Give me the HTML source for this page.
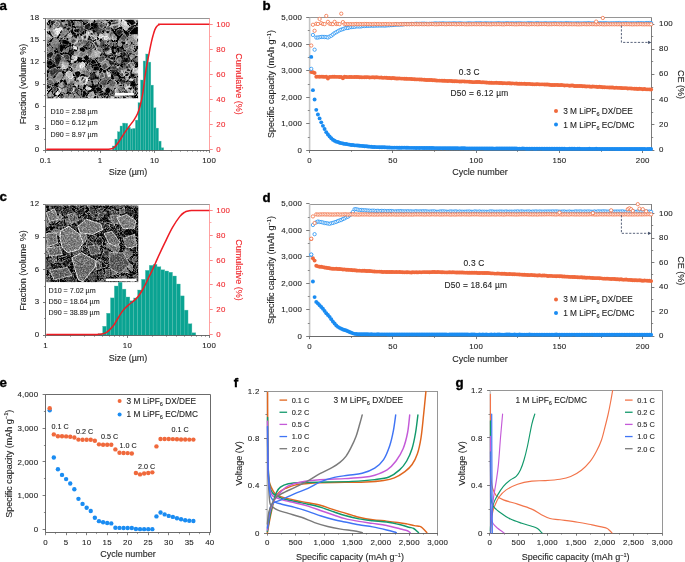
<!DOCTYPE html>
<html><head><meta charset="utf-8"><title>Figure</title>
<style>
html,body{margin:0;padding:0;background:#fff;}
svg{display:block;}
</style></head>
<body>
<svg width="685" height="562" viewBox="0 0 685 562" font-family="'Liberation Sans', Arial, sans-serif" font-size="7.9" fill="#1e1e1e">
<rect width="685" height="562" fill="#fff"/>
<defs>
<filter id="grain" x="0" y="0" width="100%" height="100%" color-interpolation-filters="sRGB"><feTurbulence type="fractalNoise" baseFrequency="0.9" numOctaves="1" seed="3" result="n"/><feColorMatrix in="n" type="matrix" values="0 0 0 0 1  0 0 0 0 1  0 0 0 0 1  -3.5 0 0 0 2.2"/></filter>
<filter id="grain2" x="0" y="0" width="100%" height="100%" color-interpolation-filters="sRGB"><feTurbulence type="fractalNoise" baseFrequency="0.7" numOctaves="1" seed="9" result="n"/><feColorMatrix in="n" type="matrix" values="0 0 0 0 0  0 0 0 0 0  0 0 0 0 0  -3.5 0 0 0 2.0"/></filter>
<filter id="debris" x="0" y="0" width="100%" height="100%" color-interpolation-filters="sRGB"><feTurbulence type="turbulence" baseFrequency="0.35" numOctaves="2" seed="4" result="n"/><feColorMatrix in="n" type="matrix" values="0 0 0 0 0.95  0 0 0 0 0.95  0 0 0 0 0.95  -6 0 0 0 1.55"/></filter>
<clipPath id="clipA"><rect x="46.6" y="19.4" width="91.6" height="79"/></clipPath>
<clipPath id="clipC"><rect x="45.9" y="205.2" width="92.6" height="77"/></clipPath>
<filter id="debris2" x="0" y="0" width="100%" height="100%" color-interpolation-filters="sRGB"><feTurbulence type="turbulence" baseFrequency="0.3" numOctaves="2" seed="8" result="n"/><feColorMatrix in="n" type="matrix" values="0 0 0 0 1  0 0 0 0 1  0 0 0 0 1  -9 0 0 0 1.5"/></filter>
<filter id="shade" x="0" y="0" width="100%" height="100%" color-interpolation-filters="sRGB"><feTurbulence type="fractalNoise" baseFrequency="0.11" numOctaves="2" seed="21" result="n"/><feColorMatrix in="n" type="matrix" values="0 0 0 0 0  0 0 0 0 0  0 0 0 0 0  -2.6 0 0 0 1.55"/></filter>
<filter id="contrastA" x="0" y="0" width="100%" height="100%" color-interpolation-filters="sRGB"><feComponentTransfer><feFuncR type="linear" slope="1.45" intercept="-0.2"/><feFuncG type="linear" slope="1.45" intercept="-0.2"/><feFuncB type="linear" slope="1.45" intercept="-0.2"/></feComponentTransfer></filter>
<filter id="contrastC" x="0" y="0" width="100%" height="100%" color-interpolation-filters="sRGB"><feComponentTransfer><feFuncR type="linear" slope="1.35" intercept="-0.15"/><feFuncG type="linear" slope="1.35" intercept="-0.15"/><feFuncB type="linear" slope="1.35" intercept="-0.15"/></feComponentTransfer></filter>
</defs>
<text x="-0.6" y="10.1" font-weight="bold" fill="#000" font-size="13.3" stroke="#000" stroke-width="0.35">a</text>
<g clip-path="url(#clipA)"><g filter="url(#contrastA)">
<rect x="46.6" y="19.4" width="91.6" height="79" fill="#050505"/><rect x="46.6" y="19.4" width="91.6" height="79" filter="url(#debris)" opacity="0.6"/><path d="M90,74.1 89.8,74.5 90.1,80.4 98.6,80.4 100.2,73.7Z" fill="#2e2e2e" stroke="#c0c0c0" stroke-width="0.5"/><path d="M48.6,53.3 54.8,52.9 50,45 46.6,47.8 46.6,51Z" fill="#767676" stroke="#b2b2b2" stroke-width="0.4"/><path d="M71.9,27.6 69,36.1 76.7,34.2 72.3,27.5Z" fill="#121212" stroke="#c7c7c7" stroke-width="0.5"/><path d="M78.4,47.2 76.2,58.2 83.3,60.1 87.1,58.6 89.1,51.5 80.6,45.8Z" fill="#979797" stroke="#e4e4e4" stroke-width="0.4"/><path d="M84.3,64.2 77.3,62.6 73.4,64.7 71.5,67.2 75.2,74.5 85.6,73.4 85.9,73.1 84.6,65.5Z" fill="#989898" stroke="#d4d4d4" stroke-width="0.5"/><path d="M97.8,49.1 101.7,49.3 102.6,48 102.3,44.3 99.7,41.5Z" fill="#5a5a5a" stroke="#b4b4b4" stroke-width="0.5"/><path d="M114.2,67.9 113.8,67.8 111.6,72.6 114.7,76.7 120.5,80.7 121.1,80.7 124.1,77.6 124.3,77.3Z" fill="#101010" stroke="#d2d2d2" stroke-width="0.4"/><path d="M97,50.5 92.5,49.1 92.2,49.2 89.7,56.9 93.6,58.6 98.8,56.8 100.8,52.5Z" fill="#a0a0a0" stroke="#f0f0f0" stroke-width="0.3"/><path d="M81.9,95.4 82.5,94.1 80.5,91 78.8,90.1 68.5,96.5 72,98.4 76.7,98.4Z" fill="#212121" stroke="#bdbdbd" stroke-width="0.4"/><path d="M125.8,77.2 128.8,75.9 129,72.6 126,67.4 125.4,67.2 122.9,66.9Z" fill="#979797" stroke="#d3d3d3" stroke-width="0.5"/><path d="M67.1,94.4 77.6,88 74.8,85.2 70.1,87 65.5,94.1Z" fill="#0d0d0d" stroke="#c9c9c9" stroke-width="0.4"/><path d="M90.1,47.9 90.3,47.7 92,40.9 80.7,40.7 79.7,44.6Z" fill="#2b2b2b" stroke="#b0b0b0" stroke-width="0.5"/><path d="M49,59.6 46.6,65.6 46.6,70.4 57.1,66.8 54,62.4Z" fill="#191919" stroke="#ebebeb" stroke-width="0.4"/><path d="M77.8,32 78.6,33.3 83,31.4 84.4,30.1 81.3,20.8 75.3,25.1Z" fill="#555555" stroke="#cccccc" stroke-width="0.3"/><path d="M68.5,27.2 62.8,32.1 60.7,36.8 65.8,38 66.9,36.6 70.7,27.6Z" fill="#2a2a2a" stroke="#eeeeee" stroke-width="0.5"/><path d="M117.7,40.5 117.7,40.5 124.5,37.3 124.5,37 119.7,29.2 113.1,32Z" fill="#0c0c0c"/><path d="M97.2,38.4 91.7,30.5 89.6,30.3 87.9,31.9 92.2,39.8 97.1,38.5Z" fill="#ababab" stroke="#e7e7e7" stroke-width="0.4"/><path d="M113.5,28.5 120,26.7 120.3,26.4 120.4,19.4 116.6,19.4 109.5,26.4 109.5,26.5Z" fill="#c8c8c8" stroke="#ffffff" stroke-width="0.3"/><path d="M94.2,41.8 94.2,41.8 92,47.5 96.1,47.9 99.3,41.2 98.5,39.7Z" fill="#676767" stroke="#f1f1f1" stroke-width="0.5"/><path d="M72.4,61.6 75.4,58.2 72.9,47.3 69.3,47 64.6,51.5 63.5,55.3Z" fill="#121212" stroke="#f3f3f3" stroke-width="0.3"/><path d="M48.3,73.7 60.6,77.5 60.6,77.5 62.6,69.1 57.2,69.2Z" fill="#4c4c4c" stroke="#afafaf" stroke-width="0.4"/><path d="M100.6,70.8 95.2,61 91.6,59.8 87.8,61.4 88.1,62.8 99.3,71.7Z" fill="#151515" stroke="#e1e1e1" stroke-width="0.3"/><path d="M53.5,96.6 51.3,95.7 46.6,97.9 46.6,98.4 53.9,98.4Z" fill="#232323" stroke="#bcbcbc" stroke-width="0.4"/><path d="M108.5,72.3 104.1,73.2 103,74.2 102.6,74.6 101,80.9 102.9,88.1 111,77.2Z" fill="#626262" stroke="#bebebe" stroke-width="0.5"/><path d="M117.4,43.2 117.3,43.2 120.2,50.7 124.6,49.8 125.8,42.4 124,40.6Z" fill="#1d1d1d" stroke="#d8d8d8" stroke-width="0.4"/><path d="M104.9,50.8 103.8,51.7 102.5,55 110.5,59.7 111.1,58.2 108.8,53.9Z" fill="#2b2b2b" stroke="#efefef" stroke-width="0.5"/><path d="M136.8,44 137.9,50.3 138.2,50.4 138.2,42.6Z" fill="#9b9b9b" stroke="#dcdcdc" stroke-width="0.4"/><path d="M104.7,27.5 100,20.7 92.7,28.9 99.1,35 99.5,34.5 104.7,27.5Z" fill="#565656"/><path d="M91.2,41.3 91.3,41.2 86.5,33.5 81.4,36 81,38.2Z" fill="#c5c5c5" stroke="#ffffff" stroke-width="0.3"/><path d="M51.1,38.2 46.6,32.6 46.6,44.5 48.4,42.2Z" fill="#676767" stroke="#cdcdcd" stroke-width="0.5"/><path d="M102.7,39.2 103.9,42.7 108.6,44.1 113.2,43.3 113.2,43.3 113.2,43.2 102.8,37.2 102.3,37.6 102.3,37.6Z" fill="#6e6e6e" stroke="#cdcdcd" stroke-width="0.4"/><path d="M129.8,70.5 135.2,67.3 131.2,63.8 127.2,64.7Z" fill="#9d9d9d" stroke="#dfdfdf" stroke-width="0.4"/><path d="M62.6,93.6 67.4,85.9 60.6,82.5 60.5,82.5 57.9,87.1 61.3,93.8Z" fill="#5c5c5c" stroke="#acacac" stroke-width="0.3"/><path d="M128.4,83.2 124.5,84.7 125.4,91.6 128.3,95.3 132.4,94.1 133.4,92.6Z" fill="#bbbbbb" stroke="#f7f7f7" stroke-width="0.4"/><path d="M85.9,88.4 87.4,92.2 94.9,94.1 99.1,92.7 99.3,91.1 98.2,83.9 90.6,82.8Z" fill="#1e1e1e" stroke="#c7c7c7" stroke-width="0.4"/><path d="M87.5,66.1 90.3,72.4 98.9,71.3 99.2,71Z" fill="#858585" stroke="#dadada" stroke-width="0.4"/><path d="M127.4,98 122.4,95.3 118.3,98.4 127.4,98.4Z" fill="#191919" stroke="#d3d3d3" stroke-width="0.4"/><path d="M57.5,80.6 47.9,73.5 47.5,73.5 48.4,79.5 52.5,83.6 54.4,84.3Z" fill="#7f7f7f"/><path d="M126.5,64.3 130.5,61.6 132.3,54 127.5,54.1 125.8,64.2Z" fill="#2e2e2e" stroke="#e2e2e2" stroke-width="0.4"/><path d="M124.9,62.9 125.4,52.5 122.6,52 117.9,53.8 115.5,60 115.6,62 116.6,64.4 117.1,64.3 121.8,63.7Z" fill="#262626" stroke="#bfbfbf" stroke-width="0.5"/><path d="M56.4,36.9 57.4,36.6 59.5,32.4 53.4,24.3 49.3,29.7 52.8,36.2 54.7,36.9Z" fill="#acacac" stroke="#e8e8e8" stroke-width="0.5"/><path d="M122.2,25.9 123.6,26 127.3,24.8 126.9,22 124.7,19.4 123,19.4Z" fill="#bdbdbd"/><path d="M56.5,63.4 60.2,67.5 66.5,67.5 68.7,65.9 69.6,62.6 60.1,55.5 57.9,55.6Z" fill="#838383"/><path d="M48.4,86.4 46.6,85.3 46.6,88.1Z" fill="#151515" stroke="#ababab" stroke-width="0.3"/><path d="M135.6,33.8 131.9,34.9 127.8,38.5 127.7,38.7 129.2,40.7 133.6,42.1 138.2,37.8 138.2,36.3Z" fill="#bdbdbd" stroke="#f9f9f9" stroke-width="0.5"/><path d="M128.3,79.6 127.9,79.9 134.7,91 137.8,87.7 138.2,85.3 138.2,84.1 136.7,80.1 132.4,78.1 128.5,79.5Z" fill="#292929" stroke="#c9c9c9" stroke-width="0.3"/><path d="M132.2,61.3 136.4,64.2 138.2,64.1 138.2,57.8 137.3,55.9 136.2,55.5 135.3,55.6Z" fill="#161616" stroke="#e1e1e1" stroke-width="0.4"/><path d="M89.2,23.7 90.9,23.3 93.8,19.4 86.1,19.4Z" fill="#a6a6a6" stroke="#e2e2e2" stroke-width="0.4"/><path d="M66.2,98.1 64.4,97.4 62.8,97.4 62.1,98.1 62.2,98.4 66.6,98.4Z" fill="#878787" stroke="#ebebeb" stroke-width="0.3"/><path d="M102.3,36.4 114,39.9 111.3,31.3 107.5,29.2Z" fill="#969696" stroke="#d2d2d2" stroke-width="0.5"/><path d="M119.2,86.7 108.7,93.8 112.2,98.3 122.2,93.7 119.9,86.9Z" fill="#575757" stroke="#f0f0f0" stroke-width="0.5"/><path d="M136,25.1 136.9,19.4 132.8,19.4 128.7,22.8 130.2,25.8Z" fill="#c4c4c4"/><path d="M69.6,70.2 67.1,71.1 62.1,79.1 68.9,84.1 74.7,82.8 73.9,77.7Z" fill="#939393" stroke="#cfcfcf" stroke-width="0.4"/><path d="M65.5,26.1 58.8,19.4 56.3,19.4 55.1,21.2 60,29.4Z" fill="#5d5d5d" stroke="#c0c0c0" stroke-width="0.5"/><path d="M104.1,49.1 109.2,50.9 108.8,45 104,45.6Z" fill="#0c0c0c" stroke="#afafaf" stroke-width="0.3"/><path d="M122,28.8 125.5,37.7 130.2,33.6 124,28.5 122.4,28.5Z" fill="#1e1e1e" stroke="#cfcfcf" stroke-width="0.4"/><path d="M54.9,50.9 55.3,50.9 56,41.1 54,40.1 50.5,43.2Z" fill="#8a8a8a"/><path d="M136,76.6 138.2,75 138.2,67.3 137.9,67.3 132.5,71.2 132.1,75Z" fill="#8f8f8f" stroke="#eaeaea" stroke-width="0.5"/><path d="M77.7,76.6 77.7,81.7 79.7,85.7 81.3,87.4 87.2,82.2 88.5,76.6Z" fill="#b6b6b6"/><path d="M111,65.4 111.2,63.4 103,57.7 98.7,59.1 102.8,68.5 106.9,68.8Z" fill="#898989" stroke="#e7e7e7" stroke-width="0.4"/><path d="M110.9,52 114.5,56.1 117.5,51.3 115.2,44 111,46.1Z" fill="#0b0b0b" stroke="#f1f1f1" stroke-width="0.4"/><path d="M133.8,27 129.3,26.8 125.9,28.5 131.4,32.2 134.7,30.7Z" fill="#232323" stroke="#d4d4d4" stroke-width="0.5"/><path d="M114.2,79.1 102.8,88.6 102.4,90.4 105.2,92.2 118.6,86.1Z" fill="#959595" stroke="#d1d1d1" stroke-width="0.3"/><path d="M69.2,45.4 66.3,40.7 61.5,38.9 60.4,39.2 63.2,47.5Z" fill="#464646" stroke="#e2e2e2" stroke-width="0.3"/><path d="M116.2,66.5 125.3,76.4 125.5,76.3 120.1,66.6Z" fill="#b6b6b6" stroke="#f2f2f2" stroke-width="0.4"/><path d="M58.7,51.5 60.6,51.9 62.5,48.7 58.7,41 56.9,41.2 57.8,51Z" fill="#636363" stroke="#b1b1b1" stroke-width="0.4"/><path d="M125.4,49.7 127.5,51.5 131.9,53.2 133,53.1 133.9,45.6 129.5,42.8Z" fill="#6e6e6e" stroke="#c5c5c5" stroke-width="0.3"/><path d="M50.3,54 49.9,56.8 53.8,61.3 58.5,55 57.6,54.2 57,54.1Z" fill="#676767" stroke="#cacaca" stroke-width="0.5"/><path d="M68.6,38.9 67.8,40.6 72.4,44.2 76,44.8 77.8,42.7 78.5,39 78.1,36.7 76.7,35.6Z" fill="#b4b4b4"/><path d="M111.4,46.6 112.7,42.4 111.8,41.7 108.9,44.2 109.2,45.1 111.2,46.6Z" fill="#575757" stroke="#b5b5b5" stroke-width="0.4"/><path d="M128.5,88.6 131.1,90.4 132,87.9 130,87.5 128.4,87.7 128.2,87.9Z" fill="#232323"/><path d="M78.8,55.4 81.9,57 84.4,53.8 84.4,53.6 80.6,52.6Z" fill="#7d7d7d"/><path d="M106.5,72.4 107.1,75.8 108.1,76.9 110.3,76.7 111.4,75.5 111.1,73.8 109.9,72 109.2,71.4Z" fill="#bbbbbb"/><path d="M89.7,80.4 89.7,80.4 87.1,84.4 91.9,85.6 92,85.4 90.7,81.3Z" fill="#7e7e7e" stroke="#ededed" stroke-width="0.3"/><path d="M94.8,59.8 92.5,59.3 91.9,59.6 90.1,62.9 93,64.4 97.1,63.4Z" fill="#0e0e0e" stroke="#e9e9e9" stroke-width="0.5"/><path d="M132.6,71 136.4,73.6 137.3,72.5 137.1,68.5 136.1,68 133.1,68.9 132.6,70Z" fill="#b7b7b7" stroke="#f3f3f3" stroke-width="0.4"/><path d="M112,54.1 107.4,55.7 107.7,57.2 107.7,57.2 111.7,56.2 112.2,54.4Z" fill="#121212" stroke="#f3f3f3" stroke-width="0.3"/><path d="M107.1,44.9 105.3,43.4 103.5,47.6 103.5,47.7 107.7,45.8Z" fill="#141414" stroke="#f3f3f3" stroke-width="0.5"/><path d="M79.3,48.5 79.2,48.9 80.1,51 83.9,52.3 85.5,49.6 84.6,47.8 84.4,47.7 82.1,46.8Z" fill="#0a0a0a" stroke="#c1c1c1" stroke-width="0.5"/><path d="M79.5,82.2 79.3,81 78.2,79.4 75.8,80.1 75.8,80.3 79.5,82.2Z" fill="#1f1f1f" stroke="#c3c3c3" stroke-width="0.5"/><path d="M84.6,45.2 84.7,45.3 87.6,41.6 86.2,40.2 84.6,40.4Z" fill="#6c6c6c" stroke="#eeeeee" stroke-width="0.4"/><path d="M108.5,19.5 108.4,20 109.1,21.1 109.5,21.3 110,21 110.6,19.4 108.5,19.4Z" fill="#494949" stroke="#afafaf" stroke-width="0.4"/><path d="M116.7,38 116.8,37.1 113.3,33.6 111.9,39 113.1,39.5 114.1,39.8 115.8,39Z" fill="#afafaf" stroke="#ebebeb" stroke-width="0.5"/><path d="M69.5,78.3 72.1,78.5 72.4,78.2 72.5,78 72.3,72.2 69.9,71.3 66.6,72.3 66.4,75.2Z" fill="#aaaaaa" stroke="#e9e9e9" stroke-width="0.5"/><path d="M87.5,39.7 89,40.5 91.6,40.7 92.1,40.2 88.8,37.2 87.8,37.9Z" fill="#2c2c2c"/><path d="M87.8,64.2 87.7,64.3 85.2,68.5 91.3,70.3 91.2,66.2Z" fill="#646464" stroke="#b0b0b0" stroke-width="0.4"/><path d="M131,67.6 129.8,63.1 127.5,64.1 128.2,67.1 130.5,68.7Z" fill="#525252" stroke="#d8d8d8" stroke-width="0.4"/><path d="M116.6,88.1 119.3,89.6 120.8,88.3 117,87.4Z" fill="#747474" stroke="#d6d6d6" stroke-width="0.3"/><path d="M127.9,90 129.7,94 131.1,94 131.2,91.7Z" fill="#7a7a7a" stroke="#c2c2c2" stroke-width="0.4"/><path d="M130.8,59.5 132.1,59.3 134.5,57.1 132.5,54.3 132,54.1 129.3,55.7 129.2,56.4Z" fill="#b7b7b7"/><path d="M125.3,49.2 125.7,49.2 128.9,47.3 129,45.4 123.9,44.5 123.6,44.8 123.7,47.8Z" fill="#6d6d6d" stroke="#eeeeee" stroke-width="0.4"/><path d="M61.8,87.5 64.1,86.1 61.6,83 58.1,84.5 58.9,85.7Z" fill="#9c9c9c" stroke="#d8d8d8" stroke-width="0.5"/><path d="M130.6,81.1 133,80.5 133.4,79.2 130.5,78.4 129.2,80.3Z" fill="#b1b1b1" stroke="#ededed" stroke-width="0.5"/><path d="M62.9,81.6 65.5,85.1 66.5,85.6 67.4,85.1 67.6,84.1 65,78Z" fill="#202020" stroke="#d1d1d1" stroke-width="0.4"/><path d="M119.3,91.6 118.8,90.7 116.3,88.4 115.7,88.7 117.8,93.6Z" fill="#a0a0a0" stroke="#dcdcdc" stroke-width="0.4"/><path d="M56.5,97.5 55.2,96.5 53.8,97.6 53.8,97.7 53.8,98.4 56.2,98.4Z" fill="#c1c1c1" stroke="#fdfdfd" stroke-width="0.5"/><path d="M118.5,20 118.5,19.4 113.1,19.4 112.8,21.6Z" fill="#4a4a4a" stroke="#adadad" stroke-width="0.4"/><path d="M79.3,61.3 82.2,59 81.7,57.7 78.1,57 77.8,57.2 78.3,60.2 78.6,60.7Z" fill="#0f0f0f"/><path d="M82.6,61.7 80.2,63.1 79.9,67.6 81.4,68 83.1,67 85.4,63.8Z" fill="#bebebe" stroke="#fafafa" stroke-width="0.5"/><path d="M82.3,88.4 83.4,86.3 83.2,86 81.8,84.7 81.2,84.6 81.2,84.6 79.2,86.5 79.5,87.6 80.8,88.5Z" fill="#828282" stroke="#c7c7c7" stroke-width="0.5"/><path d="M69.5,38.9 72,36.9 71.6,33.7 70.3,32.3 70.1,32.4 66.4,37.3Z" fill="#a8a8a8" stroke="#e4e4e4" stroke-width="0.4"/><path d="M73.7,96.2 72.7,93.9 72.2,93.8 71.1,93.9 69.2,94.6 69.8,98.4 72.8,98.4Z" fill="#8e8e8e" stroke="#cacaca" stroke-width="0.5"/><path d="M54.9,67.4 51.4,68.8 49.2,71.1 50.8,76.5 52.2,76.8 58.6,70.1 58,69.4Z" fill="#4a4a4a" stroke="#cfcfcf" stroke-width="0.4"/><path d="M97.3,46.2 98.2,45.6 95.2,41.8 94.3,42.8Z" fill="#252525"/><path d="M115.6,70.9 113.7,73.4 114.7,74.9 117.1,73.4 117.1,73 115.6,70.9Z" fill="#1a1a1a" stroke="#b8b8b8" stroke-width="0.4"/><path d="M67.8,47.4 62.9,51.3 63.3,51.6 67.9,52.6 68.4,51.6 69.4,46.9Z" fill="#7f7f7f" stroke="#c3c3c3" stroke-width="0.5"/><path d="M118.6,85.9 118.2,86.6 121.7,88.2 123.3,88.3 123.8,87.6 122.4,86.7 121.5,86.3Z" fill="#737373" stroke="#afafaf" stroke-width="0.4"/><path d="M80.9,91 79.1,90.1 77.3,92.8 80.5,97 81.2,97.3Z" fill="#8e8e8e"/><path d="M104.8,69.7 107.5,68 108.2,66.2 105.4,62.2 101.6,66 102.6,68.9Z" fill="#5c5c5c" stroke="#f3f3f3" stroke-width="0.5"/><path d="M92.3,51 90.3,49.2 87.6,50 86.7,52.6 86.8,52.8 90.8,55.8 91.5,55.6Z" fill="#7a7a7a" stroke="#b8b8b8" stroke-width="0.5"/><path d="M102.2,49.2 102.2,49.2 101.1,48 99.6,47.8 98.3,48.1 96.5,49.5 100.8,53.1 102.1,53 102.3,52.5Z" fill="#6c6c6c" stroke="#f1f1f1" stroke-width="0.5"/><path d="M73.5,87.2 72.5,91.8 73.4,91.8 74.7,87.6Z" fill="#c0c0c0" stroke="#fcfcfc" stroke-width="0.4"/><path d="M84.4,70.6 82.8,72 84.2,74.2 86.3,75.8 87.6,76.1 88.9,76.1 89,76.1 90,71.9 89.8,71.7Z" fill="#7d7d7d"/><path d="M49.7,50.7 47.8,47.5 46.6,47.2 46.6,47.2 46.6,52.1Z" fill="#6e6e6e" stroke="#c0c0c0" stroke-width="0.5"/><path d="M83,36.6 84,38.9 84.3,38.9 85.8,38.6 86.4,36.7 85.4,35.3Z" fill="#313131" stroke="#cfcfcf" stroke-width="0.5"/><path d="M53.2,85 54.5,83.2 51.2,79.4 49.9,79.2 46.6,81 46.6,82.5Z" fill="#686868" stroke="#c0c0c0" stroke-width="0.5"/><path d="M118.5,57.9 117,59.6 116.7,60.6 117.3,62.5 118,63.1 120.2,63.2 120.9,62.8 121.3,58.9 120.5,57.6Z" fill="#737373" stroke="#eaeaea" stroke-width="0.5"/><path d="M107.3,80.2 105.9,78.8 101.1,80.8 99.7,84 103.9,86.2 106.5,85.3Z" fill="#555555" stroke="#e0e0e0" stroke-width="0.3"/><path d="M108,22.1 106.9,21 104,21.1 103.7,22.7 104.1,23 106.8,22.9Z" fill="#a2a2a2" stroke="#eaeaea" stroke-width="0.4"/><path d="M61.4,68.4 62.1,69 65.3,69.6 68.6,67.5 68.1,63.1 68,62.9 62.4,61Z" fill="#b7b7b7"/><path d="M123.5,69.2 123.5,69.2 124.3,69.3 126.5,67.8 126.3,64.8 123.5,64.5 122.8,64.9Z" fill="#858585"/><path d="M125.5,98.4 132.4,98.4 132.6,97.9 130.7,96.6 129.4,96.3 126.6,97.3 125.8,98Z" fill="#b3b3b3" stroke="#f4f4f4" stroke-width="0.3"/><path d="M138.2,66.1 138.2,63.4 135.8,63.1 136.6,65.9 137.4,66.5Z" fill="#141414"/><path d="M59.4,40.2 57.9,38.7 54.1,37 50,44 52.4,46.8 54.9,48.6 56.6,48.3 58.6,43.4Z" fill="#848484"/><path d="M129.1,86.1 130,82.7 128.5,81.8 127.2,82.2 126.9,82.9 127.1,86.1Z" fill="#595959" stroke="#b5b5b5" stroke-width="0.5"/><path d="M136.3,86.3 136.2,86.8 138.2,88.1 138.2,85.1Z" fill="#737373" stroke="#d7d7d7" stroke-width="0.5"/><path d="M113.9,89.9 112.9,89.9 111,93.6 111.1,93.6 112.6,94.6 114,93Z" fill="#313131" stroke="#cccccc" stroke-width="0.4"/><path d="M115.1,54.3 113.5,54.3 113.8,56.2 115.9,58 116.8,55.8Z" fill="#2f2f2f" stroke="#b3b3b3" stroke-width="0.4"/><path d="M79.9,98.2 74.9,97.3 74.3,98.4 79.5,98.4Z" fill="#939393" stroke="#d7d7d7" stroke-width="0.4"/><path d="M105.1,94.8 103.2,96.8 103.3,97.2 104.2,98.3 104.7,97.9 106.9,95.7Z" fill="#191919" stroke="#e7e7e7" stroke-width="0.5"/><path d="M137.8,77.9 137,77.2 135.2,79.3 135,80.7 136,83.8 138.2,83 138.2,79.3Z" fill="#666666" stroke="#f3f3f3" stroke-width="0.4"/><path d="M107.5,95.9 105.3,98.2 108,98.4 108.3,96.1Z" fill="#0a0a0a" stroke="#b6b6b6" stroke-width="0.3"/><path d="M61.2,92 61.4,89.2 58.5,87.6 59.2,89.8 60.9,92.3Z" fill="#aeaeae" stroke="#eaeaea" stroke-width="0.4"/><path d="M96.7,37.4 97.1,37.2 97.5,34.2 95.4,32.4 94.6,35.3 94.6,35.5Z" fill="#9e9e9e" stroke="#dadada" stroke-width="0.3"/><path d="M95.1,21 98.3,23.1 102.1,21.6 102.4,19.9 102.1,19.4 95.8,19.4Z" fill="#919191" stroke="#e8e8e8" stroke-width="0.4"/><path d="M113.2,29 114.3,29.4 118.1,27 117.9,25.1 112.4,26.2 112.4,26.3Z" fill="#525252" stroke="#bebebe" stroke-width="0.5"/><path d="M51.6,97.5 49.2,98.3 49.2,98.4 51.2,98.4 51.6,97.6Z" fill="#1e1e1e" stroke="#dcdcdc" stroke-width="0.3"/><path d="M70.6,91.8 73.1,87.5 72.9,87.3 69.8,86.9 68.8,87.3 68.4,91.2 68.8,91.7Z" fill="#535353" stroke="#cacaca" stroke-width="0.5"/><path d="M91,89.4 91.5,88.3 87,86.2 86.6,86.1 85.4,88.2 87.6,90.5Z" fill="#c0c0c0" stroke="#fcfcfc" stroke-width="0.4"/><path d="M81.3,81.3 84.4,78 83,76 82.5,76.5 80.7,80 80.7,81.3Z" fill="#2d2d2d" stroke="#ededed" stroke-width="0.5"/><path d="M110.2,37.7 110.6,37.8 113.1,32.4 113,31.8 111.5,31.3 111.2,31.5 109.3,34.3 109.7,36.2Z" fill="#707070" stroke="#f0f0f0" stroke-width="0.3"/><path d="M93.3,30.1 92.1,28.2 90.7,29.3 91.1,30.5 92.3,30.9Z" fill="#6d6d6d"/><path d="M78.4,42.3 75.3,43.9 77.4,47.8 80,46.3 79.2,42.8Z" fill="#7a7a7a"/><path d="M99.1,45.9 100.5,45.6 99.1,40.3 97.4,40 96.9,40.1 96,41.1Z" fill="#9e9e9e"/><path d="M75.9,51.6 73.5,54.7 77.4,55.4 77.6,55.3 78.8,52.3 77.5,50.7Z" fill="#848484" stroke="#c0c0c0" stroke-width="0.4"/><path d="M87,47.1 89.7,46.8 91.2,43.7 88.9,42.6 86.1,45.7Z" fill="#505050" stroke="#e9e9e9" stroke-width="0.5"/><path d="M108.2,36.3 108.1,34.7 106.1,34 105.4,34.8Z" fill="#bebebe"/><path d="M117.8,69 118.3,71.6 121.9,70.3 121.1,66.5 119,66.2Z" fill="#535353" stroke="#b5b5b5" stroke-width="0.4"/><path d="M86.2,33.8 86.8,35.4 87.9,35.2 88.7,34.7 88.8,34 87.5,31.6 86.5,31.2Z" fill="#c4c4c4" stroke="#ffffff" stroke-width="0.5"/><path d="M133.2,52.3 135.2,49.9 134.1,49.3 131.7,50.2 132.7,52.1Z" fill="#515151" stroke="#ededed" stroke-width="0.5"/><path d="M93.6,43.2 92.9,43.7 91.8,47.2 93.7,49 94.6,48.8 96,47.3 93.7,43.2Z" fill="#4d4d4d" stroke="#c9c9c9" stroke-width="0.5"/><path d="M51.3,51.3 46.6,54.2 46.6,58.1 51.2,58.2 53.9,53.4Z" fill="#313131" stroke="#d8d8d8" stroke-width="0.5"/><path d="M93,80.3 94.2,84.7 97.3,83.9 98.4,81.2 97.4,79.4 95.9,79.2Z" fill="#9b9b9b" stroke="#e5e5e5" stroke-width="0.4"/><path d="M125.5,43.3 130,44.6 130.8,43 130.3,41.6 127.8,39.9Z" fill="#bbbbbb" stroke="#f7f7f7" stroke-width="0.5"/><path d="M58.9,97.4 57.6,97.4 57.5,98.4 59.4,98.4Z" fill="#cacaca" stroke="#ffffff" stroke-width="0.5"/><path d="M82.6,97.7 84.3,97.4 87.3,93.3 84.6,90.5 82.8,90.6 82,97Z" fill="#181818" stroke="#f0f0f0" stroke-width="0.5"/><path d="M103.6,23.9 104.9,26.9 105,26.8 106.2,23.6Z" fill="#494949" stroke="#dadada" stroke-width="0.5"/><path d="M59.8,93.5 58,91 55.1,93.9 55.6,94.6 57.1,95 58.4,94.7 59.8,93.5Z" fill="#c5c5c5" stroke="#ffffff" stroke-width="0.4"/><path d="M89.8,58.5 86.4,54.4 83.9,57.3 83.9,58.5 86.5,61.5 86.6,61.5Z" fill="#171717" stroke="#d1d1d1" stroke-width="0.3"/><path d="M116.5,53.5 117.8,55.7 120,55.3 120.5,54 118.1,52.4Z" fill="#8d8d8d" stroke="#f4f4f4" stroke-width="0.4"/><path d="M128.8,72.3 125.6,71.3 124.9,71.2 125,73.6 128.6,72.6Z" fill="#101010" stroke="#f2f2f2" stroke-width="0.3"/><path d="M48,98.2 46.7,96.8 46.6,96.9 46.6,98.4 48,98.4Z" fill="#757575" stroke="#d7d7d7" stroke-width="0.5"/><path d="M122.9,85.9 123.1,83.8 122.9,83.7 122,85.4Z" fill="#a8a8a8"/><path d="M111.1,89.8 108.4,87.4 106,88 105,90.5 105.6,92.6 107,93.8 107.7,94.1 108.8,93.9Z" fill="#131313" stroke="#dcdcdc" stroke-width="0.3"/><path d="M86.1,84.4 88.5,78.9 86.9,78.7 85.2,84.1 85.5,84.4Z" fill="#bcbcbc" stroke="#f8f8f8" stroke-width="0.5"/><path d="M87.6,29.5 89.7,28.3 90.8,26.4 89.9,22.3 89.1,22.4 84.5,25.3 84.1,28.1 84.4,28.7 86.3,29.6Z" fill="#2f2f2f" stroke="#e2e2e2" stroke-width="0.5"/><path d="M76.6,60.1 76.3,59.6 71.1,60.1 71.1,62.9 71.2,63.1Z" fill="#c2c2c2" stroke="#fefefe" stroke-width="0.4"/><path d="M68.2,95.1 67.9,94.5 63.8,93.9 63.3,94 63.3,94.1 65.1,98.4 67.3,98.4Z" fill="#797979" stroke="#cecece" stroke-width="0.5"/><path d="M104.5,32.8 104.6,30.7 103.7,29.8 102.2,30 101.6,31.6 103.7,33.6 103.9,33.5Z" fill="#101010" stroke="#d4d4d4" stroke-width="0.5"/><path d="M127.6,80.1 128.7,78.1 127.8,77.1 125.4,77.3 124.8,77.9 126.5,80.5Z" fill="#9b9b9b"/><path d="M136.7,26.3 132.5,29 129.1,33.1 130.1,34.5 138.2,34.6 138.2,26.7Z" fill="#0b0b0b" stroke="#e4e4e4" stroke-width="0.5"/><path d="M137.1,94.2 137,95.7 138.2,95.7 138.2,92.9Z" fill="#afafaf"/><path d="M122.7,76.4 123.2,75.9 123.3,74.7 123.2,72.5 123.1,72.4 119.7,73.8 119.5,74.3 120.8,76.3 122.6,76.5Z" fill="#4d4d4d" stroke="#e3e3e3" stroke-width="0.5"/><path d="M121,46.6 122.2,44.2 119.2,40.3 118,40.8 118.5,46Z" fill="#888888" stroke="#c4c4c4" stroke-width="0.5"/><path d="M67.3,88.4 66.4,87.7 63.3,88.8 62.2,91.9 66.8,92.6Z" fill="#a5a5a5" stroke="#e1e1e1" stroke-width="0.4"/><path d="M123,19.6 122.5,19.4 122.4,19.6 121.4,22.3 121.2,24.1 121.5,26.4 125.2,30.2 125.8,30.4 129.5,27Z" fill="#bfbfbf" stroke="#fbfbfb" stroke-width="0.4"/><path d="M50.3,20.9 50.7,24.2 52.1,26.6 55.2,20.4 55.1,20.3Z" fill="#2f2f2f" stroke="#adadad" stroke-width="0.5"/><path d="M46.6,61.6 46.6,64.4 50.9,65.8 53.4,64 50.8,60.1Z" fill="#141414" stroke="#adadad" stroke-width="0.4"/><path d="M62.3,95.6 60.6,96.3 61.3,98.4 63.5,98.4Z" fill="#151515" stroke="#eaeaea" stroke-width="0.4"/><path d="M83.1,30.4 81.2,33.4 82.3,34.7 84.5,33.9 84.4,31.5Z" fill="#101010" stroke="#e0e0e0" stroke-width="0.5"/><path d="M108.1,33.9 110.7,31.4 106.4,30.2 105.8,32.8Z" fill="#242424" stroke="#f3f3f3" stroke-width="0.5"/><path d="M69.5,53.2 71,54.7 72,54.5 74.9,51.4 73.2,49.9 70,52.1Z" fill="#222222" stroke="#cacaca" stroke-width="0.3"/><path d="M111.3,70.1 112.5,72.1 115.3,70.5Z" fill="#151515" stroke="#b1b1b1" stroke-width="0.3"/><path d="M60,50.5 62.2,50.9 66,45.5 60.4,44.9Z" fill="#131313"/><path d="M90.1,98.4 92.6,98.4 94.5,96.1 94.8,95.3 93.2,91.3 89.5,92.8 87,96.8Z" fill="#b8b8b8" stroke="#f4f4f4" stroke-width="0.4"/><path d="M113.5,48.6 113.5,51.5 113.7,51.7 115.1,52.4 116.5,51.5 116.8,49.2Z" fill="#717171"/><path d="M62.3,75.9 62,72.9 59.2,72.1 54.6,78.5 57.6,81.8 57.7,81.8 61.1,79.7 62.3,76.1Z" fill="#9b9b9b" stroke="#d7d7d7" stroke-width="0.4"/><path d="M67.7,83.5 69.2,80.7 66,76.7 65.9,76.9Z" fill="#868686" stroke="#dcdcdc" stroke-width="0.4"/><path d="M102.8,40.3 100.6,40.3 101.1,45.9 102.4,46.9 104.6,42.9 104.4,41.2Z" fill="#5e5e5e"/><path d="M46.6,24.4 46.6,30.3 49,30.9 49.5,28.8 48.8,25.9Z" fill="#b0b0b0" stroke="#ececec" stroke-width="0.4"/><path d="M127.7,68.5 126,71 130.1,71.2 130.7,70.6 130.5,69.6Z" fill="#151515" stroke="#ececec" stroke-width="0.5"/><path d="M61.1,27.2 52.9,30.5 53.7,32.5 57.8,35 62.2,29Z" fill="#c8c8c8" stroke="#ffffff" stroke-width="0.4"/><path d="M71.2,67.3 73.4,68.4 76.3,68.5 77.3,64.1 76.9,63.4 72.1,63.8Z" fill="#8c8c8c" stroke="#c8c8c8" stroke-width="0.5"/><path d="M88.7,19.4 82.8,19.4 82,20.7 85.1,23.2 89.4,20Z" fill="#6f6f6f"/><path d="M58.6,53.3 56.8,53.6 54.3,58.6 55.6,63.7 58.3,65.8 61.3,59.1 60.9,54.8 60.5,54.4Z" fill="#313131" stroke="#d3d3d3" stroke-width="0.4"/><path d="M48.2,22.7 47.8,19.8 47.3,19.4 46.6,19.4 46.6,22.2Z" fill="#c0c0c0"/><path d="M55.3,85.9 55.1,85.9 54.1,87.6 52.5,90.4 54.6,92.3 57.3,89.2 56.3,87Z" fill="#525252" stroke="#d4d4d4" stroke-width="0.4"/><path d="M131,46.6 130.8,48.3 131.8,48.8 134.3,47.8 133.7,45.3 131.6,44.9Z" fill="#818181" stroke="#d3d3d3" stroke-width="0.5"/><path d="M72.1,55.5 71.4,58.3 76.3,60.2 76.9,57.3 73.1,55.5Z" fill="#cccccc" stroke="#ffffff" stroke-width="0.5"/><path d="M119.1,51.4 121.5,52.1 122.7,49.4 121.4,48.3 119.2,48.8 118.6,49.3Z" fill="#4d4d4d"/><path d="M52.7,94.5 51.3,91.8 50.3,91.6 47.4,95.1 48.6,96.5 51.6,96.5 53,95.4Z" fill="#a0a0a0" stroke="#f2f2f2" stroke-width="0.3"/><path d="M102.6,23.5 98.6,24.3 99.3,26.8 101.1,28.3 103.1,28 103.4,27.5 102.9,23.9Z" fill="#4e4e4e" stroke="#d0d0d0" stroke-width="0.5"/><path d="M110.8,96.3 111.9,98.4 113.7,98.4 114,97.1 112.7,96.7Z" fill="#ababab" stroke="#e7e7e7" stroke-width="0.5"/><path d="M133.3,19.4 129.3,19.4 124.2,19.9 132.1,25.7 135.9,23Z" fill="#1e1e1e" stroke="#b4b4b4" stroke-width="0.4"/><path d="M97.6,26.9 96.8,24.6 94.2,22.2 92.7,22.7 92.6,26.7 94.2,28.6 94.9,28.9Z" fill="#2c2c2c"/><path d="M90.2,31.1 89.4,30.1 87.6,31.1 89.7,32.7 90.1,32.1Z" fill="#626262" stroke="#cbcbcb" stroke-width="0.5"/><path d="M80.2,35.3 79.2,35.7 78,39.1 78.3,40.2 79.2,40.5 82.5,39.3 81.6,36.9Z" fill="#868686" stroke="#c2c2c2" stroke-width="0.5"/><path d="M74,45.9 73.2,46.2 74.2,48.7 75.8,49.4 77,48.5 77,48.1Z" fill="#c6c6c6" stroke="#ffffff" stroke-width="0.5"/><path d="M117.6,46 115.3,42 113.8,42.7 113.7,46.9 113.7,46.9 116.9,46.5Z" fill="#707070"/><path d="M104.3,36.2 104,39.3 105.7,39.8 108.8,38 108,36.7 104.4,36.1Z" fill="#b8b8b8" stroke="#f4f4f4" stroke-width="0.5"/><path d="M128.2,53.8 130.6,52.3 130,50.4 129.2,49.7 126.3,50.5Z" fill="#626262" stroke="#c0c0c0" stroke-width="0.3"/><path d="M98.9,86.8 96,87.4 95.9,87.6 95.5,88.7 96.9,92.1 97,92.1 101.3,90.9 102,88.7Z" fill="#0f0f0f" stroke="#d1d1d1" stroke-width="0.4"/><path d="M48.2,92 46.6,90.6 46.6,93.8Z" fill="#c6c6c6" stroke="#ffffff" stroke-width="0.4"/><path d="M105.3,28 105,28.6 106.2,29.7 110.5,29.9 110.8,29.8 109.8,26.5 105.4,27.9Z" fill="#626262" stroke="#cbcbcb" stroke-width="0.4"/><path d="M80.2,42.3 81.7,45 83.8,45.2 83.1,41 82.9,40.9Z" fill="#808080" stroke="#f2f2f2" stroke-width="0.4"/><path d="M135.4,44.1 137.6,43.2 136.7,39 132.7,42.3 133.4,43.6Z" fill="#b1b1b1" stroke="#ededed" stroke-width="0.5"/><path d="M82,76.3 78.9,78.3 79.6,80.5Z" fill="#979797" stroke="#d3d3d3" stroke-width="0.4"/><path d="M114.9,93.8 113.7,96.2 115.2,96.8 117.5,96.4 117.5,96.3Z" fill="#9d9d9d"/><path d="M77.2,86.2 79.1,83.6 75.2,81.1 74.9,81.4 74.4,84.9 74.6,85.1 75.8,85.7Z" fill="#bababa" stroke="#f6f6f6" stroke-width="0.4"/><path d="M106.5,42.4 108.2,43.5 110.3,40.3 109.3,39.7 109,39.7 106.1,41.1Z" fill="#2d2d2d" stroke="#e6e6e6" stroke-width="0.5"/><path d="M50.8,36.6 50.1,35 50.1,35 47.9,34.4 46.6,35.4 46.6,42.2Z" fill="#c5c5c5" stroke="#ffffff" stroke-width="0.3"/><path d="M67.2,44.2 68.5,43.6 68.9,43.1 67.6,41.2 64.6,39.7 63,40.1 62.7,42.9Z" fill="#131313"/><path d="M98.8,28.3 96.3,30.2 96.4,30.5 98.4,32.7 99.8,31.4 100.4,29.6Z" fill="#676767"/><path d="M112.6,56.8 108.7,58.9 114.2,60.1 114.3,59Z" fill="#0f0f0f" stroke="#d1d1d1" stroke-width="0.3"/><path d="M125.5,86.9 126.2,86.5 126.3,86.3 125.6,83.7 123.7,83.9 124,86.1Z" fill="#9f9f9f" stroke="#dbdbdb" stroke-width="0.3"/><path d="M136.4,51.3 134.2,53.3 136.3,55.7 138.2,55.2 138.2,51.6Z" fill="#808080" stroke="#e0e0e0" stroke-width="0.5"/><path d="M71.1,27.1 71.3,27 71.9,25.3 70.4,20.8 68.7,19.8 67.6,21.2 67.8,26.5Z" fill="#313131" stroke="#d0d0d0" stroke-width="0.5"/><path d="M114.3,61.9 108.4,59.3 108.4,59.3 108,60.1 109.9,65.4 115,64.2Z" fill="#313131" stroke="#b5b5b5" stroke-width="0.4"/><path d="M120.4,90.6 121,91.3 121.6,91.3 123.4,89.9 123.5,89.3 122,89.4Z" fill="#525252" stroke="#f2f2f2" stroke-width="0.5"/><path d="M97.3,95.5 99.4,98.4 100.8,98.4 101.6,97.8 101.7,97.3 97.7,94.7 97.6,94.7Z" fill="#919191" stroke="#cecece" stroke-width="0.4"/><path d="M116.2,65.5 111.2,66.3 109.9,68 110.7,68.8 115.3,69.5 115.4,69.5 117,66.2Z" fill="#4a4a4a" stroke="#b2b2b2" stroke-width="0.5"/><path d="M77.7,35.4 74.1,33.6 74.1,37.1 76.5,38.5Z" fill="#1c1c1c"/><path d="M84.5,83.5 86.2,78.8 84.9,78.4 82.5,82.6Z" fill="#555555" stroke="#ececec" stroke-width="0.3"/><path d="M64.1,36.6 69.2,30.9 65.2,28.8 63.5,28.5 60.2,35.2 62,36.9Z" fill="#818181" stroke="#cacaca" stroke-width="0.3"/><path d="M90.8,33.1 90.2,33.8 90.3,34.6 93.1,35.1 93.1,35 92.4,32.9Z" fill="#2a2a2a" stroke="#afafaf" stroke-width="0.3"/><path d="M136.3,92.6 136.3,92.9 138.2,91.5 138.2,89.4 138.2,89.3Z" fill="#838383" stroke="#dfdfdf" stroke-width="0.5"/><path d="M124.1,96.1 124.6,95.3 123.7,91.5 122,92.8Z" fill="#5c5c5c" stroke="#f4f4f4" stroke-width="0.4"/><path d="M80,28 74,29.2 73.2,31.1 74.8,32.4 78.7,33 79.5,32.4 80.4,28.5Z" fill="#2a2a2a" stroke="#eaeaea" stroke-width="0.5"/><path d="M97.9,93.9 102,96.2 104.2,94.5 103.4,92.3Z" fill="#252525" stroke="#c6c6c6" stroke-width="0.5"/><path d="M122.7,62.4 125.9,62.6 128.6,61.9 129.2,61.4 127.9,57.6 123.6,57.7Z" fill="#1f1f1f" stroke="#b2b2b2" stroke-width="0.4"/><path d="M121.6,82 122.8,78.8 120.7,78.5 118.2,81.5 118.3,81.6Z" fill="#191919" stroke="#c0c0c0" stroke-width="0.5"/><path d="M76.5,78.4 79,77.1 80.7,74.1 81,73.3 79.3,70.9 77.4,70.9 74.1,72.3Z" fill="#1c1c1c" stroke="#f0f0f0" stroke-width="0.4"/><path d="M118.2,23.6 118.3,21.8 111.8,22.5 111.2,22.9 111.7,24.8Z" fill="#505050" stroke="#f4f4f4" stroke-width="0.5"/><path d="M70.1,85.5 73.2,84.4 72.7,80.9 70,81.6 69.9,84.6Z" fill="#6e6e6e"/><path d="M70,50.8 72.7,48.6 72.2,45.6 71.2,45.4 70.8,46Z" fill="#7c7c7c"/><path d="M115.6,32 115.8,32.5 119.1,36 123.4,31.5 119.3,28.7Z" fill="#2f2f2f" stroke="#c2c2c2" stroke-width="0.4"/><path d="M48.7,88.7 49.6,88.7 51.4,86.4 46.6,84 46.6,87.5Z" fill="#202020" stroke="#e5e5e5" stroke-width="0.5"/><path d="M75.6,40 73.1,39.2 70.9,41.3 72.3,43.2 73.2,43.2 74,43 76,40.9Z" fill="#696969"/><path d="M129.1,72.8 125.1,74.7 125.2,76.3 128.1,75.8Z" fill="#1e1e1e"/><path d="M122.1,55.7 123.4,56.8 127.1,55.1 127,54.5 123.9,51.2 123.6,51.2 122.2,54.4Z" fill="#292929" stroke="#ababab" stroke-width="0.4"/><path d="M136.6,57.5 133.6,59.5 134.8,61.4 137.5,62 138.2,61.1 138.2,57.5Z" fill="#727272" stroke="#c4c4c4" stroke-width="0.3"/><path d="M130.9,63.3 132.8,66.7 135.1,65.3 133.7,63.2 132.2,62.2 131.2,62.7Z" fill="#6e6e6e" stroke="#d0d0d0" stroke-width="0.5"/><path d="M94.3,34.5 94.7,30.8 94.5,30.5 93.7,30.5 93,31.9 93,32.6Z" fill="#1d1d1d"/><path d="M115.6,89.4 115,89.4 115.3,92.7 116.8,95.4 117.1,94.1Z" fill="#c6c6c6" stroke="#ffffff" stroke-width="0.3"/><path d="M124.8,90.4 124.7,91.1 126.3,95.3 128.8,93.4 126.5,89.8 125.9,89.1 125.3,89.6Z" fill="#4b4b4b" stroke="#d1d1d1" stroke-width="0.3"/><path d="M90.7,78 92,78.9 95.1,76.9 94.3,72.8 92,73.1Z" fill="#494949"/><path d="M107.7,46.8 103.9,48.7 104.8,51.6 110.1,48.1Z" fill="#282828" stroke="#b1b1b1" stroke-width="0.4"/><path d="M95.8,72.9 96.8,76.6 98.4,76.4 99.2,70.9Z" fill="#b2b2b2" stroke="#eeeeee" stroke-width="0.3"/><path d="M81.2,24.1 79.3,21.5 78.6,21.1 74.6,20.9 74.7,25.7 80.3,26.2Z" fill="#959595" stroke="#d1d1d1" stroke-width="0.3"/><path d="M99.2,76.8 100.4,78.6 104.6,76.9 103.7,73 101.6,71.8 101.6,71.8Z" fill="#5d5d5d" stroke="#e8e8e8" stroke-width="0.5"/><path d="M122.9,96.9 120.6,93.6 120,93.6 119.2,95.7 119.3,96.9 119.3,97 121.8,98.4 122.4,98.4Z" fill="#8c8c8c" stroke="#ededed" stroke-width="0.5"/><path d="M124.5,33.7 124,33.7 119.8,38.8 119.7,39.7 124.4,41.7 124.6,41.4 126.6,37.5 125.5,34.9Z" fill="#595959" stroke="#cccccc" stroke-width="0.5"/><path d="M135.5,74.7 135.4,74.4 131.2,73 130.6,73.5 130.6,73.8 130,76.5 131.1,77.2 134.2,77Z" fill="#131313" stroke="#b2b2b2" stroke-width="0.5"/><path d="M130.8,86 133.1,86.2 133.4,86.1 134.4,85.3 134.6,84.8 133.4,81.7 131,82.7Z" fill="#141414"/><path d="M128.4,35.7 129.2,38.7 132.1,40.6 136.8,37.4 137.5,35.9Z" fill="#bdbdbd"/><path d="M123.3,82.4 125.7,82.4 125.9,81.6 123.8,78.4 123.7,78.4 122.7,82.2 123.1,82.4Z" fill="#2d2d2d" stroke="#cacaca" stroke-width="0.4"/><path d="M111.2,49.7 111.2,49.7 111,49.7 105.3,52.2 105.1,52.7 106.5,54.8 111.4,52.8Z" fill="#b0b0b0" stroke="#ececec" stroke-width="0.4"/><path d="M73.8,92.1 74.3,92.3 76.1,92 77.8,89.3 77.3,88.1 75.8,87.6Z" fill="#292929" stroke="#e0e0e0" stroke-width="0.4"/><path d="M95.9,56.9 99.5,54.4 95.7,51.8 94.9,51.9 93.7,56Z" fill="#b5b5b5"/><path d="M121.5,83 121.2,82.9 118.2,83.6 118.3,85 121.2,84.9Z" fill="#adadad"/><path d="M104.8,60.2 105.2,59.5 104.9,57.7 103.5,55.3 102.3,55.5 97.7,58.1 99.3,63 99.6,63.3Z" fill="#616161" stroke="#f0f0f0" stroke-width="0.4"/><path d="M99.3,70.1 99.1,66.8 98.7,66.4 93.8,66.2 92.9,70.2 93,70.5 95.2,70.8 99.2,70.1Z" fill="#1a1a1a" stroke="#d5d5d5" stroke-width="0.4"/><path d="M115.3,82.2 115.2,82.1 111.3,80.1 109,81.2 109.7,85.5 112.9,86.5 113.9,86.1 114.3,85.8 114.8,85.3 115.2,84.6 115.4,83.8Z" fill="#666666"/><path d="M94.3,39.6 95.2,38.9 93.5,36.4 91.2,35.7 90.5,36.2 93,40.3 93.1,40.2Z" fill="#707070" stroke="#e5e5e5" stroke-width="0.4"/><path d="M75.2,96.5 80.2,97.5 80.2,97.5 76.3,93.5 74.4,94Z" fill="#979797" stroke="#d8d8d8" stroke-width="0.5"/><path d="M118.8,77.8 117.3,75.8 114.6,76.7 113.6,78.1 117,80.8Z" fill="#868686" stroke="#c2c2c2" stroke-width="0.4"/><path d="M108.7,97.2 108.7,98.4 110.6,98.4 109.7,96.6 109.6,96.6Z" fill="#5a5a5a" stroke="#d3d3d3" stroke-width="0.3"/><path d="M59,22.4 56.1,21.2 53.2,28.2 53.5,30.4 53.5,30.4 59.8,24.6Z" fill="#777777" stroke="#d1d1d1" stroke-width="0.5"/><path d="M134.5,87.2 135,92.4 137.4,89.2 135.9,86.8Z" fill="#0a0a0a" stroke="#b0b0b0" stroke-width="0.5"/><path d="M132.3,93.9 134,95.1 134.7,94.8 134.9,93.6 134.9,93.3 133.8,89.4 133.5,89.5 132.6,92Z" fill="#252525" stroke="#d8d8d8" stroke-width="0.5"/><path d="M64.4,26 66.7,20.8 62.1,22 62.1,24.1 63,25.6Z" fill="#939393"/><path d="M106.1,27 109.4,25.3 109.4,25.1 108.7,23.6 108.2,23.5 107.3,24.2Z" fill="#b4b4b4" stroke="#f0f0f0" stroke-width="0.3"/><path d="M48.7,68.7 46.6,66.6 46.6,70.1Z" fill="#a5a5a5" stroke="#e1e1e1" stroke-width="0.3"/><path d="M64.2,58.7 69.6,60.4 69.7,57.9 69.2,55.4 67.6,54.6 62.6,54.8Z" fill="#505050" stroke="#e4e4e4" stroke-width="0.5"/><path d="M138,45.4 135.6,46 135.9,48.7 136.9,49.4 138.2,49.6 138.2,45.5Z" fill="#171717" stroke="#dcdcdc" stroke-width="0.3"/><path d="M103.1,36 101.2,33.3 99.6,34.4 98.2,37.3 99.6,38.2 101.5,38.4Z" fill="#c8c8c8" stroke="#ffffff" stroke-width="0.4"/><rect x="46.6" y="19.4" width="91.6" height="79" filter="url(#shade)" opacity="0.3"/><rect x="46.6" y="19.4" width="91.6" height="79" filter="url(#debris2)" opacity="0.1"/><rect x="46.6" y="19.4" width="91.6" height="79" filter="url(#grain)" opacity="0.1"/><rect x="46.6" y="19.4" width="91.6" height="79" filter="url(#grain2)" opacity="0.12"/>
</g></g>
<rect x="114.9" y="92.9" width="19" height="2.6" fill="#fff"/>
<rect x="112.3" y="146" width="2.57" height="4.4" fill="#0aa392" stroke="#5cc0b2" stroke-width="0.35"/>
<rect x="114.87" y="139.1" width="2.57" height="11.3" fill="#0aa392" stroke="#5cc0b2" stroke-width="0.35"/>
<rect x="117.44" y="131.8" width="2.57" height="18.6" fill="#0aa392" stroke="#5cc0b2" stroke-width="0.35"/>
<rect x="120.01" y="126" width="2.57" height="24.4" fill="#0aa392" stroke="#5cc0b2" stroke-width="0.35"/>
<rect x="122.58" y="123.1" width="2.57" height="27.3" fill="#0aa392" stroke="#5cc0b2" stroke-width="0.35"/>
<rect x="125.15" y="123.3" width="2.57" height="27.1" fill="#0aa392" stroke="#5cc0b2" stroke-width="0.35"/>
<rect x="127.72" y="127.2" width="2.57" height="23.2" fill="#0aa392" stroke="#5cc0b2" stroke-width="0.35"/>
<rect x="130.29" y="128.9" width="2.57" height="21.5" fill="#0aa392" stroke="#5cc0b2" stroke-width="0.35"/>
<rect x="132.86" y="128.4" width="2.57" height="22" fill="#0aa392" stroke="#5cc0b2" stroke-width="0.35"/>
<rect x="135.43" y="120.1" width="2.57" height="30.3" fill="#0aa392" stroke="#5cc0b2" stroke-width="0.35"/>
<rect x="138" y="102.7" width="2.57" height="47.7" fill="#0aa392" stroke="#5cc0b2" stroke-width="0.35"/>
<rect x="140.57" y="80" width="2.57" height="70.4" fill="#0aa392" stroke="#5cc0b2" stroke-width="0.35"/>
<rect x="143.14" y="61" width="2.57" height="89.4" fill="#0aa392" stroke="#5cc0b2" stroke-width="0.35"/>
<rect x="145.71" y="54" width="2.57" height="96.4" fill="#0aa392" stroke="#5cc0b2" stroke-width="0.35"/>
<rect x="148.28" y="62.1" width="2.57" height="88.3" fill="#0aa392" stroke="#5cc0b2" stroke-width="0.35"/>
<rect x="150.85" y="85.1" width="2.57" height="65.3" fill="#0aa392" stroke="#5cc0b2" stroke-width="0.35"/>
<rect x="153.42" y="107.8" width="2.57" height="42.6" fill="#0aa392" stroke="#5cc0b2" stroke-width="0.35"/>
<rect x="155.99" y="128.1" width="2.57" height="22.3" fill="#0aa392" stroke="#5cc0b2" stroke-width="0.35"/>
<rect x="158.56" y="141.1" width="2.57" height="9.3" fill="#0aa392" stroke="#5cc0b2" stroke-width="0.35"/>
<rect x="161.13" y="147.8" width="2.57" height="2.6" fill="#0aa392" stroke="#5cc0b2" stroke-width="0.35"/>
<line x1="45.6" y1="18.5" x2="209.9" y2="18.5" stroke="#8a8a8a" stroke-width="0.9"/>
<line x1="45.5" y1="18.5" x2="45.5" y2="150.4" stroke="#5a5a5a" stroke-width="0.9"/>
<line x1="45.6" y1="150.5" x2="209.9" y2="150.5" stroke="#5a5a5a" stroke-width="0.9"/>
<line x1="209.5" y1="18.5" x2="209.5" y2="150.4" stroke="#ff8a8a" stroke-width="0.8"/>
<line x1="43" y1="150.5" x2="45.6" y2="150.5" stroke="#5a5a5a" stroke-width="0.8"/>
<text x="39.4" y="151.7" letter-spacing="0.25" text-anchor="end" stroke="#1e1e1e" stroke-width="0.1">0</text>
<line x1="44.1" y1="139.5" x2="45.6" y2="139.5" stroke="#5a5a5a" stroke-width="0.7"/>
<line x1="43" y1="128.5" x2="45.6" y2="128.5" stroke="#5a5a5a" stroke-width="0.8"/>
<text x="39.4" y="129.8" letter-spacing="0.25" text-anchor="end" stroke="#1e1e1e" stroke-width="0.1">3</text>
<line x1="44.1" y1="117.5" x2="45.6" y2="117.5" stroke="#5a5a5a" stroke-width="0.7"/>
<line x1="43" y1="106.5" x2="45.6" y2="106.5" stroke="#5a5a5a" stroke-width="0.8"/>
<text x="39.4" y="107.9" letter-spacing="0.25" text-anchor="end" stroke="#1e1e1e" stroke-width="0.1">6</text>
<line x1="44.1" y1="95.5" x2="45.6" y2="95.5" stroke="#5a5a5a" stroke-width="0.7"/>
<line x1="43" y1="84.5" x2="45.6" y2="84.5" stroke="#5a5a5a" stroke-width="0.8"/>
<text x="39.4" y="86" letter-spacing="0.25" text-anchor="end" stroke="#1e1e1e" stroke-width="0.1">9</text>
<line x1="44.1" y1="73.5" x2="45.6" y2="73.5" stroke="#5a5a5a" stroke-width="0.7"/>
<line x1="43" y1="62.5" x2="45.6" y2="62.5" stroke="#5a5a5a" stroke-width="0.8"/>
<text x="39.4" y="64.1" letter-spacing="0.25" text-anchor="end" stroke="#1e1e1e" stroke-width="0.1">12</text>
<line x1="44.1" y1="51.5" x2="45.6" y2="51.5" stroke="#5a5a5a" stroke-width="0.7"/>
<line x1="43" y1="40.5" x2="45.6" y2="40.5" stroke="#5a5a5a" stroke-width="0.8"/>
<text x="39.4" y="42.2" letter-spacing="0.25" text-anchor="end" stroke="#1e1e1e" stroke-width="0.1">15</text>
<line x1="44.1" y1="29.5" x2="45.6" y2="29.5" stroke="#5a5a5a" stroke-width="0.7"/>
<line x1="43" y1="18.5" x2="45.6" y2="18.5" stroke="#5a5a5a" stroke-width="0.8"/>
<text x="39.4" y="20.3" letter-spacing="0.25" text-anchor="end" stroke="#1e1e1e" stroke-width="0.1">18</text>
<line x1="209.9" y1="149.5" x2="212.7" y2="149.5" stroke="#ff6b6b" stroke-width="0.8"/>
<text x="216.3" y="151.7" letter-spacing="0.25" fill="#f0282d" stroke="#f0282d" stroke-width="0.1">0</text>
<line x1="209.9" y1="136.5" x2="211.5" y2="136.5" stroke="#ff8a8a" stroke-width="0.7"/>
<line x1="209.9" y1="124.5" x2="212.7" y2="124.5" stroke="#ff6b6b" stroke-width="0.8"/>
<text x="216.3" y="126.7" letter-spacing="0.25" fill="#f0282d" stroke="#f0282d" stroke-width="0.1">20</text>
<line x1="209.9" y1="111.5" x2="211.5" y2="111.5" stroke="#ff8a8a" stroke-width="0.7"/>
<line x1="209.9" y1="99.5" x2="212.7" y2="99.5" stroke="#ff6b6b" stroke-width="0.8"/>
<text x="216.3" y="101.7" letter-spacing="0.25" fill="#f0282d" stroke="#f0282d" stroke-width="0.1">40</text>
<line x1="209.9" y1="86.5" x2="211.5" y2="86.5" stroke="#ff8a8a" stroke-width="0.7"/>
<line x1="209.9" y1="74.5" x2="212.7" y2="74.5" stroke="#ff6b6b" stroke-width="0.8"/>
<text x="216.3" y="76.7" letter-spacing="0.25" fill="#f0282d" stroke="#f0282d" stroke-width="0.1">60</text>
<line x1="209.9" y1="61.5" x2="211.5" y2="61.5" stroke="#ff8a8a" stroke-width="0.7"/>
<line x1="209.9" y1="49.5" x2="212.7" y2="49.5" stroke="#ff6b6b" stroke-width="0.8"/>
<text x="216.3" y="51.7" letter-spacing="0.25" fill="#f0282d" stroke="#f0282d" stroke-width="0.1">80</text>
<line x1="209.9" y1="36.5" x2="211.5" y2="36.5" stroke="#ff8a8a" stroke-width="0.7"/>
<line x1="209.9" y1="24.5" x2="212.7" y2="24.5" stroke="#ff6b6b" stroke-width="0.8"/>
<text x="216.3" y="26.7" letter-spacing="0.25" fill="#f0282d" stroke="#f0282d" stroke-width="0.1">100</text>
<line x1="45.5" y1="150.4" x2="45.5" y2="152.9" stroke="#5a5a5a" stroke-width="0.8"/>
<text x="45.6" y="162.7" letter-spacing="0.25" text-anchor="middle" stroke="#1e1e1e" stroke-width="0.1">0.1</text>
<line x1="62.5" y1="150.4" x2="62.5" y2="151.8" stroke="#5a5a5a" stroke-width="0.6"/>
<line x1="71.5" y1="150.4" x2="71.5" y2="151.8" stroke="#5a5a5a" stroke-width="0.6"/>
<line x1="78.5" y1="150.4" x2="78.5" y2="151.8" stroke="#5a5a5a" stroke-width="0.6"/>
<line x1="83.5" y1="150.4" x2="83.5" y2="151.8" stroke="#5a5a5a" stroke-width="0.6"/>
<line x1="88.5" y1="150.4" x2="88.5" y2="151.8" stroke="#5a5a5a" stroke-width="0.6"/>
<line x1="91.5" y1="150.4" x2="91.5" y2="151.8" stroke="#5a5a5a" stroke-width="0.6"/>
<line x1="94.5" y1="150.4" x2="94.5" y2="151.8" stroke="#5a5a5a" stroke-width="0.6"/>
<line x1="97.5" y1="150.4" x2="97.5" y2="151.8" stroke="#5a5a5a" stroke-width="0.6"/>
<line x1="100.5" y1="150.4" x2="100.5" y2="152.9" stroke="#5a5a5a" stroke-width="0.8"/>
<text x="100.1" y="162.7" letter-spacing="0.25" text-anchor="middle" stroke="#1e1e1e" stroke-width="0.1">1</text>
<line x1="116.5" y1="150.4" x2="116.5" y2="151.8" stroke="#5a5a5a" stroke-width="0.6"/>
<line x1="126.5" y1="150.4" x2="126.5" y2="151.8" stroke="#5a5a5a" stroke-width="0.6"/>
<line x1="132.5" y1="150.4" x2="132.5" y2="151.8" stroke="#5a5a5a" stroke-width="0.6"/>
<line x1="138.5" y1="150.4" x2="138.5" y2="151.8" stroke="#5a5a5a" stroke-width="0.6"/>
<line x1="142.5" y1="150.4" x2="142.5" y2="151.8" stroke="#5a5a5a" stroke-width="0.6"/>
<line x1="146.5" y1="150.4" x2="146.5" y2="151.8" stroke="#5a5a5a" stroke-width="0.6"/>
<line x1="149.5" y1="150.4" x2="149.5" y2="151.8" stroke="#5a5a5a" stroke-width="0.6"/>
<line x1="152.5" y1="150.4" x2="152.5" y2="151.8" stroke="#5a5a5a" stroke-width="0.6"/>
<line x1="154.5" y1="150.4" x2="154.5" y2="152.9" stroke="#5a5a5a" stroke-width="0.8"/>
<text x="154.6" y="162.7" letter-spacing="0.25" text-anchor="middle" stroke="#1e1e1e" stroke-width="0.1">10</text>
<line x1="171.5" y1="150.4" x2="171.5" y2="151.8" stroke="#5a5a5a" stroke-width="0.6"/>
<line x1="180.5" y1="150.4" x2="180.5" y2="151.8" stroke="#5a5a5a" stroke-width="0.6"/>
<line x1="187.5" y1="150.4" x2="187.5" y2="151.8" stroke="#5a5a5a" stroke-width="0.6"/>
<line x1="192.5" y1="150.4" x2="192.5" y2="151.8" stroke="#5a5a5a" stroke-width="0.6"/>
<line x1="197.5" y1="150.4" x2="197.5" y2="151.8" stroke="#5a5a5a" stroke-width="0.6"/>
<line x1="200.5" y1="150.4" x2="200.5" y2="151.8" stroke="#5a5a5a" stroke-width="0.6"/>
<line x1="203.5" y1="150.4" x2="203.5" y2="151.8" stroke="#5a5a5a" stroke-width="0.6"/>
<line x1="206.5" y1="150.4" x2="206.5" y2="151.8" stroke="#5a5a5a" stroke-width="0.6"/>
<line x1="209.5" y1="150.4" x2="209.5" y2="152.9" stroke="#5a5a5a" stroke-width="0.8"/>
<text x="209.1" y="162.7" letter-spacing="0.25" text-anchor="middle" stroke="#1e1e1e" stroke-width="0.1">100</text>
<path d="M46.3,149.3 C55.25,149.3 89.72,149.32 100,149.3 C110.28,149.28 106.08,149.28 108,149.2 C109.92,149.12 110.42,149.13 111.5,148.8 C112.58,148.47 113.3,148.33 114.5,147.2 C115.7,146.07 117.12,144.27 118.7,142 C120.28,139.73 122.23,136.23 124,133.6 C125.77,130.97 127.6,128.53 129.3,126.2 C131,123.87 132.82,121.72 134.2,119.6 C135.58,117.48 136.6,115.85 137.6,113.5 C138.6,111.15 139.37,108.67 140.2,105.5 C141.03,102.33 141.78,99.42 142.6,94.5 C143.42,89.58 144.42,80.82 145.1,76 C145.78,71.18 146.17,68.7 146.7,65.6 C147.23,62.5 147.77,60.13 148.3,57.4 C148.83,54.67 149.37,51.82 149.9,49.2 C150.43,46.58 150.97,44.02 151.5,41.7 C152.03,39.38 152.55,37.27 153.1,35.3 C153.65,33.33 154.17,31.4 154.8,29.9 C155.43,28.4 156.1,27.18 156.9,26.3 C157.7,25.42 158.58,24.93 159.6,24.6 C160.62,24.27 154.7,24.35 163,24.3 C171.3,24.25 201.67,24.3 209.4,24.3" fill="none" stroke="#ee1c24" stroke-width="1.5" stroke-linejoin="round"/>
<text x="50.5" y="113.6" letter-spacing="0" stroke="#1e1e1e" stroke-width="0.1" font-size="7.15">D10 = 2.58 µm</text>
<text x="50.5" y="125.3" letter-spacing="0" stroke="#1e1e1e" stroke-width="0.1" font-size="7.15">D50 = 6.12 µm</text>
<text x="50.5" y="136.8" letter-spacing="0" stroke="#1e1e1e" stroke-width="0.1" font-size="7.15">D90 = 8.97 µm</text>
<text x="128" y="175.4" text-anchor="middle" stroke="#1e1e1e" stroke-width="0.1" font-size="9">Size (µm)</text>
<text x="25.7" y="83.9" text-anchor="middle" stroke="#1e1e1e" stroke-width="0.1" font-size="9" transform="rotate(-90 25.7 83.9)">Fraction (volume %)</text>
<text x="235.6" y="84" text-anchor="middle" fill="#f0282d" stroke="#f0282d" stroke-width="0.1" font-size="9" transform="rotate(90 235.6 84)">Cumulative (%)</text>
<text x="-0.6" y="200.6" font-weight="bold" fill="#000" font-size="13.3" stroke="#000" stroke-width="0.35">c</text>
<g clip-path="url(#clipC)"><g filter="url(#contrastC)">
<rect x="45.9" y="205.2" width="92.6" height="77" fill="#050505"/><rect x="45.9" y="205.2" width="92.6" height="77" filter="url(#debris)" opacity="0.45"/><path d="M63.9,215 64,215.2 72.2,217.5 74,211.7 69.7,208.2 66.6,208.5 62.7,211.8Z" fill="#444444" stroke="#cacaca" stroke-width="0.4"/><path d="M122.1,237.2 121.1,241.4 125.4,246.3 129.9,245.1 133.1,239.1Z" fill="#0d0d0d" stroke="#adadad" stroke-width="0.5"/><path d="M47.5,268.2 50.7,264.4 46.1,259.6 45.9,259.6 45.9,265.3Z" fill="#555555" stroke="#efefef" stroke-width="0.4"/><path d="M104,279.8 103.7,279.7 98,281.1 97.5,282.2 103.4,282.2Z" fill="#676767" stroke="#bdbdbd" stroke-width="0.3"/><path d="M120.3,275.7 116.5,278.5 120.1,282.2 125.4,282.2 126.8,277.2Z" fill="#585858" stroke="#c9c9c9" stroke-width="0.4"/><path d="M49,272.6 49,272.6 49.4,274.1 54.9,279.3 62.1,276.4 63.2,272.8 61.8,270.8 56.4,264.7 54.7,265.6 52.1,268.2Z" fill="#161616" stroke="#e1e1e1" stroke-width="0.3"/><path d="M110.1,258.3 117,254.3 103.9,249.6 103.5,250 103.6,253.2Z" fill="#414141" stroke="#c2c2c2" stroke-width="0.5"/><path d="M54.2,222.5 53.7,212.5 47.8,211.7 45.9,213.4 45.9,214.3Z" fill="#454545" stroke="#bababa" stroke-width="0.5"/><path d="M78.4,258.2 87.1,257.2 87.4,252.3 86.3,251.3 77.8,256.9Z" fill="#1b1b1b" stroke="#dfdfdf" stroke-width="0.4"/><path d="M113.2,226.1 111.5,226.2 111.4,226.3 104.9,235 108.6,239.6 117,236.8 117.9,231.9 117.2,228.3Z" fill="#262626" stroke="#cccccc" stroke-width="0.4"/><path d="M80.1,232.8 79.1,234.9 83.7,241.8 85,242 87,236.6 87,235.5 82.1,232.2Z" fill="#6e6e6e" stroke="#c7c7c7" stroke-width="0.5"/><path d="M107.4,277.3 109.2,276.8 109.7,276.5 109.6,269.1 109.3,268.8 105.4,269.8 105.9,276.6 106.1,276.8Z" fill="#5a5a5a" stroke="#d2d2d2" stroke-width="0.4"/><path d="M117.3,252.9 117.6,252.9 120.3,248.8 116.9,242.1 107.9,242.3 105.7,246.8Z" fill="#878787" stroke="#c3c3c3" stroke-width="0.5"/><path d="M82.8,278.8 85.7,272.5 82.9,267.8 79.4,264.8 74.5,272.5 79.4,279 80.8,279.1Z" fill="#181818" stroke="#aeaeae" stroke-width="0.4"/><path d="M51.6,230.7 51.3,231.3 61.9,237.7 63.2,235.6 61.8,230.7 55.5,228.4 55.4,228.4 54.5,228.9Z" fill="#7d7d7d" stroke="#bababa" stroke-width="0.5"/><path d="M95.8,258 97.8,256.6 97.9,256.4 99.3,251.8 98.9,249 94.9,249.4 90,251.8 91.9,256.4 94.2,257.8 95.3,258Z" fill="#373737"/><path d="M72.3,276.1 67.6,276.9 66,279.5 67.2,281.7 68.1,282.2 75.4,282.2 76.9,280.6Z" fill="#393939" stroke="#b4b4b4" stroke-width="0.4"/><path d="M88.2,269.1 91.2,261.7 90.2,261.4 84.8,266.4 88.2,269.2Z" fill="#717171" stroke="#bfbfbf" stroke-width="0.5"/><path d="M116.4,211.4 112.4,208.8 110.8,210.2 114,220.3 114.4,220.7 116.1,220.8 118.1,214.5Z" fill="#404040" stroke="#d8d8d8" stroke-width="0.5"/><path d="M48.7,251.6 53,249.2 54.2,246.7 53.9,246.5 45.9,247.7 45.9,250.9Z" fill="#848484" stroke="#c0c0c0" stroke-width="0.5"/><path d="M48.3,227.5 50.1,225.4 45.9,221.8 45.9,225.7Z" fill="#888888" stroke="#d0d0d0" stroke-width="0.4"/><path d="M62.9,208.7 61.4,205.2 51,205.2 49.6,208.2 55,211.2 57.6,212.1 59.5,212.4Z" fill="#2e2e2e" stroke="#ababab" stroke-width="0.5"/><path d="M136.9,257.3 134.6,256.1 130.2,260.7 135,263.7Z" fill="#878787"/><path d="M110.2,220.2 110.2,210.2 107.5,210.2 106.8,211.2 105.9,214.1Z" fill="#1e1e1e" stroke="#f4f4f4" stroke-width="0.4"/><path d="M76.9,223.9 79.5,227.9 81.9,227.8 84.4,225.6 82.6,218.1 76.8,219.4Z" fill="#363636" stroke="#f4f4f4" stroke-width="0.4"/><path d="M90.6,237.2 90.7,238.3 94,240.7 95.9,234.8Z" fill="#272727" stroke="#adadad" stroke-width="0.5"/><path d="M103,270.5 102,270.5 98.3,272.5 99.1,278.2 105.3,277.4Z" fill="#454545" stroke="#cdcdcd" stroke-width="0.4"/><path d="M134,208.4 135.8,205.2 129.1,205.2Z" fill="#6a6a6a" stroke="#b8b8b8" stroke-width="0.5"/><path d="M131.5,279.1 131.4,279.2 129.8,282.2 134.6,282.2Z" fill="#7c7c7c" stroke="#e2e2e2" stroke-width="0.5"/><path d="M100.5,219.3 111.1,223.2 111.2,223.2 111,222.6 105.2,216Z" fill="#0b0b0b" stroke="#ababab" stroke-width="0.3"/><path d="M128.9,258 132.9,253.5 128.8,249.7 123.8,251.2 122.3,255.8 123.6,258 125.1,258.7Z" fill="#7d7d7d" stroke="#e5e5e5" stroke-width="0.5"/><path d="M89.4,227 88.3,227.6 86.5,229.7 90.7,233.5 96,232.2 97.8,231.7 93.9,224.9Z" fill="#727272" stroke="#e6e6e6" stroke-width="0.4"/><path d="M111.1,265.2 116,265.5 118.8,259.8 118,257.6 117.8,257.6 111.7,260.6 110.7,264 110.8,265Z" fill="#7c7c7c" stroke="#b8b8b8" stroke-width="0.4"/><path d="M101,245.3 103,241.5 101,236.7 101,236.6 99.1,237 95.6,241.8 97.1,245 100.7,245.6Z" fill="#303030" stroke="#ececec" stroke-width="0.5"/><path d="M66.6,255.5 67.1,251.8 63.7,246.6 59.3,246.7 58,248.7 58.9,257.8Z" fill="#1e1e1e" stroke="#c3c3c3" stroke-width="0.5"/><path d="M48,256.4 48.1,253.8 45.9,253 45.9,257.1Z" fill="#848484" stroke="#cdcdcd" stroke-width="0.4"/><path d="M115.6,282.2 117.8,282.2 116.6,279.7 115.3,279.6 114.8,279.8Z" fill="#262626" stroke="#d2d2d2" stroke-width="0.3"/><path d="M94.3,220.4 87.2,212.7 86.2,214.6 88.7,223.7 94.2,220.8Z" fill="#252525"/><path d="M137.1,210.5 137.2,214.1 138.5,213.9 138.5,208.7Z" fill="#474747"/><path d="M129.6,227 123.4,231.1 124.1,234.8 137.2,236.5 138.5,235.2 138.5,230.5Z" fill="#0f0f0f" stroke="#eeeeee" stroke-width="0.3"/><path d="M76.9,256.7 82.5,248.7 81,247 79.7,246.8 74.6,248.8 72.3,251.2 73.2,254.9 76.8,256.6Z" fill="#555555" stroke="#b4b4b4" stroke-width="0.5"/><path d="M106.7,266.9 106.7,265.7 100.7,260 100.5,260.1 102,267.8 102.9,267.9Z" fill="#1c1c1c" stroke="#e9e9e9" stroke-width="0.5"/><path d="M129.4,272 122,262.6 120.5,261.9 118.6,268.6 121.5,272 128.8,273.1 128.9,273Z" fill="#828282" stroke="#f2f2f2" stroke-width="0.4"/><path d="M59.5,214.5 55.3,223.2 62.7,217.8 61.3,214.8Z" fill="#777777" stroke="#e9e9e9" stroke-width="0.5"/><path d="M54.2,224.7 54.4,224.7 55.2,223.3 57.9,215.5 55.7,214.9 53.8,223.1Z" fill="#404040"/><path d="M56.6,243.3 61.5,241.1 61.9,237.4 49.9,234.8 49.2,237.6 50.2,239 56.3,243.2Z" fill="#0a0a0a"/><path d="M101.1,230.2 101.2,230.3 109.7,225.3 101.1,221.7 99.1,222 98.8,222.2 98.6,222.5Z" fill="#323232" stroke="#bdbdbd" stroke-width="0.5"/><path d="M54.9,261.7 49.9,257.8 47.8,259.5 52.5,263.9Z" fill="#5d5d5d" stroke="#f2f2f2" stroke-width="0.5"/><path d="M126.7,207.3 126.5,207.8 127.6,213.3 131.8,215.1 132.7,214 132,210.1 127,206.9Z" fill="#363636"/><path d="M53.7,244.9 49.1,239.3 45.9,243.3 45.9,246.3Z" fill="#7f7f7f" stroke="#e6e6e6" stroke-width="0.3"/><path d="M88.5,258.5 78.9,260.6 79.2,261.9 82.6,264.6 90.4,260.9Z" fill="#0e0e0e"/><path d="M95.1,245.9 92.1,242.5 88.2,239.5 85.8,246.2 87.6,248.1 89.3,248.5Z" fill="#3e3e3e" stroke="#efefef" stroke-width="0.5"/><path d="M95.1,270.4 94.6,262.2 94.1,262.2 88.4,270Z" fill="#1d1d1d" stroke="#d6d6d6" stroke-width="0.3"/><path d="M136.7,274.6 135.6,274.4 133.8,275.3 132.9,276.1 137.9,282.2 138.5,282.2 138.5,276.2Z" fill="#666666" stroke="#e7e7e7" stroke-width="0.5"/><path d="M116.8,208.9 124.3,206.8 124.6,206.3 123.2,205.2 113.9,205.2Z" fill="#5f5f5f" stroke="#b1b1b1" stroke-width="0.3"/><path d="M104.3,212 98.4,214.4 96.6,219.5 99,219 103.5,215.4Z" fill="#494949" stroke="#e5e5e5" stroke-width="0.5"/><path d="M86.2,278.2 90.8,282.2 93.8,282.2 96.5,279.6 96.9,273.9 96.1,273.2 89.3,272.1 89.2,272.1Z" fill="#525252"/><path d="M113.5,275 117.9,272.7 116,268.9 110.9,268.5 112.1,275.2Z" fill="#6a6a6a" stroke="#c5c5c5" stroke-width="0.4"/><path d="M97.2,269.8 100.7,268.5 98.5,261 96,261.8 96.4,269.3Z" fill="#4b4b4b" stroke="#f4f4f4" stroke-width="0.5"/><path d="M65,218.8 66.6,224.8 74.5,222.9 73.4,218.7 72.7,218Z" fill="#606060" stroke="#dbdbdb" stroke-width="0.3"/><path d="M137.2,262.7 135.3,268.7 136.5,268.8 138.5,268.3 138.5,261Z" fill="#202020" stroke="#c1c1c1" stroke-width="0.4"/><path d="M125.7,216.2 121.4,216.7 118.6,222.3 121.5,225.4 127.9,223.4 129.1,218.9Z" fill="#0e0e0e" stroke="#b5b5b5" stroke-width="0.5"/><path d="M66.7,272.9 72.2,272.3 76,264.9 75.6,263.7 74.7,262.5 74.6,262.4 66,270.6Z" fill="#0c0c0c"/><path d="M132.6,265.3 128.5,262.6 124.9,262.9 131.3,271.6 132.6,270.3Z" fill="#8a8a8a" stroke="#c8c8c8" stroke-width="0.5"/><path d="M51.3,224.5 51.9,223.9 51.3,222.5 45.9,216 45.9,219.6Z" fill="#7b7b7b" stroke="#c9c9c9" stroke-width="0.4"/><path d="M87,214.4 84.1,216.5 84.6,224.7 86.2,224.3Z" fill="#141414" stroke="#b1b1b1" stroke-width="0.3"/><path d="M66.2,238.4 64.4,241.4 68,247.4 71.5,245.9 74.6,237.3 67.6,236.6Z" fill="#111111" stroke="#c0c0c0" stroke-width="0.3"/><path d="M84.8,211.2 84.9,206.7 84.8,206.5 77.2,210.2 76.6,214.8 77,215.6 81.9,214.5 83.8,212.5Z" fill="#282828" stroke="#bbbbbb" stroke-width="0.4"/><path d="M80.9,242.9 76.7,235.6 75.3,236.6 75.7,244.9Z" fill="#151515" stroke="#d1d1d1" stroke-width="0.3"/><path d="M93.3,218.5 95.4,214.1 95.4,209.5 89.9,205.2 89.1,210.1 93,218.7Z" fill="#4b4b4b" stroke="#bfbfbf" stroke-width="0.3"/><path d="M56.3,260.7 56.5,260.5 55.6,251.2 51.6,252.9 51.6,255.4 54.6,260.8Z" fill="#575757" stroke="#dedede" stroke-width="0.5"/><path d="M56.5,224.8 55.5,226.3 61.5,228.4 63.6,225.6 63.6,219.4 63.5,219.2Z" fill="#393939" stroke="#dcdcdc" stroke-width="0.3"/><path d="M73.2,233.1 74.9,232.5 76.7,230.7 74.7,226.8 67.3,226.3 65.3,228.7 66.4,233Z" fill="#242424" stroke="#b2b2b2" stroke-width="0.4"/><path d="M108.1,259.1 102.2,254.8 100.3,259.2 107.5,262.8Z" fill="#131313" stroke="#bababa" stroke-width="0.5"/><path d="M65,269.2 72.6,260.5 69,258.1 61.6,262.5 61.4,262.8Z" fill="#292929" stroke="#f0f0f0" stroke-width="0.4"/><path d="M45.9,275.6 45.9,282.2 49.9,282.2 50.4,280.7 46.3,275.3Z" fill="#5e5e5e" stroke="#b5b5b5" stroke-width="0.3"/><path d="M104.1,208.2 102.6,207.7 96.7,208.9 98.9,213.6 103.9,209.5Z" fill="#393939" stroke="#cecece" stroke-width="0.5"/><path d="M119.5,211 121.2,213.7 125.1,212.2 124.3,207.1Z" fill="#5f5f5f" stroke="#dddddd" stroke-width="0.5"/><rect x="45.9" y="205.2" width="92.6" height="77" filter="url(#shade)" opacity="0.3"/><path d="M88,246.4 97.6,244.8 100.8,252.8 91.2,255.2Z" fill="#5a5a5a" stroke="#d0d0d0" stroke-width="0.52" stroke-linejoin="round"/><path d="M108.8,252.8 123.2,252.8 129.6,264 120,273.6 110.4,268.8Z" fill="#555555" stroke="#d0d0d0" stroke-width="0.6" stroke-linejoin="round"/><path d="M67.2,214.4 75.2,212.8 78.4,220.8 70.4,222.4Z" fill="#5e5e5e" stroke="#d0d0d0" stroke-width="0.52" stroke-linejoin="round"/><path d="M110.4,215.2 120,215.2 123.2,222.4 113.6,224Z" fill="#636363" stroke="#d0d0d0" stroke-width="0.6" stroke-linejoin="round"/><path d="M60.8,230.4 68.8,226.4 80,234.4 83.2,243.2 78.4,249.6 68,252.8 62.4,248 60,238.4Z" fill="#737373" stroke="#d0d0d0" stroke-width="0.98" stroke-linejoin="round"/><path d="M77.6,226.4 86.4,219.2 100.8,224 102.4,229.6 92.8,234.4 80,232.8Z" fill="#707070" stroke="#d0d0d0" stroke-width="0.98" stroke-linejoin="round"/><path d="M72,257.6 81.6,252.8 96,260.8 95.2,267.2 88,275.2 83.2,281.6 78.4,280 74.4,267.2Z" fill="#646464" stroke="#d0d0d0" stroke-width="0.98" stroke-linejoin="round"/><path d="M104,233.6 112,231.2 120,242.4 116.8,246.4 108.8,243.2Z" fill="#6c6c6c" stroke="#d0d0d0" stroke-width="0.83" stroke-linejoin="round"/><path d="M116.8,217.6 126.4,214.4 136,220.8 134.4,228 123.2,228.8Z" fill="#757575" stroke="#d0d0d0" stroke-width="0.83" stroke-linejoin="round"/><path d="M46.4,212.8 54.4,208.8 58.4,219.2 49.6,221.6Z" fill="#707070" stroke="#d0d0d0" stroke-width="0.75" stroke-linejoin="round"/><path d="M46.4,233.6 56,232.8 57.6,243.2 48,246.4Z" fill="#6c6c6c" stroke="#d0d0d0" stroke-width="0.75" stroke-linejoin="round"/><path d="M47.2,248 59.2,246.4 62.4,254.4 49.6,256Z" fill="#676767" stroke="#d0d0d0" stroke-width="0.75" stroke-linejoin="round"/><path d="M49.6,270.4 67.2,267.2 72,275.2 54.4,280Z" fill="#5e5e5e" stroke="#d0d0d0" stroke-width="0.75" stroke-linejoin="round"/><path d="M123.2,238.4 134.4,234.4 136.8,246.4 126.4,248Z" fill="#676767" stroke="#d0d0d0" stroke-width="0.75" stroke-linejoin="round"/><rect x="45.9" y="205.2" width="92.6" height="77" filter="url(#debris2)" opacity="0.25"/><rect x="45.9" y="205.2" width="92.6" height="77" filter="url(#grain)" opacity="0.2"/><rect x="45.9" y="205.2" width="92.6" height="77" filter="url(#grain2)" opacity="0.25"/>
</g></g>
<rect x="106" y="278.6" width="30.3" height="2.6" fill="#fff"/>
<rect x="98.8" y="333.8" width="3.88" height="1.6" fill="#0aa392" stroke="#5cc0b2" stroke-width="0.35"/>
<rect x="102.68" y="326.2" width="3.88" height="9.2" fill="#0aa392" stroke="#5cc0b2" stroke-width="0.35"/>
<rect x="106.56" y="313.2" width="3.88" height="22.2" fill="#0aa392" stroke="#5cc0b2" stroke-width="0.35"/>
<rect x="110.44" y="297.9" width="3.88" height="37.5" fill="#0aa392" stroke="#5cc0b2" stroke-width="0.35"/>
<rect x="114.32" y="286" width="3.88" height="49.4" fill="#0aa392" stroke="#5cc0b2" stroke-width="0.35"/>
<rect x="118.2" y="282.2" width="3.88" height="53.2" fill="#0aa392" stroke="#5cc0b2" stroke-width="0.35"/>
<rect x="122.08" y="289.1" width="3.88" height="46.3" fill="#0aa392" stroke="#5cc0b2" stroke-width="0.35"/>
<rect x="125.96" y="297" width="3.88" height="38.4" fill="#0aa392" stroke="#5cc0b2" stroke-width="0.35"/>
<rect x="129.84" y="300.8" width="3.88" height="34.6" fill="#0aa392" stroke="#5cc0b2" stroke-width="0.35"/>
<rect x="133.72" y="298" width="3.88" height="37.4" fill="#0aa392" stroke="#5cc0b2" stroke-width="0.35"/>
<rect x="137.6" y="290" width="3.88" height="45.4" fill="#0aa392" stroke="#5cc0b2" stroke-width="0.35"/>
<rect x="141.48" y="279.3" width="3.88" height="56.1" fill="#0aa392" stroke="#5cc0b2" stroke-width="0.35"/>
<rect x="145.36" y="270.3" width="3.88" height="65.1" fill="#0aa392" stroke="#5cc0b2" stroke-width="0.35"/>
<rect x="149.24" y="265.3" width="3.88" height="70.1" fill="#0aa392" stroke="#5cc0b2" stroke-width="0.35"/>
<rect x="153.12" y="264.3" width="3.88" height="71.1" fill="#0aa392" stroke="#5cc0b2" stroke-width="0.35"/>
<rect x="157" y="266.8" width="3.88" height="68.6" fill="#0aa392" stroke="#5cc0b2" stroke-width="0.35"/>
<rect x="160.88" y="269.8" width="3.88" height="65.6" fill="#0aa392" stroke="#5cc0b2" stroke-width="0.35"/>
<rect x="164.76" y="271" width="3.88" height="64.4" fill="#0aa392" stroke="#5cc0b2" stroke-width="0.35"/>
<rect x="168.64" y="272.2" width="3.88" height="63.2" fill="#0aa392" stroke="#5cc0b2" stroke-width="0.35"/>
<rect x="172.52" y="276" width="3.88" height="59.4" fill="#0aa392" stroke="#5cc0b2" stroke-width="0.35"/>
<rect x="176.4" y="284" width="3.88" height="51.4" fill="#0aa392" stroke="#5cc0b2" stroke-width="0.35"/>
<rect x="180.28" y="295.9" width="3.88" height="39.5" fill="#0aa392" stroke="#5cc0b2" stroke-width="0.35"/>
<rect x="184.16" y="310.1" width="3.88" height="25.3" fill="#0aa392" stroke="#5cc0b2" stroke-width="0.35"/>
<rect x="188.04" y="323.8" width="3.88" height="11.6" fill="#0aa392" stroke="#5cc0b2" stroke-width="0.35"/>
<rect x="191.92" y="332.8" width="3.88" height="2.6" fill="#0aa392" stroke="#5cc0b2" stroke-width="0.35"/>
<line x1="45.6" y1="204.5" x2="209.9" y2="204.5" stroke="#8a8a8a" stroke-width="0.9"/>
<line x1="45.5" y1="204.5" x2="45.5" y2="335.4" stroke="#5a5a5a" stroke-width="0.9"/>
<line x1="45.6" y1="335.5" x2="209.9" y2="335.5" stroke="#5a5a5a" stroke-width="0.9"/>
<line x1="209.5" y1="204.5" x2="209.5" y2="335.4" stroke="#ff8a8a" stroke-width="0.8"/>
<line x1="43" y1="335.5" x2="45.6" y2="335.5" stroke="#5a5a5a" stroke-width="0.8"/>
<text x="39.4" y="336.8" letter-spacing="0.25" text-anchor="end" stroke="#1e1e1e" stroke-width="0.1">0</text>
<line x1="44.1" y1="318.5" x2="45.6" y2="318.5" stroke="#5a5a5a" stroke-width="0.7"/>
<line x1="43" y1="302.5" x2="45.6" y2="302.5" stroke="#5a5a5a" stroke-width="0.8"/>
<text x="39.4" y="304.16" letter-spacing="0.25" text-anchor="end" stroke="#1e1e1e" stroke-width="0.1">3</text>
<line x1="44.1" y1="286.5" x2="45.6" y2="286.5" stroke="#5a5a5a" stroke-width="0.7"/>
<line x1="43" y1="269.5" x2="45.6" y2="269.5" stroke="#5a5a5a" stroke-width="0.8"/>
<text x="39.4" y="271.52" letter-spacing="0.25" text-anchor="end" stroke="#1e1e1e" stroke-width="0.1">6</text>
<line x1="44.1" y1="253.5" x2="45.6" y2="253.5" stroke="#5a5a5a" stroke-width="0.7"/>
<line x1="43" y1="237.5" x2="45.6" y2="237.5" stroke="#5a5a5a" stroke-width="0.8"/>
<text x="39.4" y="238.88" letter-spacing="0.25" text-anchor="end" stroke="#1e1e1e" stroke-width="0.1">9</text>
<line x1="44.1" y1="220.5" x2="45.6" y2="220.5" stroke="#5a5a5a" stroke-width="0.7"/>
<line x1="43" y1="204.5" x2="45.6" y2="204.5" stroke="#5a5a5a" stroke-width="0.8"/>
<text x="39.4" y="206.24" letter-spacing="0.25" text-anchor="end" stroke="#1e1e1e" stroke-width="0.1">12</text>
<line x1="209.9" y1="334.5" x2="212.7" y2="334.5" stroke="#ff6b6b" stroke-width="0.8"/>
<text x="216.3" y="336.9" letter-spacing="0.25" fill="#f0282d" stroke="#f0282d" stroke-width="0.1">0</text>
<line x1="209.9" y1="322.5" x2="211.5" y2="322.5" stroke="#ff8a8a" stroke-width="0.7"/>
<line x1="209.9" y1="309.5" x2="212.7" y2="309.5" stroke="#ff6b6b" stroke-width="0.8"/>
<text x="216.3" y="312.12" letter-spacing="0.25" fill="#f0282d" stroke="#f0282d" stroke-width="0.1">20</text>
<line x1="209.9" y1="297.5" x2="211.5" y2="297.5" stroke="#ff8a8a" stroke-width="0.7"/>
<line x1="209.9" y1="284.5" x2="212.7" y2="284.5" stroke="#ff6b6b" stroke-width="0.8"/>
<text x="216.3" y="287.34" letter-spacing="0.25" fill="#f0282d" stroke="#f0282d" stroke-width="0.1">40</text>
<line x1="209.9" y1="272.5" x2="211.5" y2="272.5" stroke="#ff8a8a" stroke-width="0.7"/>
<line x1="209.9" y1="260.5" x2="212.7" y2="260.5" stroke="#ff6b6b" stroke-width="0.8"/>
<text x="216.3" y="262.56" letter-spacing="0.25" fill="#f0282d" stroke="#f0282d" stroke-width="0.1">60</text>
<line x1="209.9" y1="247.5" x2="211.5" y2="247.5" stroke="#ff8a8a" stroke-width="0.7"/>
<line x1="209.9" y1="235.5" x2="212.7" y2="235.5" stroke="#ff6b6b" stroke-width="0.8"/>
<text x="216.3" y="237.78" letter-spacing="0.25" fill="#f0282d" stroke="#f0282d" stroke-width="0.1">80</text>
<line x1="209.9" y1="222.5" x2="211.5" y2="222.5" stroke="#ff8a8a" stroke-width="0.7"/>
<line x1="209.9" y1="210.5" x2="212.7" y2="210.5" stroke="#ff6b6b" stroke-width="0.8"/>
<text x="216.3" y="213" letter-spacing="0.25" fill="#f0282d" stroke="#f0282d" stroke-width="0.1">100</text>
<line x1="45.5" y1="335.4" x2="45.5" y2="337.9" stroke="#5a5a5a" stroke-width="0.8"/>
<text x="45.6" y="347.7" letter-spacing="0.25" text-anchor="middle" stroke="#1e1e1e" stroke-width="0.1">1</text>
<line x1="70.5" y1="335.4" x2="70.5" y2="336.8" stroke="#5a5a5a" stroke-width="0.6"/>
<line x1="84.5" y1="335.4" x2="84.5" y2="336.8" stroke="#5a5a5a" stroke-width="0.6"/>
<line x1="94.5" y1="335.4" x2="94.5" y2="336.8" stroke="#5a5a5a" stroke-width="0.6"/>
<line x1="102.5" y1="335.4" x2="102.5" y2="336.8" stroke="#5a5a5a" stroke-width="0.6"/>
<line x1="109.5" y1="335.4" x2="109.5" y2="336.8" stroke="#5a5a5a" stroke-width="0.6"/>
<line x1="114.5" y1="335.4" x2="114.5" y2="336.8" stroke="#5a5a5a" stroke-width="0.6"/>
<line x1="119.5" y1="335.4" x2="119.5" y2="336.8" stroke="#5a5a5a" stroke-width="0.6"/>
<line x1="123.5" y1="335.4" x2="123.5" y2="336.8" stroke="#5a5a5a" stroke-width="0.6"/>
<line x1="127.5" y1="335.4" x2="127.5" y2="337.9" stroke="#5a5a5a" stroke-width="0.8"/>
<text x="127.4" y="347.7" letter-spacing="0.25" text-anchor="middle" stroke="#1e1e1e" stroke-width="0.1">10</text>
<line x1="152.5" y1="335.4" x2="152.5" y2="336.8" stroke="#5a5a5a" stroke-width="0.6"/>
<line x1="166.5" y1="335.4" x2="166.5" y2="336.8" stroke="#5a5a5a" stroke-width="0.6"/>
<line x1="176.5" y1="335.4" x2="176.5" y2="336.8" stroke="#5a5a5a" stroke-width="0.6"/>
<line x1="184.5" y1="335.4" x2="184.5" y2="336.8" stroke="#5a5a5a" stroke-width="0.6"/>
<line x1="191.5" y1="335.4" x2="191.5" y2="336.8" stroke="#5a5a5a" stroke-width="0.6"/>
<line x1="196.5" y1="335.4" x2="196.5" y2="336.8" stroke="#5a5a5a" stroke-width="0.6"/>
<line x1="201.5" y1="335.4" x2="201.5" y2="336.8" stroke="#5a5a5a" stroke-width="0.6"/>
<line x1="205.5" y1="335.4" x2="205.5" y2="336.8" stroke="#5a5a5a" stroke-width="0.6"/>
<line x1="209.5" y1="335.4" x2="209.5" y2="337.9" stroke="#5a5a5a" stroke-width="0.8"/>
<text x="209.2" y="347.7" letter-spacing="0.25" text-anchor="middle" stroke="#1e1e1e" stroke-width="0.1">100</text>
<path d="M46.3,334.5 C53.58,334.5 81.55,334.52 90,334.5 C98.45,334.48 95.02,334.47 97,334.4 C98.98,334.33 100.3,334.45 101.9,334.1 C103.5,333.75 105.25,333.08 106.6,332.3 C107.95,331.52 108.75,330.67 110,329.4 C111.25,328.13 112.75,326.6 114.1,324.7 C115.45,322.8 116.85,320.05 118.1,318 C119.35,315.95 120.35,314.13 121.6,312.4 C122.85,310.67 124.25,309 125.6,307.6 C126.95,306.2 128.25,305.2 129.7,304 C131.15,302.8 132.85,301.7 134.3,300.4 C135.75,299.1 137.05,297.93 138.4,296.2 C139.75,294.47 141.15,292.12 142.4,290 C143.65,287.88 144.73,285.83 145.9,283.5 C147.07,281.17 148.22,278.45 149.4,276 C150.58,273.55 151.67,271.7 153,268.8 C154.33,265.9 155.42,262.97 157.4,258.6 C159.38,254.23 162.4,247.77 164.9,242.6 C167.4,237.43 169.9,231.97 172.4,227.6 C174.9,223.23 177.88,218.95 179.9,216.4 C181.92,213.85 183.07,213.22 184.5,212.3 C185.93,211.38 187.25,211.18 188.5,210.9 C189.75,210.62 188.52,210.65 192,210.6 C195.48,210.55 206.5,210.6 209.4,210.6" fill="none" stroke="#ee1c24" stroke-width="1.5" stroke-linejoin="round"/>
<text x="48.5" y="292.5" letter-spacing="0" stroke="#1e1e1e" stroke-width="0.1" font-size="7.15">D10 = 7.02 µm</text>
<text x="48.5" y="303.8" letter-spacing="0" stroke="#1e1e1e" stroke-width="0.1" font-size="7.15">D50 = 18.64 µm</text>
<text x="48.5" y="314.9" letter-spacing="0" stroke="#1e1e1e" stroke-width="0.1" font-size="7.15">D90 = 38.89 µm</text>
<text x="128" y="361.2" text-anchor="middle" stroke="#1e1e1e" stroke-width="0.1" font-size="9">Size (µm)</text>
<text x="25.7" y="270.6" text-anchor="middle" stroke="#1e1e1e" stroke-width="0.1" font-size="9" transform="rotate(-90 25.7 270.6)">Fraction (volume %)</text>
<text x="235.6" y="270" text-anchor="middle" fill="#f0282d" stroke="#f0282d" stroke-width="0.1" font-size="9" transform="rotate(90 235.6 270)">Cumulative (%)</text>
<text x="262.4" y="10.1" font-weight="bold" fill="#000" font-size="13.3" stroke="#000" stroke-width="0.35">b</text>
<line x1="309.6" y1="17.5" x2="651.6" y2="17.5" stroke="#8a8a8a" stroke-width="0.9"/>
<line x1="651.5" y1="17.6" x2="651.5" y2="150.4" stroke="#5a5a5a" stroke-width="0.8"/>
<line x1="309.6" y1="17.6" x2="309.6" y2="150.8" stroke="#c4c4c4" stroke-width="1.6"/>
<line x1="309.6" y1="150.5" x2="651.6" y2="150.5" stroke="#5a5a5a" stroke-width="0.9"/>
<line x1="306.2" y1="150.5" x2="309.6" y2="150.5" stroke="#5a5a5a" stroke-width="0.8"/>
<text x="302.2" y="153" letter-spacing="0.25" text-anchor="end" stroke="#1e1e1e" stroke-width="0.1">0</text>
<line x1="307.8" y1="137.5" x2="309.6" y2="137.5" stroke="#5a5a5a" stroke-width="0.7"/>
<line x1="306.2" y1="123.5" x2="309.6" y2="123.5" stroke="#5a5a5a" stroke-width="0.8"/>
<text x="302.2" y="126.42" letter-spacing="0.25" text-anchor="end" stroke="#1e1e1e" stroke-width="0.1">1,000</text>
<line x1="307.8" y1="110.5" x2="309.6" y2="110.5" stroke="#5a5a5a" stroke-width="0.7"/>
<line x1="306.2" y1="97.5" x2="309.6" y2="97.5" stroke="#5a5a5a" stroke-width="0.8"/>
<text x="302.2" y="99.84" letter-spacing="0.25" text-anchor="end" stroke="#1e1e1e" stroke-width="0.1">2,000</text>
<line x1="307.8" y1="84.5" x2="309.6" y2="84.5" stroke="#5a5a5a" stroke-width="0.7"/>
<line x1="306.2" y1="70.5" x2="309.6" y2="70.5" stroke="#5a5a5a" stroke-width="0.8"/>
<text x="302.2" y="73.26" letter-spacing="0.25" text-anchor="end" stroke="#1e1e1e" stroke-width="0.1">3,000</text>
<line x1="307.8" y1="57.5" x2="309.6" y2="57.5" stroke="#5a5a5a" stroke-width="0.7"/>
<line x1="306.2" y1="44.5" x2="309.6" y2="44.5" stroke="#5a5a5a" stroke-width="0.8"/>
<text x="302.2" y="46.68" letter-spacing="0.25" text-anchor="end" stroke="#1e1e1e" stroke-width="0.1">4,000</text>
<line x1="307.8" y1="30.5" x2="309.6" y2="30.5" stroke="#5a5a5a" stroke-width="0.7"/>
<line x1="306.2" y1="17.5" x2="309.6" y2="17.5" stroke="#5a5a5a" stroke-width="0.8"/>
<text x="302.2" y="20.1" letter-spacing="0.25" text-anchor="end" stroke="#1e1e1e" stroke-width="0.1">5,000</text>
<line x1="651.6" y1="150.5" x2="654.4" y2="150.5" stroke="#5a5a5a" stroke-width="0.8"/>
<text x="659" y="152" letter-spacing="0.25" stroke="#1e1e1e" stroke-width="0.1">0</text>
<line x1="651.6" y1="137.5" x2="653.2" y2="137.5" stroke="#5a5a5a" stroke-width="0.7"/>
<line x1="651.6" y1="124.5" x2="654.4" y2="124.5" stroke="#5a5a5a" stroke-width="0.8"/>
<text x="659" y="126.8" letter-spacing="0.25" stroke="#1e1e1e" stroke-width="0.1">20</text>
<line x1="651.6" y1="112.5" x2="653.2" y2="112.5" stroke="#5a5a5a" stroke-width="0.7"/>
<line x1="651.6" y1="99.5" x2="654.4" y2="99.5" stroke="#5a5a5a" stroke-width="0.8"/>
<text x="659" y="101.6" letter-spacing="0.25" stroke="#1e1e1e" stroke-width="0.1">40</text>
<line x1="651.6" y1="87.5" x2="653.2" y2="87.5" stroke="#5a5a5a" stroke-width="0.7"/>
<line x1="651.6" y1="74.5" x2="654.4" y2="74.5" stroke="#5a5a5a" stroke-width="0.8"/>
<text x="659" y="76.4" letter-spacing="0.25" stroke="#1e1e1e" stroke-width="0.1">60</text>
<line x1="651.6" y1="61.5" x2="653.2" y2="61.5" stroke="#5a5a5a" stroke-width="0.7"/>
<line x1="651.6" y1="49.5" x2="654.4" y2="49.5" stroke="#5a5a5a" stroke-width="0.8"/>
<text x="659" y="51.2" letter-spacing="0.25" stroke="#1e1e1e" stroke-width="0.1">80</text>
<line x1="651.6" y1="36.5" x2="653.2" y2="36.5" stroke="#5a5a5a" stroke-width="0.7"/>
<line x1="651.6" y1="24.5" x2="654.4" y2="24.5" stroke="#5a5a5a" stroke-width="0.8"/>
<text x="659" y="26" letter-spacing="0.25" stroke="#1e1e1e" stroke-width="0.1">100</text>
<line x1="309.5" y1="150.4" x2="309.5" y2="153" stroke="#5a5a5a" stroke-width="0.8"/>
<text x="309.6" y="162.7" letter-spacing="0.25" text-anchor="middle" stroke="#1e1e1e" stroke-width="0.1">0</text>
<line x1="351.5" y1="150.4" x2="351.5" y2="151.9" stroke="#5a5a5a" stroke-width="0.7"/>
<line x1="392.5" y1="150.4" x2="392.5" y2="153" stroke="#5a5a5a" stroke-width="0.8"/>
<text x="392.9" y="162.7" letter-spacing="0.25" text-anchor="middle" stroke="#1e1e1e" stroke-width="0.1">50</text>
<line x1="434.5" y1="150.4" x2="434.5" y2="151.9" stroke="#5a5a5a" stroke-width="0.7"/>
<line x1="476.5" y1="150.4" x2="476.5" y2="153" stroke="#5a5a5a" stroke-width="0.8"/>
<text x="476.2" y="162.7" letter-spacing="0.25" text-anchor="middle" stroke="#1e1e1e" stroke-width="0.1">100</text>
<line x1="517.5" y1="150.4" x2="517.5" y2="151.9" stroke="#5a5a5a" stroke-width="0.7"/>
<line x1="559.5" y1="150.4" x2="559.5" y2="153" stroke="#5a5a5a" stroke-width="0.8"/>
<text x="559.5" y="162.7" letter-spacing="0.25" text-anchor="middle" stroke="#1e1e1e" stroke-width="0.1">150</text>
<line x1="601.5" y1="150.4" x2="601.5" y2="151.9" stroke="#5a5a5a" stroke-width="0.7"/>
<line x1="642.5" y1="150.4" x2="642.5" y2="153" stroke="#5a5a5a" stroke-width="0.8"/>
<text x="642.8" y="162.7" letter-spacing="0.25" text-anchor="middle" stroke="#1e1e1e" stroke-width="0.1">200</text>
<text x="480" y="175.4" text-anchor="middle" stroke="#1e1e1e" stroke-width="0.1" font-size="9">Cycle number</text>
<text x="273.9" y="84" text-anchor="middle" stroke="#1e1e1e" stroke-width="0.1" font-size="9" transform="rotate(-90 273.9 84)">Specific capacity (mAh g<tspan font-size="5.6" dy="-3.2">−1</tspan><tspan dy="3.2">)</tspan></text>
<text x="678" y="84.5" text-anchor="middle" stroke="#1e1e1e" stroke-width="0.1" font-size="9" transform="rotate(90 678 84.5)">CE (%)</text>
<g><circle cx="311.27" cy="72.09" r="1.95" fill="#f0693c"/><circle cx="312.93" cy="72.22" r="1.95" fill="#f0693c"/><circle cx="314.6" cy="73.02" r="1.95" fill="#f0693c"/><circle cx="316.26" cy="76.77" r="1.95" fill="#f0693c"/><circle cx="317.93" cy="76.58" r="1.95" fill="#f0693c"/><circle cx="319.6" cy="76.69" r="1.95" fill="#f0693c"/><circle cx="321.26" cy="76.62" r="1.95" fill="#f0693c"/><circle cx="322.93" cy="76.73" r="1.95" fill="#f0693c"/><circle cx="324.59" cy="76.86" r="1.95" fill="#f0693c"/><circle cx="326.26" cy="76.77" r="1.95" fill="#f0693c"/><circle cx="327.93" cy="78.45" r="1.95" fill="#f0693c"/><circle cx="329.59" cy="76.89" r="1.95" fill="#f0693c"/><circle cx="331.26" cy="76.84" r="1.95" fill="#f0693c"/><circle cx="332.92" cy="76.79" r="1.95" fill="#f0693c"/><circle cx="334.59" cy="76.77" r="1.95" fill="#f0693c"/><circle cx="336.26" cy="76.85" r="1.95" fill="#f0693c"/><circle cx="337.92" cy="76.87" r="1.95" fill="#f0693c"/><circle cx="339.59" cy="76.96" r="1.95" fill="#f0693c"/><circle cx="341.25" cy="76.88" r="1.95" fill="#f0693c"/><circle cx="342.92" cy="78.19" r="1.95" fill="#f0693c"/><circle cx="344.59" cy="76.79" r="1.95" fill="#f0693c"/><circle cx="346.25" cy="77.05" r="1.95" fill="#f0693c"/><circle cx="347.92" cy="77.1" r="1.95" fill="#f0693c"/><circle cx="349.58" cy="76.97" r="1.95" fill="#f0693c"/><circle cx="351.25" cy="76.95" r="1.95" fill="#f0693c"/><circle cx="352.92" cy="77.09" r="1.95" fill="#f0693c"/><circle cx="354.58" cy="76.93" r="1.95" fill="#f0693c"/><circle cx="356.25" cy="76.98" r="1.95" fill="#f0693c"/><circle cx="357.91" cy="77.04" r="1.95" fill="#f0693c"/><circle cx="359.58" cy="77.23" r="1.95" fill="#f0693c"/><circle cx="361.25" cy="77.26" r="1.95" fill="#f0693c"/><circle cx="362.91" cy="77.35" r="1.95" fill="#f0693c"/><circle cx="364.58" cy="77.3" r="1.95" fill="#f0693c"/><circle cx="366.24" cy="77.24" r="1.95" fill="#f0693c"/><circle cx="367.91" cy="77.12" r="1.95" fill="#f0693c"/><circle cx="369.58" cy="77.44" r="1.95" fill="#f0693c"/><circle cx="371.24" cy="77.34" r="1.95" fill="#f0693c"/><circle cx="372.91" cy="77.28" r="1.95" fill="#f0693c"/><circle cx="374.57" cy="77.47" r="1.95" fill="#f0693c"/><circle cx="376.24" cy="77.31" r="1.95" fill="#f0693c"/><circle cx="377.91" cy="77.41" r="1.95" fill="#f0693c"/><circle cx="379.57" cy="77.59" r="1.95" fill="#f0693c"/><circle cx="381.24" cy="77.52" r="1.95" fill="#f0693c"/><circle cx="382.9" cy="77.85" r="1.95" fill="#f0693c"/><circle cx="384.57" cy="77.65" r="1.95" fill="#f0693c"/><circle cx="386.24" cy="77.73" r="1.95" fill="#f0693c"/><circle cx="387.9" cy="78.07" r="1.95" fill="#f0693c"/><circle cx="389.57" cy="78.03" r="1.95" fill="#f0693c"/><circle cx="391.23" cy="78.21" r="1.95" fill="#f0693c"/><circle cx="392.9" cy="78.01" r="1.95" fill="#f0693c"/><circle cx="394.57" cy="78.26" r="1.95" fill="#f0693c"/><circle cx="396.23" cy="78.52" r="1.95" fill="#f0693c"/><circle cx="397.9" cy="78.53" r="1.95" fill="#f0693c"/><circle cx="399.56" cy="78.39" r="1.95" fill="#f0693c"/><circle cx="401.23" cy="78.62" r="1.95" fill="#f0693c"/><circle cx="402.9" cy="78.58" r="1.95" fill="#f0693c"/><circle cx="404.56" cy="78.71" r="1.95" fill="#f0693c"/><circle cx="406.23" cy="78.68" r="1.95" fill="#f0693c"/><circle cx="407.89" cy="78.91" r="1.95" fill="#f0693c"/><circle cx="409.56" cy="78.87" r="1.95" fill="#f0693c"/><circle cx="411.23" cy="78.97" r="1.95" fill="#f0693c"/><circle cx="412.89" cy="79.16" r="1.95" fill="#f0693c"/><circle cx="414.56" cy="79.21" r="1.95" fill="#f0693c"/><circle cx="416.22" cy="79.38" r="1.95" fill="#f0693c"/><circle cx="417.89" cy="79.34" r="1.95" fill="#f0693c"/><circle cx="419.56" cy="79.53" r="1.95" fill="#f0693c"/><circle cx="421.22" cy="79.49" r="1.95" fill="#f0693c"/><circle cx="422.89" cy="79.63" r="1.95" fill="#f0693c"/><circle cx="424.55" cy="79.82" r="1.95" fill="#f0693c"/><circle cx="426.22" cy="79.98" r="1.95" fill="#f0693c"/><circle cx="427.89" cy="80.07" r="1.95" fill="#f0693c"/><circle cx="429.55" cy="80.01" r="1.95" fill="#f0693c"/><circle cx="431.22" cy="80.04" r="1.95" fill="#f0693c"/><circle cx="432.88" cy="80.2" r="1.95" fill="#f0693c"/><circle cx="434.55" cy="80.23" r="1.95" fill="#f0693c"/><circle cx="436.22" cy="80.44" r="1.95" fill="#f0693c"/><circle cx="437.88" cy="80.58" r="1.95" fill="#f0693c"/><circle cx="439.55" cy="80.58" r="1.95" fill="#f0693c"/><circle cx="441.21" cy="80.66" r="1.95" fill="#f0693c"/><circle cx="442.88" cy="80.71" r="1.95" fill="#f0693c"/><circle cx="444.55" cy="80.7" r="1.95" fill="#f0693c"/><circle cx="446.21" cy="80.92" r="1.95" fill="#f0693c"/><circle cx="447.88" cy="80.96" r="1.95" fill="#f0693c"/><circle cx="449.54" cy="80.86" r="1.95" fill="#f0693c"/><circle cx="451.21" cy="80.93" r="1.95" fill="#f0693c"/><circle cx="452.88" cy="81.24" r="1.95" fill="#f0693c"/><circle cx="454.54" cy="81.19" r="1.95" fill="#f0693c"/><circle cx="456.21" cy="81.21" r="1.95" fill="#f0693c"/><circle cx="457.87" cy="81.33" r="1.95" fill="#f0693c"/><circle cx="459.54" cy="81.48" r="1.95" fill="#f0693c"/><circle cx="461.21" cy="81.47" r="1.95" fill="#f0693c"/><circle cx="462.87" cy="81.37" r="1.95" fill="#f0693c"/><circle cx="464.54" cy="81.56" r="1.95" fill="#f0693c"/><circle cx="466.2" cy="81.59" r="1.95" fill="#f0693c"/><circle cx="467.87" cy="81.6" r="1.95" fill="#f0693c"/><circle cx="469.54" cy="81.71" r="1.95" fill="#f0693c"/><circle cx="471.2" cy="81.92" r="1.95" fill="#f0693c"/><circle cx="472.87" cy="82.14" r="1.95" fill="#f0693c"/><circle cx="474.53" cy="82.08" r="1.95" fill="#f0693c"/><circle cx="476.2" cy="82" r="1.95" fill="#f0693c"/><circle cx="477.87" cy="82.04" r="1.95" fill="#f0693c"/><circle cx="479.53" cy="82.07" r="1.95" fill="#f0693c"/><circle cx="481.2" cy="82.33" r="1.95" fill="#f0693c"/><circle cx="482.86" cy="82.27" r="1.95" fill="#f0693c"/><circle cx="484.53" cy="82.4" r="1.95" fill="#f0693c"/><circle cx="486.2" cy="82.44" r="1.95" fill="#f0693c"/><circle cx="487.86" cy="82.64" r="1.95" fill="#f0693c"/><circle cx="489.53" cy="82.7" r="1.95" fill="#f0693c"/><circle cx="491.19" cy="82.68" r="1.95" fill="#f0693c"/><circle cx="492.86" cy="82.89" r="1.95" fill="#f0693c"/><circle cx="494.53" cy="82.83" r="1.95" fill="#f0693c"/><circle cx="496.19" cy="82.76" r="1.95" fill="#f0693c"/><circle cx="497.86" cy="82.92" r="1.95" fill="#f0693c"/><circle cx="499.52" cy="83.07" r="1.95" fill="#f0693c"/><circle cx="501.19" cy="83.02" r="1.95" fill="#f0693c"/><circle cx="502.86" cy="83.2" r="1.95" fill="#f0693c"/><circle cx="504.52" cy="83.08" r="1.95" fill="#f0693c"/><circle cx="506.19" cy="83.36" r="1.95" fill="#f0693c"/><circle cx="507.85" cy="83.28" r="1.95" fill="#f0693c"/><circle cx="509.52" cy="83.28" r="1.95" fill="#f0693c"/><circle cx="511.19" cy="83.53" r="1.95" fill="#f0693c"/><circle cx="512.85" cy="83.36" r="1.95" fill="#f0693c"/><circle cx="514.52" cy="83.61" r="1.95" fill="#f0693c"/><circle cx="516.18" cy="83.55" r="1.95" fill="#f0693c"/><circle cx="517.85" cy="83.76" r="1.95" fill="#f0693c"/><circle cx="519.52" cy="83.7" r="1.95" fill="#f0693c"/><circle cx="521.18" cy="83.82" r="1.95" fill="#f0693c"/><circle cx="522.85" cy="83.83" r="1.95" fill="#f0693c"/><circle cx="524.51" cy="83.73" r="1.95" fill="#f0693c"/><circle cx="526.18" cy="83.93" r="1.95" fill="#f0693c"/><circle cx="527.85" cy="83.85" r="1.95" fill="#f0693c"/><circle cx="529.51" cy="83.88" r="1.95" fill="#f0693c"/><circle cx="531.18" cy="84.15" r="1.95" fill="#f0693c"/><circle cx="532.84" cy="84.28" r="1.95" fill="#f0693c"/><circle cx="534.51" cy="84.36" r="1.95" fill="#f0693c"/><circle cx="536.18" cy="84.22" r="1.95" fill="#f0693c"/><circle cx="537.84" cy="84.11" r="1.95" fill="#f0693c"/><circle cx="539.51" cy="84.41" r="1.95" fill="#f0693c"/><circle cx="541.17" cy="84.36" r="1.95" fill="#f0693c"/><circle cx="542.84" cy="84.37" r="1.95" fill="#f0693c"/><circle cx="544.51" cy="84.48" r="1.95" fill="#f0693c"/><circle cx="546.17" cy="84.5" r="1.95" fill="#f0693c"/><circle cx="547.84" cy="84.48" r="1.95" fill="#f0693c"/><circle cx="549.5" cy="84.82" r="1.95" fill="#f0693c"/><circle cx="551.17" cy="84.95" r="1.95" fill="#f0693c"/><circle cx="552.84" cy="84.95" r="1.95" fill="#f0693c"/><circle cx="554.5" cy="85.02" r="1.95" fill="#f0693c"/><circle cx="556.17" cy="84.88" r="1.95" fill="#f0693c"/><circle cx="557.83" cy="84.98" r="1.95" fill="#f0693c"/><circle cx="559.5" cy="85.16" r="1.95" fill="#f0693c"/><circle cx="561.17" cy="85.07" r="1.95" fill="#f0693c"/><circle cx="562.83" cy="85.12" r="1.95" fill="#f0693c"/><circle cx="564.5" cy="85.43" r="1.95" fill="#f0693c"/><circle cx="566.16" cy="85.34" r="1.95" fill="#f0693c"/><circle cx="567.83" cy="85.37" r="1.95" fill="#f0693c"/><circle cx="569.5" cy="85.69" r="1.95" fill="#f0693c"/><circle cx="571.16" cy="85.51" r="1.95" fill="#f0693c"/><circle cx="572.83" cy="85.53" r="1.95" fill="#f0693c"/><circle cx="574.49" cy="85.93" r="1.95" fill="#f0693c"/><circle cx="576.16" cy="86.04" r="1.95" fill="#f0693c"/><circle cx="577.83" cy="86.02" r="1.95" fill="#f0693c"/><circle cx="579.49" cy="85.96" r="1.95" fill="#f0693c"/><circle cx="581.16" cy="85.94" r="1.95" fill="#f0693c"/><circle cx="582.82" cy="86.23" r="1.95" fill="#f0693c"/><circle cx="584.49" cy="86.19" r="1.95" fill="#f0693c"/><circle cx="586.16" cy="86.51" r="1.95" fill="#f0693c"/><circle cx="587.82" cy="86.36" r="1.95" fill="#f0693c"/><circle cx="589.49" cy="86.47" r="1.95" fill="#f0693c"/><circle cx="591.15" cy="86.74" r="1.95" fill="#f0693c"/><circle cx="592.82" cy="86.57" r="1.95" fill="#f0693c"/><circle cx="594.49" cy="86.62" r="1.95" fill="#f0693c"/><circle cx="596.15" cy="86.8" r="1.95" fill="#f0693c"/><circle cx="597.82" cy="87.06" r="1.95" fill="#f0693c"/><circle cx="599.48" cy="86.82" r="1.95" fill="#f0693c"/><circle cx="601.15" cy="86.97" r="1.95" fill="#f0693c"/><circle cx="602.82" cy="87.22" r="1.95" fill="#f0693c"/><circle cx="604.48" cy="87.27" r="1.95" fill="#f0693c"/><circle cx="606.15" cy="87.37" r="1.95" fill="#f0693c"/><circle cx="607.81" cy="87.4" r="1.95" fill="#f0693c"/><circle cx="609.48" cy="87.54" r="1.95" fill="#f0693c"/><circle cx="611.15" cy="87.43" r="1.95" fill="#f0693c"/><circle cx="612.81" cy="87.52" r="1.95" fill="#f0693c"/><circle cx="614.48" cy="87.87" r="1.95" fill="#f0693c"/><circle cx="616.14" cy="87.63" r="1.95" fill="#f0693c"/><circle cx="617.81" cy="87.83" r="1.95" fill="#f0693c"/><circle cx="619.48" cy="87.84" r="1.95" fill="#f0693c"/><circle cx="621.14" cy="87.97" r="1.95" fill="#f0693c"/><circle cx="622.81" cy="88.15" r="1.95" fill="#f0693c"/><circle cx="624.47" cy="88.12" r="1.95" fill="#f0693c"/><circle cx="626.14" cy="88.12" r="1.95" fill="#f0693c"/><circle cx="627.81" cy="88.45" r="1.95" fill="#f0693c"/><circle cx="629.47" cy="88.34" r="1.95" fill="#f0693c"/><circle cx="631.14" cy="88.52" r="1.95" fill="#f0693c"/><circle cx="632.8" cy="88.62" r="1.95" fill="#f0693c"/><circle cx="634.47" cy="88.72" r="1.95" fill="#f0693c"/><circle cx="636.14" cy="88.69" r="1.95" fill="#f0693c"/><circle cx="637.8" cy="88.94" r="1.95" fill="#f0693c"/><circle cx="639.47" cy="88.8" r="1.95" fill="#f0693c"/><circle cx="641.13" cy="88.89" r="1.95" fill="#f0693c"/><circle cx="642.8" cy="89.25" r="1.95" fill="#f0693c"/><circle cx="644.47" cy="89.03" r="1.95" fill="#f0693c"/><circle cx="646.13" cy="89.35" r="1.95" fill="#f0693c"/><circle cx="647.8" cy="89.35" r="1.95" fill="#f0693c"/><circle cx="649.46" cy="89.38" r="1.95" fill="#f0693c"/><circle cx="651.13" cy="89.54" r="1.95" fill="#f0693c"/><circle cx="311.27" cy="56.89" r="1.95" fill="#1a8cf2"/><circle cx="312.93" cy="90.16" r="1.95" fill="#1a8cf2"/><circle cx="314.6" cy="99.44" r="1.95" fill="#1a8cf2"/><circle cx="316.26" cy="109.83" r="1.95" fill="#1a8cf2"/><circle cx="317.93" cy="114.43" r="1.95" fill="#1a8cf2"/><circle cx="319.6" cy="118.42" r="1.95" fill="#1a8cf2"/><circle cx="321.26" cy="122.33" r="1.95" fill="#1a8cf2"/><circle cx="322.93" cy="125.83" r="1.95" fill="#1a8cf2"/><circle cx="324.59" cy="129.02" r="1.95" fill="#1a8cf2"/><circle cx="326.26" cy="132.16" r="1.95" fill="#1a8cf2"/><circle cx="327.93" cy="134.55" r="1.95" fill="#1a8cf2"/><circle cx="329.59" cy="136.41" r="1.95" fill="#1a8cf2"/><circle cx="331.26" cy="138.27" r="1.95" fill="#1a8cf2"/><circle cx="332.92" cy="139.74" r="1.95" fill="#1a8cf2"/><circle cx="334.59" cy="140.8" r="1.95" fill="#1a8cf2"/><circle cx="336.26" cy="141.67" r="1.95" fill="#1a8cf2"/><circle cx="337.92" cy="142.07" r="1.95" fill="#1a8cf2"/><circle cx="339.59" cy="142.71" r="1.95" fill="#1a8cf2"/><circle cx="341.25" cy="143.17" r="1.95" fill="#1a8cf2"/><circle cx="342.92" cy="143.54" r="1.95" fill="#1a8cf2"/><circle cx="344.59" cy="143.88" r="1.95" fill="#1a8cf2"/><circle cx="346.25" cy="144.06" r="1.95" fill="#1a8cf2"/><circle cx="347.92" cy="144.35" r="1.95" fill="#1a8cf2"/><circle cx="349.58" cy="144.66" r="1.95" fill="#1a8cf2"/><circle cx="351.25" cy="144.94" r="1.95" fill="#1a8cf2"/><circle cx="352.92" cy="145.03" r="1.95" fill="#1a8cf2"/><circle cx="354.58" cy="145.33" r="1.95" fill="#1a8cf2"/><circle cx="356.25" cy="145.38" r="1.95" fill="#1a8cf2"/><circle cx="357.91" cy="145.57" r="1.95" fill="#1a8cf2"/><circle cx="359.58" cy="145.68" r="1.95" fill="#1a8cf2"/><circle cx="361.25" cy="145.85" r="1.95" fill="#1a8cf2"/><circle cx="362.91" cy="146.01" r="1.95" fill="#1a8cf2"/><circle cx="364.58" cy="146.19" r="1.95" fill="#1a8cf2"/><circle cx="366.24" cy="146.28" r="1.95" fill="#1a8cf2"/><circle cx="367.91" cy="146.54" r="1.95" fill="#1a8cf2"/><circle cx="369.58" cy="146.66" r="1.95" fill="#1a8cf2"/><circle cx="371.24" cy="146.73" r="1.95" fill="#1a8cf2"/><circle cx="372.91" cy="146.93" r="1.95" fill="#1a8cf2"/><circle cx="374.57" cy="147.03" r="1.95" fill="#1a8cf2"/><circle cx="376.24" cy="147.1" r="1.95" fill="#1a8cf2"/><circle cx="377.91" cy="147.14" r="1.95" fill="#1a8cf2"/><circle cx="379.57" cy="147.2" r="1.95" fill="#1a8cf2"/><circle cx="381.24" cy="147.2" r="1.95" fill="#1a8cf2"/><circle cx="382.9" cy="147.31" r="1.95" fill="#1a8cf2"/><circle cx="384.57" cy="147.3" r="1.95" fill="#1a8cf2"/><circle cx="386.24" cy="147.42" r="1.95" fill="#1a8cf2"/><circle cx="387.9" cy="147.47" r="1.95" fill="#1a8cf2"/><circle cx="389.57" cy="147.54" r="1.95" fill="#1a8cf2"/><circle cx="391.23" cy="147.58" r="1.95" fill="#1a8cf2"/><circle cx="392.9" cy="147.64" r="1.95" fill="#1a8cf2"/><circle cx="394.57" cy="147.59" r="1.95" fill="#1a8cf2"/><circle cx="396.23" cy="147.58" r="1.95" fill="#1a8cf2"/><circle cx="397.9" cy="147.69" r="1.95" fill="#1a8cf2"/><circle cx="399.56" cy="147.71" r="1.95" fill="#1a8cf2"/><circle cx="401.23" cy="147.69" r="1.95" fill="#1a8cf2"/><circle cx="402.9" cy="147.67" r="1.95" fill="#1a8cf2"/><circle cx="404.56" cy="147.65" r="1.95" fill="#1a8cf2"/><circle cx="406.23" cy="147.74" r="1.95" fill="#1a8cf2"/><circle cx="407.89" cy="147.8" r="1.95" fill="#1a8cf2"/><circle cx="409.56" cy="147.85" r="1.95" fill="#1a8cf2"/><circle cx="411.23" cy="147.86" r="1.95" fill="#1a8cf2"/><circle cx="412.89" cy="147.87" r="1.95" fill="#1a8cf2"/><circle cx="414.56" cy="147.9" r="1.95" fill="#1a8cf2"/><circle cx="416.22" cy="147.95" r="1.95" fill="#1a8cf2"/><circle cx="417.89" cy="147.89" r="1.95" fill="#1a8cf2"/><circle cx="419.56" cy="147.95" r="1.95" fill="#1a8cf2"/><circle cx="421.22" cy="147.86" r="1.95" fill="#1a8cf2"/><circle cx="422.89" cy="147.95" r="1.95" fill="#1a8cf2"/><circle cx="424.55" cy="147.95" r="1.95" fill="#1a8cf2"/><circle cx="426.22" cy="148.06" r="1.95" fill="#1a8cf2"/><circle cx="427.89" cy="147.96" r="1.95" fill="#1a8cf2"/><circle cx="429.55" cy="148.05" r="1.95" fill="#1a8cf2"/><circle cx="431.22" cy="148.01" r="1.95" fill="#1a8cf2"/><circle cx="432.88" cy="148.07" r="1.95" fill="#1a8cf2"/><circle cx="434.55" cy="148.11" r="1.95" fill="#1a8cf2"/><circle cx="436.22" cy="148.13" r="1.95" fill="#1a8cf2"/><circle cx="437.88" cy="148.18" r="1.95" fill="#1a8cf2"/><circle cx="439.55" cy="148.22" r="1.95" fill="#1a8cf2"/><circle cx="441.21" cy="148.09" r="1.95" fill="#1a8cf2"/><circle cx="442.88" cy="148.18" r="1.95" fill="#1a8cf2"/><circle cx="444.55" cy="148.13" r="1.95" fill="#1a8cf2"/><circle cx="446.21" cy="148.21" r="1.95" fill="#1a8cf2"/><circle cx="447.88" cy="148.28" r="1.95" fill="#1a8cf2"/><circle cx="449.54" cy="148.2" r="1.95" fill="#1a8cf2"/><circle cx="451.21" cy="148.31" r="1.95" fill="#1a8cf2"/><circle cx="452.88" cy="148.3" r="1.95" fill="#1a8cf2"/><circle cx="454.54" cy="148.25" r="1.95" fill="#1a8cf2"/><circle cx="456.21" cy="148.3" r="1.95" fill="#1a8cf2"/><circle cx="457.87" cy="148.21" r="1.95" fill="#1a8cf2"/><circle cx="459.54" cy="148.36" r="1.95" fill="#1a8cf2"/><circle cx="461.21" cy="148.27" r="1.95" fill="#1a8cf2"/><circle cx="462.87" cy="148.31" r="1.95" fill="#1a8cf2"/><circle cx="464.54" cy="148.29" r="1.95" fill="#1a8cf2"/><circle cx="466.2" cy="148.39" r="1.95" fill="#1a8cf2"/><circle cx="467.87" cy="148.36" r="1.95" fill="#1a8cf2"/><circle cx="469.54" cy="148.38" r="1.95" fill="#1a8cf2"/><circle cx="471.2" cy="148.4" r="1.95" fill="#1a8cf2"/><circle cx="472.87" cy="148.34" r="1.95" fill="#1a8cf2"/><circle cx="474.53" cy="148.34" r="1.95" fill="#1a8cf2"/><circle cx="476.2" cy="148.46" r="1.95" fill="#1a8cf2"/><circle cx="477.87" cy="148.41" r="1.95" fill="#1a8cf2"/><circle cx="479.53" cy="148.42" r="1.95" fill="#1a8cf2"/><circle cx="481.2" cy="148.41" r="1.95" fill="#1a8cf2"/><circle cx="482.86" cy="148.38" r="1.95" fill="#1a8cf2"/><circle cx="484.53" cy="148.51" r="1.95" fill="#1a8cf2"/><circle cx="486.2" cy="148.51" r="1.95" fill="#1a8cf2"/><circle cx="487.86" cy="148.45" r="1.95" fill="#1a8cf2"/><circle cx="489.53" cy="148.54" r="1.95" fill="#1a8cf2"/><circle cx="491.19" cy="148.54" r="1.95" fill="#1a8cf2"/><circle cx="492.86" cy="148.56" r="1.95" fill="#1a8cf2"/><circle cx="494.53" cy="148.58" r="1.95" fill="#1a8cf2"/><circle cx="496.19" cy="148.52" r="1.95" fill="#1a8cf2"/><circle cx="497.86" cy="148.5" r="1.95" fill="#1a8cf2"/><circle cx="499.52" cy="148.56" r="1.95" fill="#1a8cf2"/><circle cx="501.19" cy="148.57" r="1.95" fill="#1a8cf2"/><circle cx="502.86" cy="148.5" r="1.95" fill="#1a8cf2"/><circle cx="504.52" cy="148.51" r="1.95" fill="#1a8cf2"/><circle cx="506.19" cy="148.56" r="1.95" fill="#1a8cf2"/><circle cx="507.85" cy="148.53" r="1.95" fill="#1a8cf2"/><circle cx="509.52" cy="148.5" r="1.95" fill="#1a8cf2"/><circle cx="511.19" cy="148.53" r="1.95" fill="#1a8cf2"/><circle cx="512.85" cy="148.56" r="1.95" fill="#1a8cf2"/><circle cx="514.52" cy="148.56" r="1.95" fill="#1a8cf2"/><circle cx="516.18" cy="148.52" r="1.95" fill="#1a8cf2"/><circle cx="517.85" cy="148.61" r="1.95" fill="#1a8cf2"/><circle cx="519.52" cy="148.6" r="1.95" fill="#1a8cf2"/><circle cx="521.18" cy="148.59" r="1.95" fill="#1a8cf2"/><circle cx="522.85" cy="148.56" r="1.95" fill="#1a8cf2"/><circle cx="524.51" cy="148.58" r="1.95" fill="#1a8cf2"/><circle cx="526.18" cy="148.7" r="1.95" fill="#1a8cf2"/><circle cx="527.85" cy="148.69" r="1.95" fill="#1a8cf2"/><circle cx="529.51" cy="148.68" r="1.95" fill="#1a8cf2"/><circle cx="531.18" cy="148.62" r="1.95" fill="#1a8cf2"/><circle cx="532.84" cy="148.65" r="1.95" fill="#1a8cf2"/><circle cx="534.51" cy="148.7" r="1.95" fill="#1a8cf2"/><circle cx="536.18" cy="148.74" r="1.95" fill="#1a8cf2"/><circle cx="537.84" cy="148.65" r="1.95" fill="#1a8cf2"/><circle cx="539.51" cy="148.66" r="1.95" fill="#1a8cf2"/><circle cx="541.17" cy="148.63" r="1.95" fill="#1a8cf2"/><circle cx="542.84" cy="148.7" r="1.95" fill="#1a8cf2"/><circle cx="544.51" cy="148.71" r="1.95" fill="#1a8cf2"/><circle cx="546.17" cy="148.78" r="1.95" fill="#1a8cf2"/><circle cx="547.84" cy="148.8" r="1.95" fill="#1a8cf2"/><circle cx="549.5" cy="148.74" r="1.95" fill="#1a8cf2"/><circle cx="551.17" cy="148.77" r="1.95" fill="#1a8cf2"/><circle cx="552.84" cy="148.78" r="1.95" fill="#1a8cf2"/><circle cx="554.5" cy="148.82" r="1.95" fill="#1a8cf2"/><circle cx="556.17" cy="148.68" r="1.95" fill="#1a8cf2"/><circle cx="557.83" cy="148.71" r="1.95" fill="#1a8cf2"/><circle cx="559.5" cy="148.76" r="1.95" fill="#1a8cf2"/><circle cx="561.17" cy="148.71" r="1.95" fill="#1a8cf2"/><circle cx="562.83" cy="148.7" r="1.95" fill="#1a8cf2"/><circle cx="564.5" cy="148.76" r="1.95" fill="#1a8cf2"/><circle cx="566.16" cy="148.83" r="1.95" fill="#1a8cf2"/><circle cx="567.83" cy="148.87" r="1.95" fill="#1a8cf2"/><circle cx="569.5" cy="148.76" r="1.95" fill="#1a8cf2"/><circle cx="571.16" cy="148.81" r="1.95" fill="#1a8cf2"/><circle cx="572.83" cy="148.79" r="1.95" fill="#1a8cf2"/><circle cx="574.49" cy="148.75" r="1.95" fill="#1a8cf2"/><circle cx="576.16" cy="148.87" r="1.95" fill="#1a8cf2"/><circle cx="577.83" cy="148.81" r="1.95" fill="#1a8cf2"/><circle cx="579.49" cy="148.81" r="1.95" fill="#1a8cf2"/><circle cx="581.16" cy="148.84" r="1.95" fill="#1a8cf2"/><circle cx="582.82" cy="148.91" r="1.95" fill="#1a8cf2"/><circle cx="584.49" cy="148.87" r="1.95" fill="#1a8cf2"/><circle cx="586.16" cy="148.88" r="1.95" fill="#1a8cf2"/><circle cx="587.82" cy="148.83" r="1.95" fill="#1a8cf2"/><circle cx="589.49" cy="148.8" r="1.95" fill="#1a8cf2"/><circle cx="591.15" cy="148.89" r="1.95" fill="#1a8cf2"/><circle cx="592.82" cy="148.84" r="1.95" fill="#1a8cf2"/><circle cx="594.49" cy="148.91" r="1.95" fill="#1a8cf2"/><circle cx="596.15" cy="148.81" r="1.95" fill="#1a8cf2"/><circle cx="597.82" cy="148.83" r="1.95" fill="#1a8cf2"/><circle cx="599.48" cy="148.88" r="1.95" fill="#1a8cf2"/><circle cx="601.15" cy="148.9" r="1.95" fill="#1a8cf2"/><circle cx="602.82" cy="148.93" r="1.95" fill="#1a8cf2"/><circle cx="604.48" cy="148.93" r="1.95" fill="#1a8cf2"/><circle cx="606.15" cy="148.83" r="1.95" fill="#1a8cf2"/><circle cx="607.81" cy="148.93" r="1.95" fill="#1a8cf2"/><circle cx="609.48" cy="148.91" r="1.95" fill="#1a8cf2"/><circle cx="611.15" cy="148.84" r="1.95" fill="#1a8cf2"/><circle cx="612.81" cy="148.9" r="1.95" fill="#1a8cf2"/><circle cx="614.48" cy="148.92" r="1.95" fill="#1a8cf2"/><circle cx="616.14" cy="148.95" r="1.95" fill="#1a8cf2"/><circle cx="617.81" cy="148.99" r="1.95" fill="#1a8cf2"/><circle cx="619.48" cy="148.97" r="1.95" fill="#1a8cf2"/><circle cx="621.14" cy="148.91" r="1.95" fill="#1a8cf2"/><circle cx="622.81" cy="148.94" r="1.95" fill="#1a8cf2"/><circle cx="624.47" cy="148.92" r="1.95" fill="#1a8cf2"/><circle cx="626.14" cy="149.01" r="1.95" fill="#1a8cf2"/><circle cx="627.81" cy="148.96" r="1.95" fill="#1a8cf2"/><circle cx="629.47" cy="148.91" r="1.95" fill="#1a8cf2"/><circle cx="631.14" cy="148.99" r="1.95" fill="#1a8cf2"/><circle cx="632.8" cy="148.95" r="1.95" fill="#1a8cf2"/><circle cx="634.47" cy="149.05" r="1.95" fill="#1a8cf2"/><circle cx="636.14" cy="148.92" r="1.95" fill="#1a8cf2"/><circle cx="637.8" cy="148.98" r="1.95" fill="#1a8cf2"/><circle cx="639.47" cy="149.05" r="1.95" fill="#1a8cf2"/><circle cx="641.13" cy="149.06" r="1.95" fill="#1a8cf2"/><circle cx="642.8" cy="149.01" r="1.95" fill="#1a8cf2"/><circle cx="644.47" cy="149.01" r="1.95" fill="#1a8cf2"/><circle cx="646.13" cy="149.09" r="1.95" fill="#1a8cf2"/><circle cx="647.8" cy="148.95" r="1.95" fill="#1a8cf2"/><circle cx="649.46" cy="148.97" r="1.95" fill="#1a8cf2"/><circle cx="651.13" cy="149.04" r="1.95" fill="#1a8cf2"/><circle cx="311.27" cy="68.86" r="1.65" fill="#fff" stroke="#1a8cf2" stroke-width="0.75"/><circle cx="312.93" cy="34.96" r="1.65" fill="#fff" stroke="#1a8cf2" stroke-width="0.75"/><circle cx="314.6" cy="49.7" r="1.65" fill="#fff" stroke="#1a8cf2" stroke-width="0.75"/><circle cx="316.26" cy="37.56" r="1.65" fill="#fff" stroke="#1a8cf2" stroke-width="0.75"/><circle cx="317.93" cy="37.54" r="1.65" fill="#fff" stroke="#1a8cf2" stroke-width="0.75"/><circle cx="319.6" cy="37.19" r="1.65" fill="#fff" stroke="#1a8cf2" stroke-width="0.75"/><circle cx="321.26" cy="36.96" r="1.65" fill="#fff" stroke="#1a8cf2" stroke-width="0.75"/><circle cx="322.93" cy="36.89" r="1.65" fill="#fff" stroke="#1a8cf2" stroke-width="0.75"/><circle cx="324.59" cy="37.04" r="1.65" fill="#fff" stroke="#1a8cf2" stroke-width="0.75"/><circle cx="326.26" cy="37.08" r="1.65" fill="#fff" stroke="#1a8cf2" stroke-width="0.75"/><circle cx="327.93" cy="37.51" r="1.65" fill="#fff" stroke="#1a8cf2" stroke-width="0.75"/><circle cx="329.59" cy="36.5" r="1.65" fill="#fff" stroke="#1a8cf2" stroke-width="0.75"/><circle cx="331.26" cy="35.77" r="1.65" fill="#fff" stroke="#1a8cf2" stroke-width="0.75"/><circle cx="332.92" cy="34.44" r="1.65" fill="#fff" stroke="#1a8cf2" stroke-width="0.75"/><circle cx="334.59" cy="33.07" r="1.65" fill="#fff" stroke="#1a8cf2" stroke-width="0.75"/><circle cx="336.26" cy="32.21" r="1.65" fill="#fff" stroke="#1a8cf2" stroke-width="0.75"/><circle cx="337.92" cy="31.25" r="1.65" fill="#fff" stroke="#1a8cf2" stroke-width="0.75"/><circle cx="339.59" cy="30.24" r="1.65" fill="#fff" stroke="#1a8cf2" stroke-width="0.75"/><circle cx="341.25" cy="29.65" r="1.65" fill="#fff" stroke="#1a8cf2" stroke-width="0.75"/><circle cx="342.92" cy="29.15" r="1.65" fill="#fff" stroke="#1a8cf2" stroke-width="0.75"/><circle cx="344.59" cy="28.38" r="1.65" fill="#fff" stroke="#1a8cf2" stroke-width="0.75"/><circle cx="346.25" cy="27.98" r="1.65" fill="#fff" stroke="#1a8cf2" stroke-width="0.75"/><circle cx="347.92" cy="27.97" r="1.65" fill="#fff" stroke="#1a8cf2" stroke-width="0.75"/><circle cx="349.58" cy="27.35" r="1.65" fill="#fff" stroke="#1a8cf2" stroke-width="0.75"/><circle cx="351.25" cy="27.08" r="1.65" fill="#fff" stroke="#1a8cf2" stroke-width="0.75"/><circle cx="352.92" cy="27.01" r="1.65" fill="#fff" stroke="#1a8cf2" stroke-width="0.75"/><circle cx="354.58" cy="26.88" r="1.65" fill="#fff" stroke="#1a8cf2" stroke-width="0.75"/><circle cx="356.25" cy="26.38" r="1.65" fill="#fff" stroke="#1a8cf2" stroke-width="0.75"/><circle cx="357.91" cy="26.44" r="1.65" fill="#fff" stroke="#1a8cf2" stroke-width="0.75"/><circle cx="359.58" cy="26.45" r="1.65" fill="#fff" stroke="#1a8cf2" stroke-width="0.75"/><circle cx="361.25" cy="26.37" r="1.65" fill="#fff" stroke="#1a8cf2" stroke-width="0.75"/><circle cx="362.91" cy="26.01" r="1.65" fill="#fff" stroke="#1a8cf2" stroke-width="0.75"/><circle cx="364.58" cy="26.02" r="1.65" fill="#fff" stroke="#1a8cf2" stroke-width="0.75"/><circle cx="366.24" cy="25.86" r="1.65" fill="#fff" stroke="#1a8cf2" stroke-width="0.75"/><circle cx="367.91" cy="25.81" r="1.65" fill="#fff" stroke="#1a8cf2" stroke-width="0.75"/><circle cx="369.58" cy="25.81" r="1.65" fill="#fff" stroke="#1a8cf2" stroke-width="0.75"/><circle cx="371.24" cy="25.58" r="1.65" fill="#fff" stroke="#1a8cf2" stroke-width="0.75"/><circle cx="372.91" cy="25.77" r="1.65" fill="#fff" stroke="#1a8cf2" stroke-width="0.75"/><circle cx="374.57" cy="25.67" r="1.65" fill="#fff" stroke="#1a8cf2" stroke-width="0.75"/><circle cx="376.24" cy="25.53" r="1.65" fill="#fff" stroke="#1a8cf2" stroke-width="0.75"/><circle cx="377.91" cy="25.58" r="1.65" fill="#fff" stroke="#1a8cf2" stroke-width="0.75"/><circle cx="379.57" cy="25.46" r="1.65" fill="#fff" stroke="#1a8cf2" stroke-width="0.75"/><circle cx="381.24" cy="25.53" r="1.65" fill="#fff" stroke="#1a8cf2" stroke-width="0.75"/><circle cx="382.9" cy="25.45" r="1.65" fill="#fff" stroke="#1a8cf2" stroke-width="0.75"/><circle cx="384.57" cy="25.63" r="1.65" fill="#fff" stroke="#1a8cf2" stroke-width="0.75"/><circle cx="386.24" cy="25.44" r="1.65" fill="#fff" stroke="#1a8cf2" stroke-width="0.75"/><circle cx="387.9" cy="25.3" r="1.65" fill="#fff" stroke="#1a8cf2" stroke-width="0.75"/><circle cx="389.57" cy="25.26" r="1.65" fill="#fff" stroke="#1a8cf2" stroke-width="0.75"/><circle cx="391.23" cy="25.09" r="1.65" fill="#fff" stroke="#1a8cf2" stroke-width="0.75"/><circle cx="392.9" cy="25.02" r="1.65" fill="#fff" stroke="#1a8cf2" stroke-width="0.75"/><circle cx="394.57" cy="24.84" r="1.65" fill="#fff" stroke="#1a8cf2" stroke-width="0.75"/><circle cx="396.23" cy="24.62" r="1.65" fill="#fff" stroke="#1a8cf2" stroke-width="0.75"/><circle cx="397.9" cy="24.64" r="1.65" fill="#fff" stroke="#1a8cf2" stroke-width="0.75"/><circle cx="399.56" cy="24.55" r="1.65" fill="#fff" stroke="#1a8cf2" stroke-width="0.75"/><circle cx="401.23" cy="24.53" r="1.65" fill="#fff" stroke="#1a8cf2" stroke-width="0.75"/><circle cx="402.9" cy="24.42" r="1.65" fill="#fff" stroke="#1a8cf2" stroke-width="0.75"/><circle cx="404.56" cy="24.09" r="1.65" fill="#fff" stroke="#1a8cf2" stroke-width="0.75"/><circle cx="406.23" cy="24.11" r="1.65" fill="#fff" stroke="#1a8cf2" stroke-width="0.75"/><circle cx="407.89" cy="24.04" r="1.65" fill="#fff" stroke="#1a8cf2" stroke-width="0.75"/><circle cx="409.56" cy="24.12" r="1.65" fill="#fff" stroke="#1a8cf2" stroke-width="0.75"/><circle cx="411.23" cy="23.89" r="1.65" fill="#fff" stroke="#1a8cf2" stroke-width="0.75"/><circle cx="412.89" cy="24.08" r="1.65" fill="#fff" stroke="#1a8cf2" stroke-width="0.75"/><circle cx="414.56" cy="23.97" r="1.65" fill="#fff" stroke="#1a8cf2" stroke-width="0.75"/><circle cx="416.22" cy="23.71" r="1.65" fill="#fff" stroke="#1a8cf2" stroke-width="0.75"/><circle cx="417.89" cy="23.82" r="1.65" fill="#fff" stroke="#1a8cf2" stroke-width="0.75"/><circle cx="419.56" cy="23.83" r="1.65" fill="#fff" stroke="#1a8cf2" stroke-width="0.75"/><circle cx="421.22" cy="23.75" r="1.65" fill="#fff" stroke="#1a8cf2" stroke-width="0.75"/><circle cx="422.89" cy="23.67" r="1.65" fill="#fff" stroke="#1a8cf2" stroke-width="0.75"/><circle cx="424.55" cy="23.67" r="1.65" fill="#fff" stroke="#1a8cf2" stroke-width="0.75"/><circle cx="426.22" cy="23.85" r="1.65" fill="#fff" stroke="#1a8cf2" stroke-width="0.75"/><circle cx="427.89" cy="23.9" r="1.65" fill="#fff" stroke="#1a8cf2" stroke-width="0.75"/><circle cx="429.55" cy="23.77" r="1.65" fill="#fff" stroke="#1a8cf2" stroke-width="0.75"/><circle cx="431.22" cy="23.76" r="1.65" fill="#fff" stroke="#1a8cf2" stroke-width="0.75"/><circle cx="432.88" cy="23.76" r="1.65" fill="#fff" stroke="#1a8cf2" stroke-width="0.75"/><circle cx="434.55" cy="23.45" r="1.65" fill="#fff" stroke="#1a8cf2" stroke-width="0.75"/><circle cx="436.22" cy="23.45" r="1.65" fill="#fff" stroke="#1a8cf2" stroke-width="0.75"/><circle cx="437.88" cy="23.64" r="1.65" fill="#fff" stroke="#1a8cf2" stroke-width="0.75"/><circle cx="439.55" cy="23.49" r="1.65" fill="#fff" stroke="#1a8cf2" stroke-width="0.75"/><circle cx="441.21" cy="23.56" r="1.65" fill="#fff" stroke="#1a8cf2" stroke-width="0.75"/><circle cx="442.88" cy="23.34" r="1.65" fill="#fff" stroke="#1a8cf2" stroke-width="0.75"/><circle cx="444.55" cy="23.51" r="1.65" fill="#fff" stroke="#1a8cf2" stroke-width="0.75"/><circle cx="446.21" cy="23.58" r="1.65" fill="#fff" stroke="#1a8cf2" stroke-width="0.75"/><circle cx="447.88" cy="23.59" r="1.65" fill="#fff" stroke="#1a8cf2" stroke-width="0.75"/><circle cx="449.54" cy="23.46" r="1.65" fill="#fff" stroke="#1a8cf2" stroke-width="0.75"/><circle cx="451.21" cy="23.58" r="1.65" fill="#fff" stroke="#1a8cf2" stroke-width="0.75"/><circle cx="452.88" cy="23.45" r="1.65" fill="#fff" stroke="#1a8cf2" stroke-width="0.75"/><circle cx="454.54" cy="23.33" r="1.65" fill="#fff" stroke="#1a8cf2" stroke-width="0.75"/><circle cx="456.21" cy="23.52" r="1.65" fill="#fff" stroke="#1a8cf2" stroke-width="0.75"/><circle cx="457.87" cy="23.58" r="1.65" fill="#fff" stroke="#1a8cf2" stroke-width="0.75"/><circle cx="459.54" cy="23.29" r="1.65" fill="#fff" stroke="#1a8cf2" stroke-width="0.75"/><circle cx="461.21" cy="23.47" r="1.65" fill="#fff" stroke="#1a8cf2" stroke-width="0.75"/><circle cx="462.87" cy="23.63" r="1.65" fill="#fff" stroke="#1a8cf2" stroke-width="0.75"/><circle cx="464.54" cy="23.64" r="1.65" fill="#fff" stroke="#1a8cf2" stroke-width="0.75"/><circle cx="466.2" cy="23.62" r="1.65" fill="#fff" stroke="#1a8cf2" stroke-width="0.75"/><circle cx="467.87" cy="23.42" r="1.65" fill="#fff" stroke="#1a8cf2" stroke-width="0.75"/><circle cx="469.54" cy="23.35" r="1.65" fill="#fff" stroke="#1a8cf2" stroke-width="0.75"/><circle cx="471.2" cy="23.49" r="1.65" fill="#fff" stroke="#1a8cf2" stroke-width="0.75"/><circle cx="472.87" cy="23.62" r="1.65" fill="#fff" stroke="#1a8cf2" stroke-width="0.75"/><circle cx="474.53" cy="23.5" r="1.65" fill="#fff" stroke="#1a8cf2" stroke-width="0.75"/><circle cx="476.2" cy="23.27" r="1.65" fill="#fff" stroke="#1a8cf2" stroke-width="0.75"/><circle cx="477.87" cy="23.44" r="1.65" fill="#fff" stroke="#1a8cf2" stroke-width="0.75"/><circle cx="479.53" cy="23.27" r="1.65" fill="#fff" stroke="#1a8cf2" stroke-width="0.75"/><circle cx="481.2" cy="23.31" r="1.65" fill="#fff" stroke="#1a8cf2" stroke-width="0.75"/><circle cx="482.86" cy="23.63" r="1.65" fill="#fff" stroke="#1a8cf2" stroke-width="0.75"/><circle cx="484.53" cy="23.36" r="1.65" fill="#fff" stroke="#1a8cf2" stroke-width="0.75"/><circle cx="486.2" cy="23.37" r="1.65" fill="#fff" stroke="#1a8cf2" stroke-width="0.75"/><circle cx="487.86" cy="23.43" r="1.65" fill="#fff" stroke="#1a8cf2" stroke-width="0.75"/><circle cx="489.53" cy="23.53" r="1.65" fill="#fff" stroke="#1a8cf2" stroke-width="0.75"/><circle cx="491.19" cy="23.38" r="1.65" fill="#fff" stroke="#1a8cf2" stroke-width="0.75"/><circle cx="492.86" cy="23.58" r="1.65" fill="#fff" stroke="#1a8cf2" stroke-width="0.75"/><circle cx="494.53" cy="23.46" r="1.65" fill="#fff" stroke="#1a8cf2" stroke-width="0.75"/><circle cx="496.19" cy="23.45" r="1.65" fill="#fff" stroke="#1a8cf2" stroke-width="0.75"/><circle cx="497.86" cy="23.26" r="1.65" fill="#fff" stroke="#1a8cf2" stroke-width="0.75"/><circle cx="499.52" cy="23.29" r="1.65" fill="#fff" stroke="#1a8cf2" stroke-width="0.75"/><circle cx="501.19" cy="23.51" r="1.65" fill="#fff" stroke="#1a8cf2" stroke-width="0.75"/><circle cx="502.86" cy="23.42" r="1.65" fill="#fff" stroke="#1a8cf2" stroke-width="0.75"/><circle cx="504.52" cy="23.54" r="1.65" fill="#fff" stroke="#1a8cf2" stroke-width="0.75"/><circle cx="506.19" cy="23.26" r="1.65" fill="#fff" stroke="#1a8cf2" stroke-width="0.75"/><circle cx="507.85" cy="23.28" r="1.65" fill="#fff" stroke="#1a8cf2" stroke-width="0.75"/><circle cx="509.52" cy="23.49" r="1.65" fill="#fff" stroke="#1a8cf2" stroke-width="0.75"/><circle cx="511.19" cy="23.36" r="1.65" fill="#fff" stroke="#1a8cf2" stroke-width="0.75"/><circle cx="512.85" cy="23.37" r="1.65" fill="#fff" stroke="#1a8cf2" stroke-width="0.75"/><circle cx="514.52" cy="23.54" r="1.65" fill="#fff" stroke="#1a8cf2" stroke-width="0.75"/><circle cx="516.18" cy="23.31" r="1.65" fill="#fff" stroke="#1a8cf2" stroke-width="0.75"/><circle cx="517.85" cy="23.39" r="1.65" fill="#fff" stroke="#1a8cf2" stroke-width="0.75"/><circle cx="519.52" cy="23.3" r="1.65" fill="#fff" stroke="#1a8cf2" stroke-width="0.75"/><circle cx="521.18" cy="23.39" r="1.65" fill="#fff" stroke="#1a8cf2" stroke-width="0.75"/><circle cx="522.85" cy="23.59" r="1.65" fill="#fff" stroke="#1a8cf2" stroke-width="0.75"/><circle cx="524.51" cy="23.46" r="1.65" fill="#fff" stroke="#1a8cf2" stroke-width="0.75"/><circle cx="526.18" cy="23.58" r="1.65" fill="#fff" stroke="#1a8cf2" stroke-width="0.75"/><circle cx="527.85" cy="23.23" r="1.65" fill="#fff" stroke="#1a8cf2" stroke-width="0.75"/><circle cx="529.51" cy="23.25" r="1.65" fill="#fff" stroke="#1a8cf2" stroke-width="0.75"/><circle cx="531.18" cy="23.26" r="1.65" fill="#fff" stroke="#1a8cf2" stroke-width="0.75"/><circle cx="532.84" cy="23.46" r="1.65" fill="#fff" stroke="#1a8cf2" stroke-width="0.75"/><circle cx="534.51" cy="23.55" r="1.65" fill="#fff" stroke="#1a8cf2" stroke-width="0.75"/><circle cx="536.18" cy="23.24" r="1.65" fill="#fff" stroke="#1a8cf2" stroke-width="0.75"/><circle cx="537.84" cy="23.21" r="1.65" fill="#fff" stroke="#1a8cf2" stroke-width="0.75"/><circle cx="539.51" cy="23.54" r="1.65" fill="#fff" stroke="#1a8cf2" stroke-width="0.75"/><circle cx="541.17" cy="23.38" r="1.65" fill="#fff" stroke="#1a8cf2" stroke-width="0.75"/><circle cx="542.84" cy="23.54" r="1.65" fill="#fff" stroke="#1a8cf2" stroke-width="0.75"/><circle cx="544.51" cy="23.27" r="1.65" fill="#fff" stroke="#1a8cf2" stroke-width="0.75"/><circle cx="546.17" cy="23.27" r="1.65" fill="#fff" stroke="#1a8cf2" stroke-width="0.75"/><circle cx="547.84" cy="23.51" r="1.65" fill="#fff" stroke="#1a8cf2" stroke-width="0.75"/><circle cx="549.5" cy="23.38" r="1.65" fill="#fff" stroke="#1a8cf2" stroke-width="0.75"/><circle cx="551.17" cy="23.35" r="1.65" fill="#fff" stroke="#1a8cf2" stroke-width="0.75"/><circle cx="552.84" cy="23.45" r="1.65" fill="#fff" stroke="#1a8cf2" stroke-width="0.75"/><circle cx="554.5" cy="23.22" r="1.65" fill="#fff" stroke="#1a8cf2" stroke-width="0.75"/><circle cx="556.17" cy="23.39" r="1.65" fill="#fff" stroke="#1a8cf2" stroke-width="0.75"/><circle cx="557.83" cy="23.47" r="1.65" fill="#fff" stroke="#1a8cf2" stroke-width="0.75"/><circle cx="559.5" cy="23.34" r="1.65" fill="#fff" stroke="#1a8cf2" stroke-width="0.75"/><circle cx="561.17" cy="23.27" r="1.65" fill="#fff" stroke="#1a8cf2" stroke-width="0.75"/><circle cx="562.83" cy="23.46" r="1.65" fill="#fff" stroke="#1a8cf2" stroke-width="0.75"/><circle cx="564.5" cy="23.42" r="1.65" fill="#fff" stroke="#1a8cf2" stroke-width="0.75"/><circle cx="566.16" cy="23.16" r="1.65" fill="#fff" stroke="#1a8cf2" stroke-width="0.75"/><circle cx="567.83" cy="23.29" r="1.65" fill="#fff" stroke="#1a8cf2" stroke-width="0.75"/><circle cx="569.5" cy="23.37" r="1.65" fill="#fff" stroke="#1a8cf2" stroke-width="0.75"/><circle cx="571.16" cy="23.33" r="1.65" fill="#fff" stroke="#1a8cf2" stroke-width="0.75"/><circle cx="572.83" cy="23.48" r="1.65" fill="#fff" stroke="#1a8cf2" stroke-width="0.75"/><circle cx="574.49" cy="23.44" r="1.65" fill="#fff" stroke="#1a8cf2" stroke-width="0.75"/><circle cx="576.16" cy="23.4" r="1.65" fill="#fff" stroke="#1a8cf2" stroke-width="0.75"/><circle cx="577.83" cy="23.3" r="1.65" fill="#fff" stroke="#1a8cf2" stroke-width="0.75"/><circle cx="579.49" cy="23.43" r="1.65" fill="#fff" stroke="#1a8cf2" stroke-width="0.75"/><circle cx="581.16" cy="23.43" r="1.65" fill="#fff" stroke="#1a8cf2" stroke-width="0.75"/><circle cx="582.82" cy="23.49" r="1.65" fill="#fff" stroke="#1a8cf2" stroke-width="0.75"/><circle cx="584.49" cy="23.28" r="1.65" fill="#fff" stroke="#1a8cf2" stroke-width="0.75"/><circle cx="586.16" cy="23.43" r="1.65" fill="#fff" stroke="#1a8cf2" stroke-width="0.75"/><circle cx="587.82" cy="23.17" r="1.65" fill="#fff" stroke="#1a8cf2" stroke-width="0.75"/><circle cx="589.49" cy="23.18" r="1.65" fill="#fff" stroke="#1a8cf2" stroke-width="0.75"/><circle cx="591.15" cy="23.48" r="1.65" fill="#fff" stroke="#1a8cf2" stroke-width="0.75"/><circle cx="592.82" cy="23.41" r="1.65" fill="#fff" stroke="#1a8cf2" stroke-width="0.75"/><circle cx="594.49" cy="23.25" r="1.65" fill="#fff" stroke="#1a8cf2" stroke-width="0.75"/><circle cx="596.15" cy="23.42" r="1.65" fill="#fff" stroke="#1a8cf2" stroke-width="0.75"/><circle cx="597.82" cy="23.45" r="1.65" fill="#fff" stroke="#1a8cf2" stroke-width="0.75"/><circle cx="599.48" cy="23.14" r="1.65" fill="#fff" stroke="#1a8cf2" stroke-width="0.75"/><circle cx="601.15" cy="23.28" r="1.65" fill="#fff" stroke="#1a8cf2" stroke-width="0.75"/><circle cx="602.82" cy="23.31" r="1.65" fill="#fff" stroke="#1a8cf2" stroke-width="0.75"/><circle cx="604.48" cy="23.19" r="1.65" fill="#fff" stroke="#1a8cf2" stroke-width="0.75"/><circle cx="606.15" cy="23.18" r="1.65" fill="#fff" stroke="#1a8cf2" stroke-width="0.75"/><circle cx="607.81" cy="23.41" r="1.65" fill="#fff" stroke="#1a8cf2" stroke-width="0.75"/><circle cx="609.48" cy="23.45" r="1.65" fill="#fff" stroke="#1a8cf2" stroke-width="0.75"/><circle cx="611.15" cy="23.32" r="1.65" fill="#fff" stroke="#1a8cf2" stroke-width="0.75"/><circle cx="612.81" cy="23.32" r="1.65" fill="#fff" stroke="#1a8cf2" stroke-width="0.75"/><circle cx="614.48" cy="23.3" r="1.65" fill="#fff" stroke="#1a8cf2" stroke-width="0.75"/><circle cx="616.14" cy="23.2" r="1.65" fill="#fff" stroke="#1a8cf2" stroke-width="0.75"/><circle cx="617.81" cy="23.22" r="1.65" fill="#fff" stroke="#1a8cf2" stroke-width="0.75"/><circle cx="619.48" cy="23.1" r="1.65" fill="#fff" stroke="#1a8cf2" stroke-width="0.75"/><circle cx="621.14" cy="23.43" r="1.65" fill="#fff" stroke="#1a8cf2" stroke-width="0.75"/><circle cx="622.81" cy="23.32" r="1.65" fill="#fff" stroke="#1a8cf2" stroke-width="0.75"/><circle cx="624.47" cy="23.34" r="1.65" fill="#fff" stroke="#1a8cf2" stroke-width="0.75"/><circle cx="626.14" cy="23.14" r="1.65" fill="#fff" stroke="#1a8cf2" stroke-width="0.75"/><circle cx="627.81" cy="23.37" r="1.65" fill="#fff" stroke="#1a8cf2" stroke-width="0.75"/><circle cx="629.47" cy="23.39" r="1.65" fill="#fff" stroke="#1a8cf2" stroke-width="0.75"/><circle cx="631.14" cy="23.29" r="1.65" fill="#fff" stroke="#1a8cf2" stroke-width="0.75"/><circle cx="632.8" cy="23.3" r="1.65" fill="#fff" stroke="#1a8cf2" stroke-width="0.75"/><circle cx="634.47" cy="23.35" r="1.65" fill="#fff" stroke="#1a8cf2" stroke-width="0.75"/><circle cx="636.14" cy="23.36" r="1.65" fill="#fff" stroke="#1a8cf2" stroke-width="0.75"/><circle cx="637.8" cy="23.1" r="1.65" fill="#fff" stroke="#1a8cf2" stroke-width="0.75"/><circle cx="639.47" cy="23.28" r="1.65" fill="#fff" stroke="#1a8cf2" stroke-width="0.75"/><circle cx="641.13" cy="23.12" r="1.65" fill="#fff" stroke="#1a8cf2" stroke-width="0.75"/><circle cx="642.8" cy="23.24" r="1.65" fill="#fff" stroke="#1a8cf2" stroke-width="0.75"/><circle cx="644.47" cy="23.42" r="1.65" fill="#fff" stroke="#1a8cf2" stroke-width="0.75"/><circle cx="646.13" cy="23.06" r="1.65" fill="#fff" stroke="#1a8cf2" stroke-width="0.75"/><circle cx="647.8" cy="23.12" r="1.65" fill="#fff" stroke="#1a8cf2" stroke-width="0.75"/><circle cx="649.46" cy="23.07" r="1.65" fill="#fff" stroke="#1a8cf2" stroke-width="0.75"/><circle cx="651.13" cy="23.08" r="1.65" fill="#fff" stroke="#1a8cf2" stroke-width="0.75"/><circle cx="311.27" cy="45.55" r="1.65" fill="#fff" stroke="#f0693c" stroke-width="0.75"/><circle cx="312.93" cy="24.76" r="1.65" fill="#fff" stroke="#f0693c" stroke-width="0.75"/><circle cx="314.6" cy="30.8" r="1.65" fill="#fff" stroke="#f0693c" stroke-width="0.75"/><circle cx="316.26" cy="23.75" r="1.65" fill="#fff" stroke="#f0693c" stroke-width="0.75"/><circle cx="317.93" cy="24" r="1.65" fill="#fff" stroke="#f0693c" stroke-width="0.75"/><circle cx="319.6" cy="18.96" r="1.65" fill="#fff" stroke="#f0693c" stroke-width="0.75"/><circle cx="321.26" cy="23.12" r="1.65" fill="#fff" stroke="#f0693c" stroke-width="0.75"/><circle cx="322.93" cy="24" r="1.65" fill="#fff" stroke="#f0693c" stroke-width="0.75"/><circle cx="324.59" cy="24.13" r="1.65" fill="#fff" stroke="#f0693c" stroke-width="0.75"/><circle cx="326.26" cy="15.94" r="1.65" fill="#fff" stroke="#f0693c" stroke-width="0.75"/><circle cx="327.93" cy="21.86" r="1.65" fill="#fff" stroke="#f0693c" stroke-width="0.75"/><circle cx="329.59" cy="23.75" r="1.65" fill="#fff" stroke="#f0693c" stroke-width="0.75"/><circle cx="331.26" cy="24" r="1.65" fill="#fff" stroke="#f0693c" stroke-width="0.75"/><circle cx="332.92" cy="24.13" r="1.65" fill="#fff" stroke="#f0693c" stroke-width="0.75"/><circle cx="334.59" cy="21.86" r="1.65" fill="#fff" stroke="#f0693c" stroke-width="0.75"/><circle cx="336.26" cy="24" r="1.65" fill="#fff" stroke="#f0693c" stroke-width="0.75"/><circle cx="337.92" cy="23.87" r="1.65" fill="#fff" stroke="#f0693c" stroke-width="0.75"/><circle cx="339.59" cy="24.13" r="1.65" fill="#fff" stroke="#f0693c" stroke-width="0.75"/><circle cx="341.25" cy="13.67" r="1.65" fill="#fff" stroke="#f0693c" stroke-width="0.75"/><circle cx="342.92" cy="22.11" r="1.65" fill="#fff" stroke="#f0693c" stroke-width="0.75"/><circle cx="344.59" cy="24.04" r="1.65" fill="#fff" stroke="#f0693c" stroke-width="0.75"/><circle cx="346.25" cy="24.21" r="1.65" fill="#fff" stroke="#f0693c" stroke-width="0.75"/><circle cx="347.92" cy="24.13" r="1.65" fill="#fff" stroke="#f0693c" stroke-width="0.75"/><circle cx="349.58" cy="24.2" r="1.65" fill="#fff" stroke="#f0693c" stroke-width="0.75"/><circle cx="351.25" cy="24.15" r="1.65" fill="#fff" stroke="#f0693c" stroke-width="0.75"/><circle cx="352.92" cy="24.24" r="1.65" fill="#fff" stroke="#f0693c" stroke-width="0.75"/><circle cx="354.58" cy="24.16" r="1.65" fill="#fff" stroke="#f0693c" stroke-width="0.75"/><circle cx="356.25" cy="24.01" r="1.65" fill="#fff" stroke="#f0693c" stroke-width="0.75"/><circle cx="357.91" cy="24.19" r="1.65" fill="#fff" stroke="#f0693c" stroke-width="0.75"/><circle cx="359.58" cy="24.06" r="1.65" fill="#fff" stroke="#f0693c" stroke-width="0.75"/><circle cx="361.25" cy="24.14" r="1.65" fill="#fff" stroke="#f0693c" stroke-width="0.75"/><circle cx="362.91" cy="24.15" r="1.65" fill="#fff" stroke="#f0693c" stroke-width="0.75"/><circle cx="364.58" cy="24.02" r="1.65" fill="#fff" stroke="#f0693c" stroke-width="0.75"/><circle cx="366.24" cy="24.01" r="1.65" fill="#fff" stroke="#f0693c" stroke-width="0.75"/><circle cx="367.91" cy="24.12" r="1.65" fill="#fff" stroke="#f0693c" stroke-width="0.75"/><circle cx="369.58" cy="24.08" r="1.65" fill="#fff" stroke="#f0693c" stroke-width="0.75"/><circle cx="371.24" cy="24.22" r="1.65" fill="#fff" stroke="#f0693c" stroke-width="0.75"/><circle cx="372.91" cy="24.19" r="1.65" fill="#fff" stroke="#f0693c" stroke-width="0.75"/><circle cx="374.57" cy="24.02" r="1.65" fill="#fff" stroke="#f0693c" stroke-width="0.75"/><circle cx="376.24" cy="24.12" r="1.65" fill="#fff" stroke="#f0693c" stroke-width="0.75"/><circle cx="377.91" cy="24.13" r="1.65" fill="#fff" stroke="#f0693c" stroke-width="0.75"/><circle cx="379.57" cy="24.08" r="1.65" fill="#fff" stroke="#f0693c" stroke-width="0.75"/><circle cx="381.24" cy="24.25" r="1.65" fill="#fff" stroke="#f0693c" stroke-width="0.75"/><circle cx="382.9" cy="24.12" r="1.65" fill="#fff" stroke="#f0693c" stroke-width="0.75"/><circle cx="384.57" cy="24.14" r="1.65" fill="#fff" stroke="#f0693c" stroke-width="0.75"/><circle cx="386.24" cy="24.05" r="1.65" fill="#fff" stroke="#f0693c" stroke-width="0.75"/><circle cx="387.9" cy="24.23" r="1.65" fill="#fff" stroke="#f0693c" stroke-width="0.75"/><circle cx="389.57" cy="24.03" r="1.65" fill="#fff" stroke="#f0693c" stroke-width="0.75"/><circle cx="391.23" cy="24.25" r="1.65" fill="#fff" stroke="#f0693c" stroke-width="0.75"/><circle cx="392.9" cy="24.23" r="1.65" fill="#fff" stroke="#f0693c" stroke-width="0.75"/><circle cx="394.57" cy="24.12" r="1.65" fill="#fff" stroke="#f0693c" stroke-width="0.75"/><circle cx="396.23" cy="24.1" r="1.65" fill="#fff" stroke="#f0693c" stroke-width="0.75"/><circle cx="397.9" cy="24.21" r="1.65" fill="#fff" stroke="#f0693c" stroke-width="0.75"/><circle cx="399.56" cy="24.24" r="1.65" fill="#fff" stroke="#f0693c" stroke-width="0.75"/><circle cx="401.23" cy="24.05" r="1.65" fill="#fff" stroke="#f0693c" stroke-width="0.75"/><circle cx="402.9" cy="24.21" r="1.65" fill="#fff" stroke="#f0693c" stroke-width="0.75"/><circle cx="404.56" cy="24.13" r="1.65" fill="#fff" stroke="#f0693c" stroke-width="0.75"/><circle cx="406.23" cy="24.12" r="1.65" fill="#fff" stroke="#f0693c" stroke-width="0.75"/><circle cx="407.89" cy="24.17" r="1.65" fill="#fff" stroke="#f0693c" stroke-width="0.75"/><circle cx="409.56" cy="24.13" r="1.65" fill="#fff" stroke="#f0693c" stroke-width="0.75"/><circle cx="411.23" cy="24.15" r="1.65" fill="#fff" stroke="#f0693c" stroke-width="0.75"/><circle cx="412.89" cy="24.04" r="1.65" fill="#fff" stroke="#f0693c" stroke-width="0.75"/><circle cx="414.56" cy="24.23" r="1.65" fill="#fff" stroke="#f0693c" stroke-width="0.75"/><circle cx="416.22" cy="24.1" r="1.65" fill="#fff" stroke="#f0693c" stroke-width="0.75"/><circle cx="417.89" cy="24.22" r="1.65" fill="#fff" stroke="#f0693c" stroke-width="0.75"/><circle cx="419.56" cy="24.18" r="1.65" fill="#fff" stroke="#f0693c" stroke-width="0.75"/><circle cx="421.22" cy="24.11" r="1.65" fill="#fff" stroke="#f0693c" stroke-width="0.75"/><circle cx="422.89" cy="24.21" r="1.65" fill="#fff" stroke="#f0693c" stroke-width="0.75"/><circle cx="424.55" cy="24.21" r="1.65" fill="#fff" stroke="#f0693c" stroke-width="0.75"/><circle cx="426.22" cy="24.1" r="1.65" fill="#fff" stroke="#f0693c" stroke-width="0.75"/><circle cx="427.89" cy="24.27" r="1.65" fill="#fff" stroke="#f0693c" stroke-width="0.75"/><circle cx="429.55" cy="24.17" r="1.65" fill="#fff" stroke="#f0693c" stroke-width="0.75"/><circle cx="431.22" cy="24.04" r="1.65" fill="#fff" stroke="#f0693c" stroke-width="0.75"/><circle cx="432.88" cy="24.04" r="1.65" fill="#fff" stroke="#f0693c" stroke-width="0.75"/><circle cx="434.55" cy="24.27" r="1.65" fill="#fff" stroke="#f0693c" stroke-width="0.75"/><circle cx="436.22" cy="24.24" r="1.65" fill="#fff" stroke="#f0693c" stroke-width="0.75"/><circle cx="437.88" cy="24.22" r="1.65" fill="#fff" stroke="#f0693c" stroke-width="0.75"/><circle cx="439.55" cy="24.06" r="1.65" fill="#fff" stroke="#f0693c" stroke-width="0.75"/><circle cx="441.21" cy="24.07" r="1.65" fill="#fff" stroke="#f0693c" stroke-width="0.75"/><circle cx="442.88" cy="24.07" r="1.65" fill="#fff" stroke="#f0693c" stroke-width="0.75"/><circle cx="444.55" cy="24.2" r="1.65" fill="#fff" stroke="#f0693c" stroke-width="0.75"/><circle cx="446.21" cy="24.25" r="1.65" fill="#fff" stroke="#f0693c" stroke-width="0.75"/><circle cx="447.88" cy="24.08" r="1.65" fill="#fff" stroke="#f0693c" stroke-width="0.75"/><circle cx="449.54" cy="24.12" r="1.65" fill="#fff" stroke="#f0693c" stroke-width="0.75"/><circle cx="451.21" cy="24.14" r="1.65" fill="#fff" stroke="#f0693c" stroke-width="0.75"/><circle cx="452.88" cy="24.05" r="1.65" fill="#fff" stroke="#f0693c" stroke-width="0.75"/><circle cx="454.54" cy="24.13" r="1.65" fill="#fff" stroke="#f0693c" stroke-width="0.75"/><circle cx="456.21" cy="24.3" r="1.65" fill="#fff" stroke="#f0693c" stroke-width="0.75"/><circle cx="457.87" cy="24.09" r="1.65" fill="#fff" stroke="#f0693c" stroke-width="0.75"/><circle cx="459.54" cy="24.22" r="1.65" fill="#fff" stroke="#f0693c" stroke-width="0.75"/><circle cx="461.21" cy="24.13" r="1.65" fill="#fff" stroke="#f0693c" stroke-width="0.75"/><circle cx="462.87" cy="24.06" r="1.65" fill="#fff" stroke="#f0693c" stroke-width="0.75"/><circle cx="464.54" cy="24.27" r="1.65" fill="#fff" stroke="#f0693c" stroke-width="0.75"/><circle cx="466.2" cy="24.27" r="1.65" fill="#fff" stroke="#f0693c" stroke-width="0.75"/><circle cx="467.87" cy="24.28" r="1.65" fill="#fff" stroke="#f0693c" stroke-width="0.75"/><circle cx="469.54" cy="24.16" r="1.65" fill="#fff" stroke="#f0693c" stroke-width="0.75"/><circle cx="471.2" cy="24.24" r="1.65" fill="#fff" stroke="#f0693c" stroke-width="0.75"/><circle cx="472.87" cy="24.15" r="1.65" fill="#fff" stroke="#f0693c" stroke-width="0.75"/><circle cx="474.53" cy="24.12" r="1.65" fill="#fff" stroke="#f0693c" stroke-width="0.75"/><circle cx="476.2" cy="24.25" r="1.65" fill="#fff" stroke="#f0693c" stroke-width="0.75"/><circle cx="477.87" cy="24.15" r="1.65" fill="#fff" stroke="#f0693c" stroke-width="0.75"/><circle cx="479.53" cy="24.24" r="1.65" fill="#fff" stroke="#f0693c" stroke-width="0.75"/><circle cx="481.2" cy="24.19" r="1.65" fill="#fff" stroke="#f0693c" stroke-width="0.75"/><circle cx="482.86" cy="24.08" r="1.65" fill="#fff" stroke="#f0693c" stroke-width="0.75"/><circle cx="484.53" cy="24.1" r="1.65" fill="#fff" stroke="#f0693c" stroke-width="0.75"/><circle cx="486.2" cy="24.29" r="1.65" fill="#fff" stroke="#f0693c" stroke-width="0.75"/><circle cx="487.86" cy="24.2" r="1.65" fill="#fff" stroke="#f0693c" stroke-width="0.75"/><circle cx="489.53" cy="24.24" r="1.65" fill="#fff" stroke="#f0693c" stroke-width="0.75"/><circle cx="491.19" cy="24.31" r="1.65" fill="#fff" stroke="#f0693c" stroke-width="0.75"/><circle cx="492.86" cy="24.12" r="1.65" fill="#fff" stroke="#f0693c" stroke-width="0.75"/><circle cx="494.53" cy="24.15" r="1.65" fill="#fff" stroke="#f0693c" stroke-width="0.75"/><circle cx="496.19" cy="24.25" r="1.65" fill="#fff" stroke="#f0693c" stroke-width="0.75"/><circle cx="497.86" cy="24.13" r="1.65" fill="#fff" stroke="#f0693c" stroke-width="0.75"/><circle cx="499.52" cy="24.18" r="1.65" fill="#fff" stroke="#f0693c" stroke-width="0.75"/><circle cx="501.19" cy="24.21" r="1.65" fill="#fff" stroke="#f0693c" stroke-width="0.75"/><circle cx="502.86" cy="24.31" r="1.65" fill="#fff" stroke="#f0693c" stroke-width="0.75"/><circle cx="504.52" cy="24.3" r="1.65" fill="#fff" stroke="#f0693c" stroke-width="0.75"/><circle cx="506.19" cy="24.1" r="1.65" fill="#fff" stroke="#f0693c" stroke-width="0.75"/><circle cx="507.85" cy="24.09" r="1.65" fill="#fff" stroke="#f0693c" stroke-width="0.75"/><circle cx="509.52" cy="24.18" r="1.65" fill="#fff" stroke="#f0693c" stroke-width="0.75"/><circle cx="511.19" cy="24.11" r="1.65" fill="#fff" stroke="#f0693c" stroke-width="0.75"/><circle cx="512.85" cy="24.17" r="1.65" fill="#fff" stroke="#f0693c" stroke-width="0.75"/><circle cx="514.52" cy="24.28" r="1.65" fill="#fff" stroke="#f0693c" stroke-width="0.75"/><circle cx="516.18" cy="24.29" r="1.65" fill="#fff" stroke="#f0693c" stroke-width="0.75"/><circle cx="517.85" cy="24.25" r="1.65" fill="#fff" stroke="#f0693c" stroke-width="0.75"/><circle cx="519.52" cy="24.1" r="1.65" fill="#fff" stroke="#f0693c" stroke-width="0.75"/><circle cx="521.18" cy="24.12" r="1.65" fill="#fff" stroke="#f0693c" stroke-width="0.75"/><circle cx="522.85" cy="24.11" r="1.65" fill="#fff" stroke="#f0693c" stroke-width="0.75"/><circle cx="524.51" cy="24.1" r="1.65" fill="#fff" stroke="#f0693c" stroke-width="0.75"/><circle cx="526.18" cy="24.27" r="1.65" fill="#fff" stroke="#f0693c" stroke-width="0.75"/><circle cx="527.85" cy="24.26" r="1.65" fill="#fff" stroke="#f0693c" stroke-width="0.75"/><circle cx="529.51" cy="24.3" r="1.65" fill="#fff" stroke="#f0693c" stroke-width="0.75"/><circle cx="531.18" cy="24.13" r="1.65" fill="#fff" stroke="#f0693c" stroke-width="0.75"/><circle cx="532.84" cy="24.11" r="1.65" fill="#fff" stroke="#f0693c" stroke-width="0.75"/><circle cx="534.51" cy="24.23" r="1.65" fill="#fff" stroke="#f0693c" stroke-width="0.75"/><circle cx="536.18" cy="24.17" r="1.65" fill="#fff" stroke="#f0693c" stroke-width="0.75"/><circle cx="537.84" cy="24.29" r="1.65" fill="#fff" stroke="#f0693c" stroke-width="0.75"/><circle cx="539.51" cy="24.1" r="1.65" fill="#fff" stroke="#f0693c" stroke-width="0.75"/><circle cx="541.17" cy="24.11" r="1.65" fill="#fff" stroke="#f0693c" stroke-width="0.75"/><circle cx="542.84" cy="24.09" r="1.65" fill="#fff" stroke="#f0693c" stroke-width="0.75"/><circle cx="544.51" cy="24.13" r="1.65" fill="#fff" stroke="#f0693c" stroke-width="0.75"/><circle cx="546.17" cy="24.11" r="1.65" fill="#fff" stroke="#f0693c" stroke-width="0.75"/><circle cx="547.84" cy="24.33" r="1.65" fill="#fff" stroke="#f0693c" stroke-width="0.75"/><circle cx="549.5" cy="24.15" r="1.65" fill="#fff" stroke="#f0693c" stroke-width="0.75"/><circle cx="551.17" cy="24.25" r="1.65" fill="#fff" stroke="#f0693c" stroke-width="0.75"/><circle cx="552.84" cy="24.1" r="1.65" fill="#fff" stroke="#f0693c" stroke-width="0.75"/><circle cx="554.5" cy="24.14" r="1.65" fill="#fff" stroke="#f0693c" stroke-width="0.75"/><circle cx="556.17" cy="24.12" r="1.65" fill="#fff" stroke="#f0693c" stroke-width="0.75"/><circle cx="557.83" cy="24.14" r="1.65" fill="#fff" stroke="#f0693c" stroke-width="0.75"/><circle cx="559.5" cy="24.27" r="1.65" fill="#fff" stroke="#f0693c" stroke-width="0.75"/><circle cx="561.17" cy="24.14" r="1.65" fill="#fff" stroke="#f0693c" stroke-width="0.75"/><circle cx="562.83" cy="24.31" r="1.65" fill="#fff" stroke="#f0693c" stroke-width="0.75"/><circle cx="564.5" cy="24.12" r="1.65" fill="#fff" stroke="#f0693c" stroke-width="0.75"/><circle cx="566.16" cy="24.13" r="1.65" fill="#fff" stroke="#f0693c" stroke-width="0.75"/><circle cx="567.83" cy="24.29" r="1.65" fill="#fff" stroke="#f0693c" stroke-width="0.75"/><circle cx="569.5" cy="24.14" r="1.65" fill="#fff" stroke="#f0693c" stroke-width="0.75"/><circle cx="571.16" cy="24.23" r="1.65" fill="#fff" stroke="#f0693c" stroke-width="0.75"/><circle cx="572.83" cy="24.27" r="1.65" fill="#fff" stroke="#f0693c" stroke-width="0.75"/><circle cx="574.49" cy="24.15" r="1.65" fill="#fff" stroke="#f0693c" stroke-width="0.75"/><circle cx="576.16" cy="24.29" r="1.65" fill="#fff" stroke="#f0693c" stroke-width="0.75"/><circle cx="577.83" cy="24.34" r="1.65" fill="#fff" stroke="#f0693c" stroke-width="0.75"/><circle cx="579.49" cy="24.3" r="1.65" fill="#fff" stroke="#f0693c" stroke-width="0.75"/><circle cx="581.16" cy="24.27" r="1.65" fill="#fff" stroke="#f0693c" stroke-width="0.75"/><circle cx="582.82" cy="24.13" r="1.65" fill="#fff" stroke="#f0693c" stroke-width="0.75"/><circle cx="584.49" cy="24.11" r="1.65" fill="#fff" stroke="#f0693c" stroke-width="0.75"/><circle cx="586.16" cy="24.28" r="1.65" fill="#fff" stroke="#f0693c" stroke-width="0.75"/><circle cx="587.82" cy="24.19" r="1.65" fill="#fff" stroke="#f0693c" stroke-width="0.75"/><circle cx="589.49" cy="24.25" r="1.65" fill="#fff" stroke="#f0693c" stroke-width="0.75"/><circle cx="591.15" cy="24.11" r="1.65" fill="#fff" stroke="#f0693c" stroke-width="0.75"/><circle cx="592.82" cy="24.22" r="1.65" fill="#fff" stroke="#f0693c" stroke-width="0.75"/><circle cx="594.49" cy="24.12" r="1.65" fill="#fff" stroke="#f0693c" stroke-width="0.75"/><circle cx="596.15" cy="24.33" r="1.65" fill="#fff" stroke="#f0693c" stroke-width="0.75"/><circle cx="597.82" cy="24.11" r="1.65" fill="#fff" stroke="#f0693c" stroke-width="0.75"/><circle cx="599.48" cy="24.31" r="1.65" fill="#fff" stroke="#f0693c" stroke-width="0.75"/><circle cx="601.15" cy="24.11" r="1.65" fill="#fff" stroke="#f0693c" stroke-width="0.75"/><circle cx="602.82" cy="24.29" r="1.65" fill="#fff" stroke="#f0693c" stroke-width="0.75"/><circle cx="604.48" cy="24.33" r="1.65" fill="#fff" stroke="#f0693c" stroke-width="0.75"/><circle cx="606.15" cy="24.25" r="1.65" fill="#fff" stroke="#f0693c" stroke-width="0.75"/><circle cx="607.81" cy="24.18" r="1.65" fill="#fff" stroke="#f0693c" stroke-width="0.75"/><circle cx="609.48" cy="24.28" r="1.65" fill="#fff" stroke="#f0693c" stroke-width="0.75"/><circle cx="611.15" cy="24.21" r="1.65" fill="#fff" stroke="#f0693c" stroke-width="0.75"/><circle cx="612.81" cy="24.23" r="1.65" fill="#fff" stroke="#f0693c" stroke-width="0.75"/><circle cx="614.48" cy="24.27" r="1.65" fill="#fff" stroke="#f0693c" stroke-width="0.75"/><circle cx="616.14" cy="24.22" r="1.65" fill="#fff" stroke="#f0693c" stroke-width="0.75"/><circle cx="617.81" cy="24.3" r="1.65" fill="#fff" stroke="#f0693c" stroke-width="0.75"/><circle cx="619.48" cy="24.19" r="1.65" fill="#fff" stroke="#f0693c" stroke-width="0.75"/><circle cx="621.14" cy="24.37" r="1.65" fill="#fff" stroke="#f0693c" stroke-width="0.75"/><circle cx="622.81" cy="24.13" r="1.65" fill="#fff" stroke="#f0693c" stroke-width="0.75"/><circle cx="624.47" cy="24.23" r="1.65" fill="#fff" stroke="#f0693c" stroke-width="0.75"/><circle cx="626.14" cy="24.19" r="1.65" fill="#fff" stroke="#f0693c" stroke-width="0.75"/><circle cx="627.81" cy="24.18" r="1.65" fill="#fff" stroke="#f0693c" stroke-width="0.75"/><circle cx="629.47" cy="24.2" r="1.65" fill="#fff" stroke="#f0693c" stroke-width="0.75"/><circle cx="631.14" cy="24.28" r="1.65" fill="#fff" stroke="#f0693c" stroke-width="0.75"/><circle cx="632.8" cy="24.35" r="1.65" fill="#fff" stroke="#f0693c" stroke-width="0.75"/><circle cx="634.47" cy="24.2" r="1.65" fill="#fff" stroke="#f0693c" stroke-width="0.75"/><circle cx="636.14" cy="24.29" r="1.65" fill="#fff" stroke="#f0693c" stroke-width="0.75"/><circle cx="637.8" cy="24.29" r="1.65" fill="#fff" stroke="#f0693c" stroke-width="0.75"/><circle cx="639.47" cy="24.16" r="1.65" fill="#fff" stroke="#f0693c" stroke-width="0.75"/><circle cx="641.13" cy="24.19" r="1.65" fill="#fff" stroke="#f0693c" stroke-width="0.75"/><circle cx="642.8" cy="24.3" r="1.65" fill="#fff" stroke="#f0693c" stroke-width="0.75"/><circle cx="644.47" cy="24.3" r="1.65" fill="#fff" stroke="#f0693c" stroke-width="0.75"/><circle cx="646.13" cy="24.27" r="1.65" fill="#fff" stroke="#f0693c" stroke-width="0.75"/><circle cx="647.8" cy="24.28" r="1.65" fill="#fff" stroke="#f0693c" stroke-width="0.75"/><circle cx="649.46" cy="24.3" r="1.65" fill="#fff" stroke="#f0693c" stroke-width="0.75"/><circle cx="651.13" cy="24.35" r="1.65" fill="#fff" stroke="#f0693c" stroke-width="0.75"/><circle cx="596.15" cy="21.61" r="1.65" fill="#fff" stroke="#f0693c" stroke-width="0.75"/><circle cx="602.82" cy="17.95" r="1.65" fill="#fff" stroke="#f0693c" stroke-width="0.75"/></g>
<path d="M621.4,25.6 V42.4 H648.6" fill="none" stroke="#3b4863" stroke-width="0.85" stroke-dasharray="2.2,1.5"/>
<path d="M651.3,42.4 l-3.2,-1.6 v3.2z" fill="#3b4863"/>
<text x="458.8" y="75.2" letter-spacing="0.2" stroke="#1e1e1e" stroke-width="0.1" font-size="8.4">0.3 C</text>
<text x="450.5" y="96.2" letter-spacing="0.2" stroke="#1e1e1e" stroke-width="0.1" font-size="8.4">D50 = 6.12 µm</text>
<circle cx="556" cy="111" r="2" fill="#f0693c"/>
<circle cx="556" cy="124.6" r="2" fill="#1a8cf2"/>
<text x="563.2" y="114" stroke="#1e1e1e" stroke-width="0.1" font-size="8.3">3 M LiPF<tspan font-size="5.6" dy="2">6</tspan><tspan dy="-2"> DX/DEE</tspan></text>
<text x="563.2" y="127.6" stroke="#1e1e1e" stroke-width="0.1" font-size="8.3">1 M LiPF<tspan font-size="5.6" dy="2">6</tspan><tspan dy="-2"> EC/DMC</tspan></text>
<text x="262.4" y="201.7" font-weight="bold" fill="#000" font-size="13.3" stroke="#000" stroke-width="0.35">d</text>
<line x1="309.6" y1="204.5" x2="651.6" y2="204.5" stroke="#8a8a8a" stroke-width="0.9"/>
<line x1="651.5" y1="204.2" x2="651.5" y2="336.5" stroke="#5a5a5a" stroke-width="0.8"/>
<line x1="309.6" y1="204.2" x2="309.6" y2="336.9" stroke="#c4c4c4" stroke-width="1.6"/>
<line x1="309.6" y1="336.5" x2="651.6" y2="336.5" stroke="#5a5a5a" stroke-width="0.9"/>
<line x1="306.2" y1="336.5" x2="309.6" y2="336.5" stroke="#5a5a5a" stroke-width="0.8"/>
<text x="302.2" y="338.8" letter-spacing="0.25" text-anchor="end" stroke="#1e1e1e" stroke-width="0.1">0</text>
<line x1="307.8" y1="323.5" x2="309.6" y2="323.5" stroke="#5a5a5a" stroke-width="0.7"/>
<line x1="306.2" y1="309.5" x2="309.6" y2="309.5" stroke="#5a5a5a" stroke-width="0.8"/>
<text x="302.2" y="312.33" letter-spacing="0.25" text-anchor="end" stroke="#1e1e1e" stroke-width="0.1">1,000</text>
<line x1="307.8" y1="296.5" x2="309.6" y2="296.5" stroke="#5a5a5a" stroke-width="0.7"/>
<line x1="306.2" y1="283.5" x2="309.6" y2="283.5" stroke="#5a5a5a" stroke-width="0.8"/>
<text x="302.2" y="285.86" letter-spacing="0.25" text-anchor="end" stroke="#1e1e1e" stroke-width="0.1">2,000</text>
<line x1="307.8" y1="270.5" x2="309.6" y2="270.5" stroke="#5a5a5a" stroke-width="0.7"/>
<line x1="306.2" y1="256.5" x2="309.6" y2="256.5" stroke="#5a5a5a" stroke-width="0.8"/>
<text x="302.2" y="259.39" letter-spacing="0.25" text-anchor="end" stroke="#1e1e1e" stroke-width="0.1">3,000</text>
<line x1="307.8" y1="243.5" x2="309.6" y2="243.5" stroke="#5a5a5a" stroke-width="0.7"/>
<line x1="306.2" y1="230.5" x2="309.6" y2="230.5" stroke="#5a5a5a" stroke-width="0.8"/>
<text x="302.2" y="232.92" letter-spacing="0.25" text-anchor="end" stroke="#1e1e1e" stroke-width="0.1">4,000</text>
<line x1="307.8" y1="217.5" x2="309.6" y2="217.5" stroke="#5a5a5a" stroke-width="0.7"/>
<line x1="306.2" y1="203.5" x2="309.6" y2="203.5" stroke="#5a5a5a" stroke-width="0.8"/>
<text x="302.2" y="206.45" letter-spacing="0.25" text-anchor="end" stroke="#1e1e1e" stroke-width="0.1">5,000</text>
<line x1="651.6" y1="336.5" x2="654.4" y2="336.5" stroke="#5a5a5a" stroke-width="0.8"/>
<text x="659" y="338.1" letter-spacing="0.25" stroke="#1e1e1e" stroke-width="0.1">0</text>
<line x1="651.6" y1="323.5" x2="653.2" y2="323.5" stroke="#5a5a5a" stroke-width="0.7"/>
<line x1="651.6" y1="311.5" x2="654.4" y2="311.5" stroke="#5a5a5a" stroke-width="0.8"/>
<text x="659" y="313.6" letter-spacing="0.25" stroke="#1e1e1e" stroke-width="0.1">20</text>
<line x1="651.6" y1="299.5" x2="653.2" y2="299.5" stroke="#5a5a5a" stroke-width="0.7"/>
<line x1="651.6" y1="287.5" x2="654.4" y2="287.5" stroke="#5a5a5a" stroke-width="0.8"/>
<text x="659" y="289.1" letter-spacing="0.25" stroke="#1e1e1e" stroke-width="0.1">40</text>
<line x1="651.6" y1="274.5" x2="653.2" y2="274.5" stroke="#5a5a5a" stroke-width="0.7"/>
<line x1="651.6" y1="262.5" x2="654.4" y2="262.5" stroke="#5a5a5a" stroke-width="0.8"/>
<text x="659" y="264.6" letter-spacing="0.25" stroke="#1e1e1e" stroke-width="0.1">60</text>
<line x1="651.6" y1="250.5" x2="653.2" y2="250.5" stroke="#5a5a5a" stroke-width="0.7"/>
<line x1="651.6" y1="238.5" x2="654.4" y2="238.5" stroke="#5a5a5a" stroke-width="0.8"/>
<text x="659" y="240.1" letter-spacing="0.25" stroke="#1e1e1e" stroke-width="0.1">80</text>
<line x1="651.6" y1="225.5" x2="653.2" y2="225.5" stroke="#5a5a5a" stroke-width="0.7"/>
<line x1="651.6" y1="213.5" x2="654.4" y2="213.5" stroke="#5a5a5a" stroke-width="0.8"/>
<text x="659" y="215.6" letter-spacing="0.25" stroke="#1e1e1e" stroke-width="0.1">100</text>
<line x1="309.5" y1="336.5" x2="309.5" y2="339.1" stroke="#5a5a5a" stroke-width="0.8"/>
<text x="309.6" y="348.8" letter-spacing="0.25" text-anchor="middle" stroke="#1e1e1e" stroke-width="0.1">0</text>
<line x1="351.5" y1="336.5" x2="351.5" y2="338" stroke="#5a5a5a" stroke-width="0.7"/>
<line x1="392.5" y1="336.5" x2="392.5" y2="339.1" stroke="#5a5a5a" stroke-width="0.8"/>
<text x="392.9" y="348.8" letter-spacing="0.25" text-anchor="middle" stroke="#1e1e1e" stroke-width="0.1">50</text>
<line x1="434.5" y1="336.5" x2="434.5" y2="338" stroke="#5a5a5a" stroke-width="0.7"/>
<line x1="476.5" y1="336.5" x2="476.5" y2="339.1" stroke="#5a5a5a" stroke-width="0.8"/>
<text x="476.2" y="348.8" letter-spacing="0.25" text-anchor="middle" stroke="#1e1e1e" stroke-width="0.1">100</text>
<line x1="517.5" y1="336.5" x2="517.5" y2="338" stroke="#5a5a5a" stroke-width="0.7"/>
<line x1="559.5" y1="336.5" x2="559.5" y2="339.1" stroke="#5a5a5a" stroke-width="0.8"/>
<text x="559.5" y="348.8" letter-spacing="0.25" text-anchor="middle" stroke="#1e1e1e" stroke-width="0.1">150</text>
<line x1="601.5" y1="336.5" x2="601.5" y2="338" stroke="#5a5a5a" stroke-width="0.7"/>
<line x1="642.5" y1="336.5" x2="642.5" y2="339.1" stroke="#5a5a5a" stroke-width="0.8"/>
<text x="642.8" y="348.8" letter-spacing="0.25" text-anchor="middle" stroke="#1e1e1e" stroke-width="0.1">200</text>
<text x="480" y="361.5" text-anchor="middle" stroke="#1e1e1e" stroke-width="0.1" font-size="9">Cycle number</text>
<text x="273.9" y="270" text-anchor="middle" stroke="#1e1e1e" stroke-width="0.1" font-size="9" transform="rotate(-90 273.9 270)">Specific capacity (mAh g<tspan font-size="5.6" dy="-3.2">−1</tspan><tspan dy="3.2">)</tspan></text>
<text x="678" y="270.85" text-anchor="middle" stroke="#1e1e1e" stroke-width="0.1" font-size="9" transform="rotate(90 678 270.85)">CE (%)</text>
<g><circle cx="311.27" cy="238.89" r="1.95" fill="#f0693c"/><circle cx="312.93" cy="258.21" r="1.95" fill="#f0693c"/><circle cx="314.6" cy="260.6" r="1.95" fill="#f0693c"/><circle cx="316.26" cy="265.77" r="1.95" fill="#f0693c"/><circle cx="317.93" cy="266.37" r="1.95" fill="#f0693c"/><circle cx="319.6" cy="266.7" r="1.95" fill="#f0693c"/><circle cx="321.26" cy="266.75" r="1.95" fill="#f0693c"/><circle cx="322.93" cy="267.1" r="1.95" fill="#f0693c"/><circle cx="324.59" cy="267.45" r="1.95" fill="#f0693c"/><circle cx="326.26" cy="267.72" r="1.95" fill="#f0693c"/><circle cx="327.93" cy="267.94" r="1.95" fill="#f0693c"/><circle cx="329.59" cy="268.3" r="1.95" fill="#f0693c"/><circle cx="331.26" cy="268.66" r="1.95" fill="#f0693c"/><circle cx="332.92" cy="268.81" r="1.95" fill="#f0693c"/><circle cx="334.59" cy="268.84" r="1.95" fill="#f0693c"/><circle cx="336.26" cy="268.81" r="1.95" fill="#f0693c"/><circle cx="337.92" cy="269" r="1.95" fill="#f0693c"/><circle cx="339.59" cy="269.05" r="1.95" fill="#f0693c"/><circle cx="341.25" cy="269.15" r="1.95" fill="#f0693c"/><circle cx="342.92" cy="269.54" r="1.95" fill="#f0693c"/><circle cx="344.59" cy="269.42" r="1.95" fill="#f0693c"/><circle cx="346.25" cy="269.74" r="1.95" fill="#f0693c"/><circle cx="347.92" cy="269.75" r="1.95" fill="#f0693c"/><circle cx="349.58" cy="269.89" r="1.95" fill="#f0693c"/><circle cx="351.25" cy="270.06" r="1.95" fill="#f0693c"/><circle cx="352.92" cy="270.21" r="1.95" fill="#f0693c"/><circle cx="354.58" cy="270.32" r="1.95" fill="#f0693c"/><circle cx="356.25" cy="270.45" r="1.95" fill="#f0693c"/><circle cx="357.91" cy="270.63" r="1.95" fill="#f0693c"/><circle cx="359.58" cy="270.61" r="1.95" fill="#f0693c"/><circle cx="361.25" cy="270.83" r="1.95" fill="#f0693c"/><circle cx="362.91" cy="270.79" r="1.95" fill="#f0693c"/><circle cx="364.58" cy="270.76" r="1.95" fill="#f0693c"/><circle cx="366.24" cy="271.02" r="1.95" fill="#f0693c"/><circle cx="367.91" cy="271" r="1.95" fill="#f0693c"/><circle cx="369.58" cy="271.06" r="1.95" fill="#f0693c"/><circle cx="371.24" cy="271.15" r="1.95" fill="#f0693c"/><circle cx="372.91" cy="271.42" r="1.95" fill="#f0693c"/><circle cx="374.57" cy="271.54" r="1.95" fill="#f0693c"/><circle cx="376.24" cy="271.62" r="1.95" fill="#f0693c"/><circle cx="377.91" cy="271.58" r="1.95" fill="#f0693c"/><circle cx="379.57" cy="271.62" r="1.95" fill="#f0693c"/><circle cx="381.24" cy="271.75" r="1.95" fill="#f0693c"/><circle cx="382.9" cy="271.99" r="1.95" fill="#f0693c"/><circle cx="384.57" cy="271.89" r="1.95" fill="#f0693c"/><circle cx="386.24" cy="272" r="1.95" fill="#f0693c"/><circle cx="387.9" cy="271.94" r="1.95" fill="#f0693c"/><circle cx="389.57" cy="271.95" r="1.95" fill="#f0693c"/><circle cx="391.23" cy="272.07" r="1.95" fill="#f0693c"/><circle cx="392.9" cy="271.94" r="1.95" fill="#f0693c"/><circle cx="394.57" cy="272.08" r="1.95" fill="#f0693c"/><circle cx="396.23" cy="272.07" r="1.95" fill="#f0693c"/><circle cx="397.9" cy="272.1" r="1.95" fill="#f0693c"/><circle cx="399.56" cy="272.04" r="1.95" fill="#f0693c"/><circle cx="401.23" cy="272.14" r="1.95" fill="#f0693c"/><circle cx="402.9" cy="272.31" r="1.95" fill="#f0693c"/><circle cx="404.56" cy="272.35" r="1.95" fill="#f0693c"/><circle cx="406.23" cy="272.25" r="1.95" fill="#f0693c"/><circle cx="407.89" cy="272.32" r="1.95" fill="#f0693c"/><circle cx="409.56" cy="272.35" r="1.95" fill="#f0693c"/><circle cx="411.23" cy="272.44" r="1.95" fill="#f0693c"/><circle cx="412.89" cy="272.28" r="1.95" fill="#f0693c"/><circle cx="414.56" cy="272.33" r="1.95" fill="#f0693c"/><circle cx="416.22" cy="272.27" r="1.95" fill="#f0693c"/><circle cx="417.89" cy="272.39" r="1.95" fill="#f0693c"/><circle cx="419.56" cy="272.13" r="1.95" fill="#f0693c"/><circle cx="421.22" cy="272.36" r="1.95" fill="#f0693c"/><circle cx="422.89" cy="272.1" r="1.95" fill="#f0693c"/><circle cx="424.55" cy="272.09" r="1.95" fill="#f0693c"/><circle cx="426.22" cy="272.15" r="1.95" fill="#f0693c"/><circle cx="427.89" cy="272.17" r="1.95" fill="#f0693c"/><circle cx="429.55" cy="272.18" r="1.95" fill="#f0693c"/><circle cx="431.22" cy="272.13" r="1.95" fill="#f0693c"/><circle cx="432.88" cy="272.05" r="1.95" fill="#f0693c"/><circle cx="434.55" cy="272" r="1.95" fill="#f0693c"/><circle cx="436.22" cy="272.13" r="1.95" fill="#f0693c"/><circle cx="437.88" cy="272.02" r="1.95" fill="#f0693c"/><circle cx="439.55" cy="272.1" r="1.95" fill="#f0693c"/><circle cx="441.21" cy="272.23" r="1.95" fill="#f0693c"/><circle cx="442.88" cy="272.21" r="1.95" fill="#f0693c"/><circle cx="444.55" cy="272.34" r="1.95" fill="#f0693c"/><circle cx="446.21" cy="272.39" r="1.95" fill="#f0693c"/><circle cx="447.88" cy="272.4" r="1.95" fill="#f0693c"/><circle cx="449.54" cy="272.18" r="1.95" fill="#f0693c"/><circle cx="451.21" cy="272.38" r="1.95" fill="#f0693c"/><circle cx="452.88" cy="272.29" r="1.95" fill="#f0693c"/><circle cx="454.54" cy="272.38" r="1.95" fill="#f0693c"/><circle cx="456.21" cy="272.51" r="1.95" fill="#f0693c"/><circle cx="457.87" cy="272.51" r="1.95" fill="#f0693c"/><circle cx="459.54" cy="272.48" r="1.95" fill="#f0693c"/><circle cx="461.21" cy="272.5" r="1.95" fill="#f0693c"/><circle cx="462.87" cy="272.5" r="1.95" fill="#f0693c"/><circle cx="464.54" cy="272.66" r="1.95" fill="#f0693c"/><circle cx="466.2" cy="272.63" r="1.95" fill="#f0693c"/><circle cx="467.87" cy="272.7" r="1.95" fill="#f0693c"/><circle cx="469.54" cy="272.7" r="1.95" fill="#f0693c"/><circle cx="471.2" cy="272.76" r="1.95" fill="#f0693c"/><circle cx="472.87" cy="272.72" r="1.95" fill="#f0693c"/><circle cx="474.53" cy="272.7" r="1.95" fill="#f0693c"/><circle cx="476.2" cy="272.79" r="1.95" fill="#f0693c"/><circle cx="477.87" cy="273.01" r="1.95" fill="#f0693c"/><circle cx="479.53" cy="273.04" r="1.95" fill="#f0693c"/><circle cx="481.2" cy="272.9" r="1.95" fill="#f0693c"/><circle cx="482.86" cy="273.06" r="1.95" fill="#f0693c"/><circle cx="484.53" cy="272.97" r="1.95" fill="#f0693c"/><circle cx="486.2" cy="273.06" r="1.95" fill="#f0693c"/><circle cx="487.86" cy="273.05" r="1.95" fill="#f0693c"/><circle cx="489.53" cy="273.14" r="1.95" fill="#f0693c"/><circle cx="491.19" cy="273.38" r="1.95" fill="#f0693c"/><circle cx="492.86" cy="273.37" r="1.95" fill="#f0693c"/><circle cx="494.53" cy="273.58" r="1.95" fill="#f0693c"/><circle cx="496.19" cy="273.59" r="1.95" fill="#f0693c"/><circle cx="497.86" cy="273.47" r="1.95" fill="#f0693c"/><circle cx="499.52" cy="273.62" r="1.95" fill="#f0693c"/><circle cx="501.19" cy="273.79" r="1.95" fill="#f0693c"/><circle cx="502.86" cy="273.8" r="1.95" fill="#f0693c"/><circle cx="504.52" cy="273.77" r="1.95" fill="#f0693c"/><circle cx="506.19" cy="274.04" r="1.95" fill="#f0693c"/><circle cx="507.85" cy="274.09" r="1.95" fill="#f0693c"/><circle cx="509.52" cy="274.03" r="1.95" fill="#f0693c"/><circle cx="511.19" cy="274.09" r="1.95" fill="#f0693c"/><circle cx="512.85" cy="274.21" r="1.95" fill="#f0693c"/><circle cx="514.52" cy="274.23" r="1.95" fill="#f0693c"/><circle cx="516.18" cy="274.34" r="1.95" fill="#f0693c"/><circle cx="517.85" cy="274.42" r="1.95" fill="#f0693c"/><circle cx="519.52" cy="274.55" r="1.95" fill="#f0693c"/><circle cx="521.18" cy="274.58" r="1.95" fill="#f0693c"/><circle cx="522.85" cy="274.73" r="1.95" fill="#f0693c"/><circle cx="524.51" cy="274.82" r="1.95" fill="#f0693c"/><circle cx="526.18" cy="274.89" r="1.95" fill="#f0693c"/><circle cx="527.85" cy="275.02" r="1.95" fill="#f0693c"/><circle cx="529.51" cy="275.08" r="1.95" fill="#f0693c"/><circle cx="531.18" cy="274.92" r="1.95" fill="#f0693c"/><circle cx="532.84" cy="275.14" r="1.95" fill="#f0693c"/><circle cx="534.51" cy="275.29" r="1.95" fill="#f0693c"/><circle cx="536.18" cy="275.39" r="1.95" fill="#f0693c"/><circle cx="537.84" cy="275.49" r="1.95" fill="#f0693c"/><circle cx="539.51" cy="275.31" r="1.95" fill="#f0693c"/><circle cx="541.17" cy="275.62" r="1.95" fill="#f0693c"/><circle cx="542.84" cy="275.48" r="1.95" fill="#f0693c"/><circle cx="544.51" cy="275.53" r="1.95" fill="#f0693c"/><circle cx="546.17" cy="275.59" r="1.95" fill="#f0693c"/><circle cx="547.84" cy="275.93" r="1.95" fill="#f0693c"/><circle cx="549.5" cy="275.91" r="1.95" fill="#f0693c"/><circle cx="551.17" cy="275.85" r="1.95" fill="#f0693c"/><circle cx="552.84" cy="276.12" r="1.95" fill="#f0693c"/><circle cx="554.5" cy="276.11" r="1.95" fill="#f0693c"/><circle cx="556.17" cy="276.26" r="1.95" fill="#f0693c"/><circle cx="557.83" cy="276.11" r="1.95" fill="#f0693c"/><circle cx="559.5" cy="276.21" r="1.95" fill="#f0693c"/><circle cx="561.17" cy="276.28" r="1.95" fill="#f0693c"/><circle cx="562.83" cy="276.57" r="1.95" fill="#f0693c"/><circle cx="564.5" cy="276.57" r="1.95" fill="#f0693c"/><circle cx="566.16" cy="276.66" r="1.95" fill="#f0693c"/><circle cx="567.83" cy="276.66" r="1.95" fill="#f0693c"/><circle cx="569.5" cy="276.89" r="1.95" fill="#f0693c"/><circle cx="571.16" cy="276.91" r="1.95" fill="#f0693c"/><circle cx="572.83" cy="277.04" r="1.95" fill="#f0693c"/><circle cx="574.49" cy="276.98" r="1.95" fill="#f0693c"/><circle cx="576.16" cy="277.16" r="1.95" fill="#f0693c"/><circle cx="577.83" cy="277.22" r="1.95" fill="#f0693c"/><circle cx="579.49" cy="277.38" r="1.95" fill="#f0693c"/><circle cx="581.16" cy="277.3" r="1.95" fill="#f0693c"/><circle cx="582.82" cy="277.49" r="1.95" fill="#f0693c"/><circle cx="584.49" cy="277.46" r="1.95" fill="#f0693c"/><circle cx="586.16" cy="277.7" r="1.95" fill="#f0693c"/><circle cx="587.82" cy="277.6" r="1.95" fill="#f0693c"/><circle cx="589.49" cy="277.67" r="1.95" fill="#f0693c"/><circle cx="591.15" cy="277.92" r="1.95" fill="#f0693c"/><circle cx="592.82" cy="278.07" r="1.95" fill="#f0693c"/><circle cx="594.49" cy="278.12" r="1.95" fill="#f0693c"/><circle cx="596.15" cy="278.16" r="1.95" fill="#f0693c"/><circle cx="597.82" cy="278.1" r="1.95" fill="#f0693c"/><circle cx="599.48" cy="278.24" r="1.95" fill="#f0693c"/><circle cx="601.15" cy="278.33" r="1.95" fill="#f0693c"/><circle cx="602.82" cy="278.62" r="1.95" fill="#f0693c"/><circle cx="604.48" cy="278.67" r="1.95" fill="#f0693c"/><circle cx="606.15" cy="278.63" r="1.95" fill="#f0693c"/><circle cx="607.81" cy="278.64" r="1.95" fill="#f0693c"/><circle cx="609.48" cy="278.83" r="1.95" fill="#f0693c"/><circle cx="611.15" cy="279.06" r="1.95" fill="#f0693c"/><circle cx="612.81" cy="278.91" r="1.95" fill="#f0693c"/><circle cx="614.48" cy="278.99" r="1.95" fill="#f0693c"/><circle cx="616.14" cy="279.26" r="1.95" fill="#f0693c"/><circle cx="617.81" cy="279.19" r="1.95" fill="#f0693c"/><circle cx="619.48" cy="279.43" r="1.95" fill="#f0693c"/><circle cx="621.14" cy="279.32" r="1.95" fill="#f0693c"/><circle cx="622.81" cy="279.64" r="1.95" fill="#f0693c"/><circle cx="624.47" cy="279.63" r="1.95" fill="#f0693c"/><circle cx="626.14" cy="279.56" r="1.95" fill="#f0693c"/><circle cx="627.81" cy="279.87" r="1.95" fill="#f0693c"/><circle cx="629.47" cy="279.89" r="1.95" fill="#f0693c"/><circle cx="631.14" cy="280" r="1.95" fill="#f0693c"/><circle cx="632.8" cy="280.19" r="1.95" fill="#f0693c"/><circle cx="634.47" cy="280.27" r="1.95" fill="#f0693c"/><circle cx="636.14" cy="280.21" r="1.95" fill="#f0693c"/><circle cx="637.8" cy="280.38" r="1.95" fill="#f0693c"/><circle cx="639.47" cy="280.22" r="1.95" fill="#f0693c"/><circle cx="641.13" cy="280.51" r="1.95" fill="#f0693c"/><circle cx="642.8" cy="280.7" r="1.95" fill="#f0693c"/><circle cx="644.47" cy="280.5" r="1.95" fill="#f0693c"/><circle cx="646.13" cy="280.61" r="1.95" fill="#f0693c"/><circle cx="647.8" cy="280.76" r="1.95" fill="#f0693c"/><circle cx="649.46" cy="280.8" r="1.95" fill="#f0693c"/><circle cx="651.13" cy="281.09" r="1.95" fill="#f0693c"/><circle cx="311.27" cy="254.77" r="1.95" fill="#1a8cf2"/><circle cx="312.93" cy="281.56" r="1.95" fill="#1a8cf2"/><circle cx="314.6" cy="297.1" r="1.95" fill="#1a8cf2"/><circle cx="316.26" cy="301.92" r="1.95" fill="#1a8cf2"/><circle cx="317.93" cy="303.42" r="1.95" fill="#1a8cf2"/><circle cx="319.6" cy="305.3" r="1.95" fill="#1a8cf2"/><circle cx="321.26" cy="306.98" r="1.95" fill="#1a8cf2"/><circle cx="322.93" cy="308.74" r="1.95" fill="#1a8cf2"/><circle cx="324.59" cy="310.9" r="1.95" fill="#1a8cf2"/><circle cx="326.26" cy="313.19" r="1.95" fill="#1a8cf2"/><circle cx="327.93" cy="314.93" r="1.95" fill="#1a8cf2"/><circle cx="329.59" cy="316.83" r="1.95" fill="#1a8cf2"/><circle cx="331.26" cy="319.17" r="1.95" fill="#1a8cf2"/><circle cx="332.92" cy="321.6" r="1.95" fill="#1a8cf2"/><circle cx="334.59" cy="323.56" r="1.95" fill="#1a8cf2"/><circle cx="336.26" cy="325.44" r="1.95" fill="#1a8cf2"/><circle cx="337.92" cy="326.83" r="1.95" fill="#1a8cf2"/><circle cx="339.59" cy="327.86" r="1.95" fill="#1a8cf2"/><circle cx="341.25" cy="328.66" r="1.95" fill="#1a8cf2"/><circle cx="342.92" cy="329.44" r="1.95" fill="#1a8cf2"/><circle cx="344.59" cy="330.04" r="1.95" fill="#1a8cf2"/><circle cx="346.25" cy="330.56" r="1.95" fill="#1a8cf2"/><circle cx="347.92" cy="331.22" r="1.95" fill="#1a8cf2"/><circle cx="349.58" cy="331.99" r="1.95" fill="#1a8cf2"/><circle cx="351.25" cy="332.66" r="1.95" fill="#1a8cf2"/><circle cx="352.92" cy="333.37" r="1.95" fill="#1a8cf2"/><circle cx="354.58" cy="333.86" r="1.95" fill="#1a8cf2"/><circle cx="356.25" cy="334.05" r="1.95" fill="#1a8cf2"/><circle cx="357.91" cy="334.22" r="1.95" fill="#1a8cf2"/><circle cx="359.58" cy="334.26" r="1.95" fill="#1a8cf2"/><circle cx="361.25" cy="334.23" r="1.95" fill="#1a8cf2"/><circle cx="362.91" cy="334.22" r="1.95" fill="#1a8cf2"/><circle cx="364.58" cy="334.3" r="1.95" fill="#1a8cf2"/><circle cx="366.24" cy="334.29" r="1.95" fill="#1a8cf2"/><circle cx="367.91" cy="334.27" r="1.95" fill="#1a8cf2"/><circle cx="369.58" cy="334.38" r="1.95" fill="#1a8cf2"/><circle cx="371.24" cy="334.26" r="1.95" fill="#1a8cf2"/><circle cx="372.91" cy="334.42" r="1.95" fill="#1a8cf2"/><circle cx="374.57" cy="334.37" r="1.95" fill="#1a8cf2"/><circle cx="376.24" cy="334.39" r="1.95" fill="#1a8cf2"/><circle cx="377.91" cy="334.32" r="1.95" fill="#1a8cf2"/><circle cx="379.57" cy="334.39" r="1.95" fill="#1a8cf2"/><circle cx="381.24" cy="334.42" r="1.95" fill="#1a8cf2"/><circle cx="382.9" cy="334.41" r="1.95" fill="#1a8cf2"/><circle cx="384.57" cy="334.39" r="1.95" fill="#1a8cf2"/><circle cx="386.24" cy="334.34" r="1.95" fill="#1a8cf2"/><circle cx="387.9" cy="334.45" r="1.95" fill="#1a8cf2"/><circle cx="389.57" cy="334.5" r="1.95" fill="#1a8cf2"/><circle cx="391.23" cy="334.38" r="1.95" fill="#1a8cf2"/><circle cx="392.9" cy="334.45" r="1.95" fill="#1a8cf2"/><circle cx="394.57" cy="334.39" r="1.95" fill="#1a8cf2"/><circle cx="396.23" cy="334.41" r="1.95" fill="#1a8cf2"/><circle cx="397.9" cy="334.39" r="1.95" fill="#1a8cf2"/><circle cx="399.56" cy="334.4" r="1.95" fill="#1a8cf2"/><circle cx="401.23" cy="334.47" r="1.95" fill="#1a8cf2"/><circle cx="402.9" cy="334.52" r="1.95" fill="#1a8cf2"/><circle cx="404.56" cy="334.44" r="1.95" fill="#1a8cf2"/><circle cx="406.23" cy="334.4" r="1.95" fill="#1a8cf2"/><circle cx="407.89" cy="334.5" r="1.95" fill="#1a8cf2"/><circle cx="409.56" cy="334.41" r="1.95" fill="#1a8cf2"/><circle cx="411.23" cy="334.46" r="1.95" fill="#1a8cf2"/><circle cx="412.89" cy="334.43" r="1.95" fill="#1a8cf2"/><circle cx="414.56" cy="334.44" r="1.95" fill="#1a8cf2"/><circle cx="416.22" cy="334.42" r="1.95" fill="#1a8cf2"/><circle cx="417.89" cy="334.54" r="1.95" fill="#1a8cf2"/><circle cx="419.56" cy="334.43" r="1.95" fill="#1a8cf2"/><circle cx="421.22" cy="334.48" r="1.95" fill="#1a8cf2"/><circle cx="422.89" cy="334.51" r="1.95" fill="#1a8cf2"/><circle cx="424.55" cy="334.56" r="1.95" fill="#1a8cf2"/><circle cx="426.22" cy="334.53" r="1.95" fill="#1a8cf2"/><circle cx="427.89" cy="334.56" r="1.95" fill="#1a8cf2"/><circle cx="429.55" cy="334.42" r="1.95" fill="#1a8cf2"/><circle cx="431.22" cy="334.49" r="1.95" fill="#1a8cf2"/><circle cx="432.88" cy="334.42" r="1.95" fill="#1a8cf2"/><circle cx="434.55" cy="334.5" r="1.95" fill="#1a8cf2"/><circle cx="436.22" cy="334.54" r="1.95" fill="#1a8cf2"/><circle cx="437.88" cy="334.47" r="1.95" fill="#1a8cf2"/><circle cx="439.55" cy="334.56" r="1.95" fill="#1a8cf2"/><circle cx="441.21" cy="334.54" r="1.95" fill="#1a8cf2"/><circle cx="442.88" cy="334.47" r="1.95" fill="#1a8cf2"/><circle cx="444.55" cy="334.46" r="1.95" fill="#1a8cf2"/><circle cx="446.21" cy="334.55" r="1.95" fill="#1a8cf2"/><circle cx="447.88" cy="334.59" r="1.95" fill="#1a8cf2"/><circle cx="449.54" cy="334.55" r="1.95" fill="#1a8cf2"/><circle cx="451.21" cy="334.47" r="1.95" fill="#1a8cf2"/><circle cx="452.88" cy="334.5" r="1.95" fill="#1a8cf2"/><circle cx="454.54" cy="334.48" r="1.95" fill="#1a8cf2"/><circle cx="456.21" cy="334.56" r="1.95" fill="#1a8cf2"/><circle cx="457.87" cy="334.47" r="1.95" fill="#1a8cf2"/><circle cx="459.54" cy="334.55" r="1.95" fill="#1a8cf2"/><circle cx="461.21" cy="334.55" r="1.95" fill="#1a8cf2"/><circle cx="462.87" cy="334.49" r="1.95" fill="#1a8cf2"/><circle cx="464.54" cy="334.55" r="1.95" fill="#1a8cf2"/><circle cx="466.2" cy="334.51" r="1.95" fill="#1a8cf2"/><circle cx="467.87" cy="334.53" r="1.95" fill="#1a8cf2"/><circle cx="469.54" cy="334.63" r="1.95" fill="#1a8cf2"/><circle cx="471.2" cy="334.55" r="1.95" fill="#1a8cf2"/><circle cx="472.87" cy="334.52" r="1.95" fill="#1a8cf2"/><circle cx="474.53" cy="334.57" r="1.95" fill="#1a8cf2"/><circle cx="476.2" cy="334.61" r="1.95" fill="#1a8cf2"/><circle cx="477.87" cy="334.65" r="1.95" fill="#1a8cf2"/><circle cx="479.53" cy="334.56" r="1.95" fill="#1a8cf2"/><circle cx="481.2" cy="334.61" r="1.95" fill="#1a8cf2"/><circle cx="482.86" cy="334.57" r="1.95" fill="#1a8cf2"/><circle cx="484.53" cy="334.6" r="1.95" fill="#1a8cf2"/><circle cx="486.2" cy="334.56" r="1.95" fill="#1a8cf2"/><circle cx="487.86" cy="334.61" r="1.95" fill="#1a8cf2"/><circle cx="489.53" cy="334.66" r="1.95" fill="#1a8cf2"/><circle cx="491.19" cy="334.53" r="1.95" fill="#1a8cf2"/><circle cx="492.86" cy="334.62" r="1.95" fill="#1a8cf2"/><circle cx="494.53" cy="334.51" r="1.95" fill="#1a8cf2"/><circle cx="496.19" cy="334.63" r="1.95" fill="#1a8cf2"/><circle cx="497.86" cy="334.52" r="1.95" fill="#1a8cf2"/><circle cx="499.52" cy="334.53" r="1.95" fill="#1a8cf2"/><circle cx="501.19" cy="334.67" r="1.95" fill="#1a8cf2"/><circle cx="502.86" cy="334.58" r="1.95" fill="#1a8cf2"/><circle cx="504.52" cy="334.62" r="1.95" fill="#1a8cf2"/><circle cx="506.19" cy="334.55" r="1.95" fill="#1a8cf2"/><circle cx="507.85" cy="334.57" r="1.95" fill="#1a8cf2"/><circle cx="509.52" cy="334.53" r="1.95" fill="#1a8cf2"/><circle cx="511.19" cy="334.66" r="1.95" fill="#1a8cf2"/><circle cx="512.85" cy="334.59" r="1.95" fill="#1a8cf2"/><circle cx="514.52" cy="334.56" r="1.95" fill="#1a8cf2"/><circle cx="516.18" cy="334.68" r="1.95" fill="#1a8cf2"/><circle cx="517.85" cy="334.68" r="1.95" fill="#1a8cf2"/><circle cx="519.52" cy="334.57" r="1.95" fill="#1a8cf2"/><circle cx="521.18" cy="334.63" r="1.95" fill="#1a8cf2"/><circle cx="522.85" cy="334.63" r="1.95" fill="#1a8cf2"/><circle cx="524.51" cy="334.61" r="1.95" fill="#1a8cf2"/><circle cx="526.18" cy="334.6" r="1.95" fill="#1a8cf2"/><circle cx="527.85" cy="334.59" r="1.95" fill="#1a8cf2"/><circle cx="529.51" cy="334.55" r="1.95" fill="#1a8cf2"/><circle cx="531.18" cy="334.64" r="1.95" fill="#1a8cf2"/><circle cx="532.84" cy="334.58" r="1.95" fill="#1a8cf2"/><circle cx="534.51" cy="334.61" r="1.95" fill="#1a8cf2"/><circle cx="536.18" cy="334.62" r="1.95" fill="#1a8cf2"/><circle cx="537.84" cy="334.64" r="1.95" fill="#1a8cf2"/><circle cx="539.51" cy="334.6" r="1.95" fill="#1a8cf2"/><circle cx="541.17" cy="334.67" r="1.95" fill="#1a8cf2"/><circle cx="542.84" cy="334.69" r="1.95" fill="#1a8cf2"/><circle cx="544.51" cy="334.59" r="1.95" fill="#1a8cf2"/><circle cx="546.17" cy="334.63" r="1.95" fill="#1a8cf2"/><circle cx="547.84" cy="334.65" r="1.95" fill="#1a8cf2"/><circle cx="549.5" cy="334.63" r="1.95" fill="#1a8cf2"/><circle cx="551.17" cy="334.67" r="1.95" fill="#1a8cf2"/><circle cx="552.84" cy="334.68" r="1.95" fill="#1a8cf2"/><circle cx="554.5" cy="334.65" r="1.95" fill="#1a8cf2"/><circle cx="556.17" cy="334.56" r="1.95" fill="#1a8cf2"/><circle cx="557.83" cy="334.68" r="1.95" fill="#1a8cf2"/><circle cx="559.5" cy="334.58" r="1.95" fill="#1a8cf2"/><circle cx="561.17" cy="334.65" r="1.95" fill="#1a8cf2"/><circle cx="562.83" cy="334.7" r="1.95" fill="#1a8cf2"/><circle cx="564.5" cy="334.59" r="1.95" fill="#1a8cf2"/><circle cx="566.16" cy="334.66" r="1.95" fill="#1a8cf2"/><circle cx="567.83" cy="334.59" r="1.95" fill="#1a8cf2"/><circle cx="569.5" cy="334.66" r="1.95" fill="#1a8cf2"/><circle cx="571.16" cy="334.72" r="1.95" fill="#1a8cf2"/><circle cx="572.83" cy="334.62" r="1.95" fill="#1a8cf2"/><circle cx="574.49" cy="334.6" r="1.95" fill="#1a8cf2"/><circle cx="576.16" cy="334.68" r="1.95" fill="#1a8cf2"/><circle cx="577.83" cy="334.68" r="1.95" fill="#1a8cf2"/><circle cx="579.49" cy="334.73" r="1.95" fill="#1a8cf2"/><circle cx="581.16" cy="334.65" r="1.95" fill="#1a8cf2"/><circle cx="582.82" cy="334.6" r="1.95" fill="#1a8cf2"/><circle cx="584.49" cy="334.61" r="1.95" fill="#1a8cf2"/><circle cx="586.16" cy="334.63" r="1.95" fill="#1a8cf2"/><circle cx="587.82" cy="334.6" r="1.95" fill="#1a8cf2"/><circle cx="589.49" cy="334.64" r="1.95" fill="#1a8cf2"/><circle cx="591.15" cy="334.62" r="1.95" fill="#1a8cf2"/><circle cx="592.82" cy="334.67" r="1.95" fill="#1a8cf2"/><circle cx="594.49" cy="334.73" r="1.95" fill="#1a8cf2"/><circle cx="596.15" cy="334.72" r="1.95" fill="#1a8cf2"/><circle cx="597.82" cy="334.73" r="1.95" fill="#1a8cf2"/><circle cx="599.48" cy="334.63" r="1.95" fill="#1a8cf2"/><circle cx="601.15" cy="334.75" r="1.95" fill="#1a8cf2"/><circle cx="602.82" cy="334.67" r="1.95" fill="#1a8cf2"/><circle cx="604.48" cy="334.7" r="1.95" fill="#1a8cf2"/><circle cx="606.15" cy="334.63" r="1.95" fill="#1a8cf2"/><circle cx="607.81" cy="334.67" r="1.95" fill="#1a8cf2"/><circle cx="609.48" cy="334.66" r="1.95" fill="#1a8cf2"/><circle cx="611.15" cy="334.75" r="1.95" fill="#1a8cf2"/><circle cx="612.81" cy="334.71" r="1.95" fill="#1a8cf2"/><circle cx="614.48" cy="334.6" r="1.95" fill="#1a8cf2"/><circle cx="616.14" cy="334.65" r="1.95" fill="#1a8cf2"/><circle cx="617.81" cy="334.68" r="1.95" fill="#1a8cf2"/><circle cx="619.48" cy="334.65" r="1.95" fill="#1a8cf2"/><circle cx="621.14" cy="334.64" r="1.95" fill="#1a8cf2"/><circle cx="622.81" cy="334.76" r="1.95" fill="#1a8cf2"/><circle cx="624.47" cy="334.62" r="1.95" fill="#1a8cf2"/><circle cx="626.14" cy="334.67" r="1.95" fill="#1a8cf2"/><circle cx="627.81" cy="334.7" r="1.95" fill="#1a8cf2"/><circle cx="629.47" cy="334.67" r="1.95" fill="#1a8cf2"/><circle cx="631.14" cy="334.72" r="1.95" fill="#1a8cf2"/><circle cx="632.8" cy="334.64" r="1.95" fill="#1a8cf2"/><circle cx="634.47" cy="334.65" r="1.95" fill="#1a8cf2"/><circle cx="636.14" cy="334.68" r="1.95" fill="#1a8cf2"/><circle cx="637.8" cy="334.75" r="1.95" fill="#1a8cf2"/><circle cx="639.47" cy="334.63" r="1.95" fill="#1a8cf2"/><circle cx="641.13" cy="334.71" r="1.95" fill="#1a8cf2"/><circle cx="642.8" cy="334.64" r="1.95" fill="#1a8cf2"/><circle cx="644.47" cy="334.78" r="1.95" fill="#1a8cf2"/><circle cx="646.13" cy="334.77" r="1.95" fill="#1a8cf2"/><circle cx="647.8" cy="334.76" r="1.95" fill="#1a8cf2"/><circle cx="649.46" cy="334.76" r="1.95" fill="#1a8cf2"/><circle cx="651.13" cy="334.74" r="1.95" fill="#1a8cf2"/><circle cx="311.27" cy="254.52" r="1.65" fill="#fff" stroke="#1a8cf2" stroke-width="0.75"/><circle cx="312.93" cy="224.99" r="1.65" fill="#fff" stroke="#1a8cf2" stroke-width="0.75"/><circle cx="314.6" cy="234.18" r="1.65" fill="#fff" stroke="#1a8cf2" stroke-width="0.75"/><circle cx="316.26" cy="222.36" r="1.65" fill="#fff" stroke="#1a8cf2" stroke-width="0.75"/><circle cx="317.93" cy="221.52" r="1.65" fill="#fff" stroke="#1a8cf2" stroke-width="0.75"/><circle cx="319.6" cy="221.93" r="1.65" fill="#fff" stroke="#1a8cf2" stroke-width="0.75"/><circle cx="321.26" cy="222.07" r="1.65" fill="#fff" stroke="#1a8cf2" stroke-width="0.75"/><circle cx="322.93" cy="222.5" r="1.65" fill="#fff" stroke="#1a8cf2" stroke-width="0.75"/><circle cx="324.59" cy="223.02" r="1.65" fill="#fff" stroke="#1a8cf2" stroke-width="0.75"/><circle cx="326.26" cy="223.15" r="1.65" fill="#fff" stroke="#1a8cf2" stroke-width="0.75"/><circle cx="327.93" cy="223.49" r="1.65" fill="#fff" stroke="#1a8cf2" stroke-width="0.75"/><circle cx="329.59" cy="223.78" r="1.65" fill="#fff" stroke="#1a8cf2" stroke-width="0.75"/><circle cx="331.26" cy="223.23" r="1.65" fill="#fff" stroke="#1a8cf2" stroke-width="0.75"/><circle cx="332.92" cy="222.91" r="1.65" fill="#fff" stroke="#1a8cf2" stroke-width="0.75"/><circle cx="334.59" cy="222.25" r="1.65" fill="#fff" stroke="#1a8cf2" stroke-width="0.75"/><circle cx="336.26" cy="221.9" r="1.65" fill="#fff" stroke="#1a8cf2" stroke-width="0.75"/><circle cx="337.92" cy="221.06" r="1.65" fill="#fff" stroke="#1a8cf2" stroke-width="0.75"/><circle cx="339.59" cy="220.4" r="1.65" fill="#fff" stroke="#1a8cf2" stroke-width="0.75"/><circle cx="341.25" cy="220.03" r="1.65" fill="#fff" stroke="#1a8cf2" stroke-width="0.75"/><circle cx="342.92" cy="219" r="1.65" fill="#fff" stroke="#1a8cf2" stroke-width="0.75"/><circle cx="344.59" cy="218.36" r="1.65" fill="#fff" stroke="#1a8cf2" stroke-width="0.75"/><circle cx="346.25" cy="217.28" r="1.65" fill="#fff" stroke="#1a8cf2" stroke-width="0.75"/><circle cx="347.92" cy="216.66" r="1.65" fill="#fff" stroke="#1a8cf2" stroke-width="0.75"/><circle cx="349.58" cy="215.25" r="1.65" fill="#fff" stroke="#1a8cf2" stroke-width="0.75"/><circle cx="351.25" cy="214.08" r="1.65" fill="#fff" stroke="#1a8cf2" stroke-width="0.75"/><circle cx="352.92" cy="211.9" r="1.65" fill="#fff" stroke="#1a8cf2" stroke-width="0.75"/><circle cx="354.58" cy="209.19" r="1.65" fill="#fff" stroke="#1a8cf2" stroke-width="0.75"/><circle cx="356.25" cy="209.19" r="1.65" fill="#fff" stroke="#1a8cf2" stroke-width="0.75"/><circle cx="357.91" cy="209.64" r="1.65" fill="#fff" stroke="#1a8cf2" stroke-width="0.75"/><circle cx="359.58" cy="210.02" r="1.65" fill="#fff" stroke="#1a8cf2" stroke-width="0.75"/><circle cx="361.25" cy="209.99" r="1.65" fill="#fff" stroke="#1a8cf2" stroke-width="0.75"/><circle cx="362.91" cy="210.21" r="1.65" fill="#fff" stroke="#1a8cf2" stroke-width="0.75"/><circle cx="364.58" cy="210.25" r="1.65" fill="#fff" stroke="#1a8cf2" stroke-width="0.75"/><circle cx="366.24" cy="210.38" r="1.65" fill="#fff" stroke="#1a8cf2" stroke-width="0.75"/><circle cx="367.91" cy="210.56" r="1.65" fill="#fff" stroke="#1a8cf2" stroke-width="0.75"/><circle cx="369.58" cy="210.69" r="1.65" fill="#fff" stroke="#1a8cf2" stroke-width="0.75"/><circle cx="371.24" cy="210.82" r="1.65" fill="#fff" stroke="#1a8cf2" stroke-width="0.75"/><circle cx="372.91" cy="210.64" r="1.65" fill="#fff" stroke="#1a8cf2" stroke-width="0.75"/><circle cx="374.57" cy="210.76" r="1.65" fill="#fff" stroke="#1a8cf2" stroke-width="0.75"/><circle cx="376.24" cy="211" r="1.65" fill="#fff" stroke="#1a8cf2" stroke-width="0.75"/><circle cx="377.91" cy="210.79" r="1.65" fill="#fff" stroke="#1a8cf2" stroke-width="0.75"/><circle cx="379.57" cy="211.19" r="1.65" fill="#fff" stroke="#1a8cf2" stroke-width="0.75"/><circle cx="381.24" cy="210.9" r="1.65" fill="#fff" stroke="#1a8cf2" stroke-width="0.75"/><circle cx="382.9" cy="210.96" r="1.65" fill="#fff" stroke="#1a8cf2" stroke-width="0.75"/><circle cx="384.57" cy="210.96" r="1.65" fill="#fff" stroke="#1a8cf2" stroke-width="0.75"/><circle cx="386.24" cy="211.21" r="1.65" fill="#fff" stroke="#1a8cf2" stroke-width="0.75"/><circle cx="387.9" cy="211.12" r="1.65" fill="#fff" stroke="#1a8cf2" stroke-width="0.75"/><circle cx="389.57" cy="211.09" r="1.65" fill="#fff" stroke="#1a8cf2" stroke-width="0.75"/><circle cx="391.23" cy="211.04" r="1.65" fill="#fff" stroke="#1a8cf2" stroke-width="0.75"/><circle cx="392.9" cy="211.29" r="1.65" fill="#fff" stroke="#1a8cf2" stroke-width="0.75"/><circle cx="394.57" cy="211.53" r="1.65" fill="#fff" stroke="#1a8cf2" stroke-width="0.75"/><circle cx="396.23" cy="211.31" r="1.65" fill="#fff" stroke="#1a8cf2" stroke-width="0.75"/><circle cx="397.9" cy="211.28" r="1.65" fill="#fff" stroke="#1a8cf2" stroke-width="0.75"/><circle cx="399.56" cy="211.16" r="1.65" fill="#fff" stroke="#1a8cf2" stroke-width="0.75"/><circle cx="401.23" cy="211.16" r="1.65" fill="#fff" stroke="#1a8cf2" stroke-width="0.75"/><circle cx="402.9" cy="211.39" r="1.65" fill="#fff" stroke="#1a8cf2" stroke-width="0.75"/><circle cx="404.56" cy="211.36" r="1.65" fill="#fff" stroke="#1a8cf2" stroke-width="0.75"/><circle cx="406.23" cy="211.4" r="1.65" fill="#fff" stroke="#1a8cf2" stroke-width="0.75"/><circle cx="407.89" cy="211.29" r="1.65" fill="#fff" stroke="#1a8cf2" stroke-width="0.75"/><circle cx="409.56" cy="211.45" r="1.65" fill="#fff" stroke="#1a8cf2" stroke-width="0.75"/><circle cx="411.23" cy="211.34" r="1.65" fill="#fff" stroke="#1a8cf2" stroke-width="0.75"/><circle cx="412.89" cy="211.6" r="1.65" fill="#fff" stroke="#1a8cf2" stroke-width="0.75"/><circle cx="414.56" cy="211.46" r="1.65" fill="#fff" stroke="#1a8cf2" stroke-width="0.75"/><circle cx="416.22" cy="211.22" r="1.65" fill="#fff" stroke="#1a8cf2" stroke-width="0.75"/><circle cx="417.89" cy="211.54" r="1.65" fill="#fff" stroke="#1a8cf2" stroke-width="0.75"/><circle cx="419.56" cy="211.38" r="1.65" fill="#fff" stroke="#1a8cf2" stroke-width="0.75"/><circle cx="421.22" cy="211.41" r="1.65" fill="#fff" stroke="#1a8cf2" stroke-width="0.75"/><circle cx="422.89" cy="211.33" r="1.65" fill="#fff" stroke="#1a8cf2" stroke-width="0.75"/><circle cx="424.55" cy="211.34" r="1.65" fill="#fff" stroke="#1a8cf2" stroke-width="0.75"/><circle cx="426.22" cy="211.35" r="1.65" fill="#fff" stroke="#1a8cf2" stroke-width="0.75"/><circle cx="427.89" cy="211.59" r="1.65" fill="#fff" stroke="#1a8cf2" stroke-width="0.75"/><circle cx="429.55" cy="211.64" r="1.65" fill="#fff" stroke="#1a8cf2" stroke-width="0.75"/><circle cx="431.22" cy="211.45" r="1.65" fill="#fff" stroke="#1a8cf2" stroke-width="0.75"/><circle cx="432.88" cy="211.44" r="1.65" fill="#fff" stroke="#1a8cf2" stroke-width="0.75"/><circle cx="434.55" cy="211.4" r="1.65" fill="#fff" stroke="#1a8cf2" stroke-width="0.75"/><circle cx="436.22" cy="211.82" r="1.65" fill="#fff" stroke="#1a8cf2" stroke-width="0.75"/><circle cx="437.88" cy="211.82" r="1.65" fill="#fff" stroke="#1a8cf2" stroke-width="0.75"/><circle cx="439.55" cy="211.55" r="1.65" fill="#fff" stroke="#1a8cf2" stroke-width="0.75"/><circle cx="441.21" cy="211.42" r="1.65" fill="#fff" stroke="#1a8cf2" stroke-width="0.75"/><circle cx="442.88" cy="211.4" r="1.65" fill="#fff" stroke="#1a8cf2" stroke-width="0.75"/><circle cx="444.55" cy="211.52" r="1.65" fill="#fff" stroke="#1a8cf2" stroke-width="0.75"/><circle cx="446.21" cy="211.67" r="1.65" fill="#fff" stroke="#1a8cf2" stroke-width="0.75"/><circle cx="447.88" cy="211.84" r="1.65" fill="#fff" stroke="#1a8cf2" stroke-width="0.75"/><circle cx="449.54" cy="211.57" r="1.65" fill="#fff" stroke="#1a8cf2" stroke-width="0.75"/><circle cx="451.21" cy="211.46" r="1.65" fill="#fff" stroke="#1a8cf2" stroke-width="0.75"/><circle cx="452.88" cy="211.67" r="1.65" fill="#fff" stroke="#1a8cf2" stroke-width="0.75"/><circle cx="454.54" cy="211.54" r="1.65" fill="#fff" stroke="#1a8cf2" stroke-width="0.75"/><circle cx="456.21" cy="211.44" r="1.65" fill="#fff" stroke="#1a8cf2" stroke-width="0.75"/><circle cx="457.87" cy="211.86" r="1.65" fill="#fff" stroke="#1a8cf2" stroke-width="0.75"/><circle cx="459.54" cy="211.49" r="1.65" fill="#fff" stroke="#1a8cf2" stroke-width="0.75"/><circle cx="461.21" cy="211.74" r="1.65" fill="#fff" stroke="#1a8cf2" stroke-width="0.75"/><circle cx="462.87" cy="211.7" r="1.65" fill="#fff" stroke="#1a8cf2" stroke-width="0.75"/><circle cx="464.54" cy="211.81" r="1.65" fill="#fff" stroke="#1a8cf2" stroke-width="0.75"/><circle cx="466.2" cy="211.62" r="1.65" fill="#fff" stroke="#1a8cf2" stroke-width="0.75"/><circle cx="467.87" cy="211.61" r="1.65" fill="#fff" stroke="#1a8cf2" stroke-width="0.75"/><circle cx="469.54" cy="211.5" r="1.65" fill="#fff" stroke="#1a8cf2" stroke-width="0.75"/><circle cx="471.2" cy="211.8" r="1.65" fill="#fff" stroke="#1a8cf2" stroke-width="0.75"/><circle cx="472.87" cy="211.85" r="1.65" fill="#fff" stroke="#1a8cf2" stroke-width="0.75"/><circle cx="474.53" cy="211.46" r="1.65" fill="#fff" stroke="#1a8cf2" stroke-width="0.75"/><circle cx="476.2" cy="211.58" r="1.65" fill="#fff" stroke="#1a8cf2" stroke-width="0.75"/><circle cx="477.87" cy="211.77" r="1.65" fill="#fff" stroke="#1a8cf2" stroke-width="0.75"/><circle cx="479.53" cy="211.44" r="1.65" fill="#fff" stroke="#1a8cf2" stroke-width="0.75"/><circle cx="481.2" cy="211.81" r="1.65" fill="#fff" stroke="#1a8cf2" stroke-width="0.75"/><circle cx="482.86" cy="211.66" r="1.65" fill="#fff" stroke="#1a8cf2" stroke-width="0.75"/><circle cx="484.53" cy="211.76" r="1.65" fill="#fff" stroke="#1a8cf2" stroke-width="0.75"/><circle cx="486.2" cy="211.76" r="1.65" fill="#fff" stroke="#1a8cf2" stroke-width="0.75"/><circle cx="487.86" cy="211.88" r="1.65" fill="#fff" stroke="#1a8cf2" stroke-width="0.75"/><circle cx="489.53" cy="211.49" r="1.65" fill="#fff" stroke="#1a8cf2" stroke-width="0.75"/><circle cx="491.19" cy="211.44" r="1.65" fill="#fff" stroke="#1a8cf2" stroke-width="0.75"/><circle cx="492.86" cy="211.55" r="1.65" fill="#fff" stroke="#1a8cf2" stroke-width="0.75"/><circle cx="494.53" cy="211.81" r="1.65" fill="#fff" stroke="#1a8cf2" stroke-width="0.75"/><circle cx="496.19" cy="211.67" r="1.65" fill="#fff" stroke="#1a8cf2" stroke-width="0.75"/><circle cx="497.86" cy="211.72" r="1.65" fill="#fff" stroke="#1a8cf2" stroke-width="0.75"/><circle cx="499.52" cy="211.6" r="1.65" fill="#fff" stroke="#1a8cf2" stroke-width="0.75"/><circle cx="501.19" cy="211.57" r="1.65" fill="#fff" stroke="#1a8cf2" stroke-width="0.75"/><circle cx="502.86" cy="211.68" r="1.65" fill="#fff" stroke="#1a8cf2" stroke-width="0.75"/><circle cx="504.52" cy="211.76" r="1.65" fill="#fff" stroke="#1a8cf2" stroke-width="0.75"/><circle cx="506.19" cy="211.47" r="1.65" fill="#fff" stroke="#1a8cf2" stroke-width="0.75"/><circle cx="507.85" cy="211.79" r="1.65" fill="#fff" stroke="#1a8cf2" stroke-width="0.75"/><circle cx="509.52" cy="211.7" r="1.65" fill="#fff" stroke="#1a8cf2" stroke-width="0.75"/><circle cx="511.19" cy="211.65" r="1.65" fill="#fff" stroke="#1a8cf2" stroke-width="0.75"/><circle cx="512.85" cy="211.77" r="1.65" fill="#fff" stroke="#1a8cf2" stroke-width="0.75"/><circle cx="514.52" cy="211.6" r="1.65" fill="#fff" stroke="#1a8cf2" stroke-width="0.75"/><circle cx="516.18" cy="211.6" r="1.65" fill="#fff" stroke="#1a8cf2" stroke-width="0.75"/><circle cx="517.85" cy="211.4" r="1.65" fill="#fff" stroke="#1a8cf2" stroke-width="0.75"/><circle cx="519.52" cy="211.74" r="1.65" fill="#fff" stroke="#1a8cf2" stroke-width="0.75"/><circle cx="521.18" cy="211.41" r="1.65" fill="#fff" stroke="#1a8cf2" stroke-width="0.75"/><circle cx="522.85" cy="211.56" r="1.65" fill="#fff" stroke="#1a8cf2" stroke-width="0.75"/><circle cx="524.51" cy="211.75" r="1.65" fill="#fff" stroke="#1a8cf2" stroke-width="0.75"/><circle cx="526.18" cy="211.61" r="1.65" fill="#fff" stroke="#1a8cf2" stroke-width="0.75"/><circle cx="527.85" cy="211.55" r="1.65" fill="#fff" stroke="#1a8cf2" stroke-width="0.75"/><circle cx="529.51" cy="211.52" r="1.65" fill="#fff" stroke="#1a8cf2" stroke-width="0.75"/><circle cx="531.18" cy="211.86" r="1.65" fill="#fff" stroke="#1a8cf2" stroke-width="0.75"/><circle cx="532.84" cy="211.59" r="1.65" fill="#fff" stroke="#1a8cf2" stroke-width="0.75"/><circle cx="534.51" cy="211.64" r="1.65" fill="#fff" stroke="#1a8cf2" stroke-width="0.75"/><circle cx="536.18" cy="211.44" r="1.65" fill="#fff" stroke="#1a8cf2" stroke-width="0.75"/><circle cx="537.84" cy="211.74" r="1.65" fill="#fff" stroke="#1a8cf2" stroke-width="0.75"/><circle cx="539.51" cy="211.49" r="1.65" fill="#fff" stroke="#1a8cf2" stroke-width="0.75"/><circle cx="541.17" cy="211.59" r="1.65" fill="#fff" stroke="#1a8cf2" stroke-width="0.75"/><circle cx="542.84" cy="211.71" r="1.65" fill="#fff" stroke="#1a8cf2" stroke-width="0.75"/><circle cx="544.51" cy="211.57" r="1.65" fill="#fff" stroke="#1a8cf2" stroke-width="0.75"/><circle cx="546.17" cy="211.58" r="1.65" fill="#fff" stroke="#1a8cf2" stroke-width="0.75"/><circle cx="547.84" cy="211.55" r="1.65" fill="#fff" stroke="#1a8cf2" stroke-width="0.75"/><circle cx="549.5" cy="211.53" r="1.65" fill="#fff" stroke="#1a8cf2" stroke-width="0.75"/><circle cx="551.17" cy="211.56" r="1.65" fill="#fff" stroke="#1a8cf2" stroke-width="0.75"/><circle cx="552.84" cy="211.47" r="1.65" fill="#fff" stroke="#1a8cf2" stroke-width="0.75"/><circle cx="554.5" cy="211.58" r="1.65" fill="#fff" stroke="#1a8cf2" stroke-width="0.75"/><circle cx="556.17" cy="211.44" r="1.65" fill="#fff" stroke="#1a8cf2" stroke-width="0.75"/><circle cx="557.83" cy="211.57" r="1.65" fill="#fff" stroke="#1a8cf2" stroke-width="0.75"/><circle cx="559.5" cy="211.73" r="1.65" fill="#fff" stroke="#1a8cf2" stroke-width="0.75"/><circle cx="561.17" cy="211.67" r="1.65" fill="#fff" stroke="#1a8cf2" stroke-width="0.75"/><circle cx="562.83" cy="211.6" r="1.65" fill="#fff" stroke="#1a8cf2" stroke-width="0.75"/><circle cx="564.5" cy="211.53" r="1.65" fill="#fff" stroke="#1a8cf2" stroke-width="0.75"/><circle cx="566.16" cy="211.84" r="1.65" fill="#fff" stroke="#1a8cf2" stroke-width="0.75"/><circle cx="567.83" cy="211.74" r="1.65" fill="#fff" stroke="#1a8cf2" stroke-width="0.75"/><circle cx="569.5" cy="211.52" r="1.65" fill="#fff" stroke="#1a8cf2" stroke-width="0.75"/><circle cx="571.16" cy="211.8" r="1.65" fill="#fff" stroke="#1a8cf2" stroke-width="0.75"/><circle cx="572.83" cy="211.82" r="1.65" fill="#fff" stroke="#1a8cf2" stroke-width="0.75"/><circle cx="574.49" cy="211.62" r="1.65" fill="#fff" stroke="#1a8cf2" stroke-width="0.75"/><circle cx="576.16" cy="211.41" r="1.65" fill="#fff" stroke="#1a8cf2" stroke-width="0.75"/><circle cx="577.83" cy="211.62" r="1.65" fill="#fff" stroke="#1a8cf2" stroke-width="0.75"/><circle cx="579.49" cy="211.44" r="1.65" fill="#fff" stroke="#1a8cf2" stroke-width="0.75"/><circle cx="581.16" cy="211.48" r="1.65" fill="#fff" stroke="#1a8cf2" stroke-width="0.75"/><circle cx="582.82" cy="211.76" r="1.65" fill="#fff" stroke="#1a8cf2" stroke-width="0.75"/><circle cx="584.49" cy="211.48" r="1.65" fill="#fff" stroke="#1a8cf2" stroke-width="0.75"/><circle cx="586.16" cy="211.65" r="1.65" fill="#fff" stroke="#1a8cf2" stroke-width="0.75"/><circle cx="587.82" cy="211.49" r="1.65" fill="#fff" stroke="#1a8cf2" stroke-width="0.75"/><circle cx="589.49" cy="211.52" r="1.65" fill="#fff" stroke="#1a8cf2" stroke-width="0.75"/><circle cx="591.15" cy="211.72" r="1.65" fill="#fff" stroke="#1a8cf2" stroke-width="0.75"/><circle cx="592.82" cy="211.83" r="1.65" fill="#fff" stroke="#1a8cf2" stroke-width="0.75"/><circle cx="594.49" cy="211.41" r="1.65" fill="#fff" stroke="#1a8cf2" stroke-width="0.75"/><circle cx="596.15" cy="211.82" r="1.65" fill="#fff" stroke="#1a8cf2" stroke-width="0.75"/><circle cx="597.82" cy="211.41" r="1.65" fill="#fff" stroke="#1a8cf2" stroke-width="0.75"/><circle cx="599.48" cy="211.46" r="1.65" fill="#fff" stroke="#1a8cf2" stroke-width="0.75"/><circle cx="601.15" cy="211.53" r="1.65" fill="#fff" stroke="#1a8cf2" stroke-width="0.75"/><circle cx="602.82" cy="211.4" r="1.65" fill="#fff" stroke="#1a8cf2" stroke-width="0.75"/><circle cx="604.48" cy="211.41" r="1.65" fill="#fff" stroke="#1a8cf2" stroke-width="0.75"/><circle cx="606.15" cy="211.49" r="1.65" fill="#fff" stroke="#1a8cf2" stroke-width="0.75"/><circle cx="607.81" cy="211.71" r="1.65" fill="#fff" stroke="#1a8cf2" stroke-width="0.75"/><circle cx="609.48" cy="211.5" r="1.65" fill="#fff" stroke="#1a8cf2" stroke-width="0.75"/><circle cx="611.15" cy="211.88" r="1.65" fill="#fff" stroke="#1a8cf2" stroke-width="0.75"/><circle cx="612.81" cy="211.62" r="1.65" fill="#fff" stroke="#1a8cf2" stroke-width="0.75"/><circle cx="614.48" cy="211.66" r="1.65" fill="#fff" stroke="#1a8cf2" stroke-width="0.75"/><circle cx="616.14" cy="211.56" r="1.65" fill="#fff" stroke="#1a8cf2" stroke-width="0.75"/><circle cx="617.81" cy="211.56" r="1.65" fill="#fff" stroke="#1a8cf2" stroke-width="0.75"/><circle cx="619.48" cy="211.6" r="1.65" fill="#fff" stroke="#1a8cf2" stroke-width="0.75"/><circle cx="621.14" cy="211.48" r="1.65" fill="#fff" stroke="#1a8cf2" stroke-width="0.75"/><circle cx="622.81" cy="211.42" r="1.65" fill="#fff" stroke="#1a8cf2" stroke-width="0.75"/><circle cx="624.47" cy="211.83" r="1.65" fill="#fff" stroke="#1a8cf2" stroke-width="0.75"/><circle cx="626.14" cy="211.77" r="1.65" fill="#fff" stroke="#1a8cf2" stroke-width="0.75"/><circle cx="627.81" cy="211.87" r="1.65" fill="#fff" stroke="#1a8cf2" stroke-width="0.75"/><circle cx="629.47" cy="211.45" r="1.65" fill="#fff" stroke="#1a8cf2" stroke-width="0.75"/><circle cx="631.14" cy="211.61" r="1.65" fill="#fff" stroke="#1a8cf2" stroke-width="0.75"/><circle cx="632.8" cy="211.44" r="1.65" fill="#fff" stroke="#1a8cf2" stroke-width="0.75"/><circle cx="634.47" cy="211.78" r="1.65" fill="#fff" stroke="#1a8cf2" stroke-width="0.75"/><circle cx="636.14" cy="211.85" r="1.65" fill="#fff" stroke="#1a8cf2" stroke-width="0.75"/><circle cx="637.8" cy="211.48" r="1.65" fill="#fff" stroke="#1a8cf2" stroke-width="0.75"/><circle cx="639.47" cy="211.44" r="1.65" fill="#fff" stroke="#1a8cf2" stroke-width="0.75"/><circle cx="641.13" cy="211.74" r="1.65" fill="#fff" stroke="#1a8cf2" stroke-width="0.75"/><circle cx="642.8" cy="211.68" r="1.65" fill="#fff" stroke="#1a8cf2" stroke-width="0.75"/><circle cx="644.47" cy="211.82" r="1.65" fill="#fff" stroke="#1a8cf2" stroke-width="0.75"/><circle cx="646.13" cy="211.42" r="1.65" fill="#fff" stroke="#1a8cf2" stroke-width="0.75"/><circle cx="647.8" cy="211.74" r="1.65" fill="#fff" stroke="#1a8cf2" stroke-width="0.75"/><circle cx="649.46" cy="211.64" r="1.65" fill="#fff" stroke="#1a8cf2" stroke-width="0.75"/><circle cx="651.13" cy="211.84" r="1.65" fill="#fff" stroke="#1a8cf2" stroke-width="0.75"/><circle cx="311.27" cy="238.71" r="1.65" fill="#fff" stroke="#f0693c" stroke-width="0.75"/><circle cx="312.93" cy="216.42" r="1.65" fill="#fff" stroke="#f0693c" stroke-width="0.75"/><circle cx="314.6" cy="223.03" r="1.65" fill="#fff" stroke="#f0693c" stroke-width="0.75"/><circle cx="316.26" cy="214.36" r="1.65" fill="#fff" stroke="#f0693c" stroke-width="0.75"/><circle cx="317.93" cy="214.55" r="1.65" fill="#fff" stroke="#f0693c" stroke-width="0.75"/><circle cx="319.6" cy="214.47" r="1.65" fill="#fff" stroke="#f0693c" stroke-width="0.75"/><circle cx="321.26" cy="214.41" r="1.65" fill="#fff" stroke="#f0693c" stroke-width="0.75"/><circle cx="322.93" cy="214.4" r="1.65" fill="#fff" stroke="#f0693c" stroke-width="0.75"/><circle cx="324.59" cy="214.35" r="1.65" fill="#fff" stroke="#f0693c" stroke-width="0.75"/><circle cx="326.26" cy="214.47" r="1.65" fill="#fff" stroke="#f0693c" stroke-width="0.75"/><circle cx="327.93" cy="214.39" r="1.65" fill="#fff" stroke="#f0693c" stroke-width="0.75"/><circle cx="329.59" cy="214.54" r="1.65" fill="#fff" stroke="#f0693c" stroke-width="0.75"/><circle cx="331.26" cy="214.47" r="1.65" fill="#fff" stroke="#f0693c" stroke-width="0.75"/><circle cx="332.92" cy="214.55" r="1.65" fill="#fff" stroke="#f0693c" stroke-width="0.75"/><circle cx="334.59" cy="214.45" r="1.65" fill="#fff" stroke="#f0693c" stroke-width="0.75"/><circle cx="336.26" cy="214.47" r="1.65" fill="#fff" stroke="#f0693c" stroke-width="0.75"/><circle cx="337.92" cy="214.34" r="1.65" fill="#fff" stroke="#f0693c" stroke-width="0.75"/><circle cx="339.59" cy="214.56" r="1.65" fill="#fff" stroke="#f0693c" stroke-width="0.75"/><circle cx="341.25" cy="214.48" r="1.65" fill="#fff" stroke="#f0693c" stroke-width="0.75"/><circle cx="342.92" cy="214.46" r="1.65" fill="#fff" stroke="#f0693c" stroke-width="0.75"/><circle cx="344.59" cy="214.34" r="1.65" fill="#fff" stroke="#f0693c" stroke-width="0.75"/><circle cx="346.25" cy="214.36" r="1.65" fill="#fff" stroke="#f0693c" stroke-width="0.75"/><circle cx="347.92" cy="214.54" r="1.65" fill="#fff" stroke="#f0693c" stroke-width="0.75"/><circle cx="349.58" cy="214.4" r="1.65" fill="#fff" stroke="#f0693c" stroke-width="0.75"/><circle cx="351.25" cy="214.43" r="1.65" fill="#fff" stroke="#f0693c" stroke-width="0.75"/><circle cx="352.92" cy="214.33" r="1.65" fill="#fff" stroke="#f0693c" stroke-width="0.75"/><circle cx="354.58" cy="214.48" r="1.65" fill="#fff" stroke="#f0693c" stroke-width="0.75"/><circle cx="356.25" cy="214.47" r="1.65" fill="#fff" stroke="#f0693c" stroke-width="0.75"/><circle cx="357.91" cy="214.52" r="1.65" fill="#fff" stroke="#f0693c" stroke-width="0.75"/><circle cx="359.58" cy="214.53" r="1.65" fill="#fff" stroke="#f0693c" stroke-width="0.75"/><circle cx="361.25" cy="214.36" r="1.65" fill="#fff" stroke="#f0693c" stroke-width="0.75"/><circle cx="362.91" cy="214.45" r="1.65" fill="#fff" stroke="#f0693c" stroke-width="0.75"/><circle cx="364.58" cy="214.4" r="1.65" fill="#fff" stroke="#f0693c" stroke-width="0.75"/><circle cx="366.24" cy="214.4" r="1.65" fill="#fff" stroke="#f0693c" stroke-width="0.75"/><circle cx="367.91" cy="214.41" r="1.65" fill="#fff" stroke="#f0693c" stroke-width="0.75"/><circle cx="369.58" cy="214.56" r="1.65" fill="#fff" stroke="#f0693c" stroke-width="0.75"/><circle cx="371.24" cy="214.37" r="1.65" fill="#fff" stroke="#f0693c" stroke-width="0.75"/><circle cx="372.91" cy="214.5" r="1.65" fill="#fff" stroke="#f0693c" stroke-width="0.75"/><circle cx="374.57" cy="214.53" r="1.65" fill="#fff" stroke="#f0693c" stroke-width="0.75"/><circle cx="376.24" cy="214.42" r="1.65" fill="#fff" stroke="#f0693c" stroke-width="0.75"/><circle cx="377.91" cy="214.54" r="1.65" fill="#fff" stroke="#f0693c" stroke-width="0.75"/><circle cx="379.57" cy="214.37" r="1.65" fill="#fff" stroke="#f0693c" stroke-width="0.75"/><circle cx="381.24" cy="214.51" r="1.65" fill="#fff" stroke="#f0693c" stroke-width="0.75"/><circle cx="382.9" cy="214.5" r="1.65" fill="#fff" stroke="#f0693c" stroke-width="0.75"/><circle cx="384.57" cy="214.34" r="1.65" fill="#fff" stroke="#f0693c" stroke-width="0.75"/><circle cx="386.24" cy="214.47" r="1.65" fill="#fff" stroke="#f0693c" stroke-width="0.75"/><circle cx="387.9" cy="214.52" r="1.65" fill="#fff" stroke="#f0693c" stroke-width="0.75"/><circle cx="389.57" cy="214.33" r="1.65" fill="#fff" stroke="#f0693c" stroke-width="0.75"/><circle cx="391.23" cy="214.55" r="1.65" fill="#fff" stroke="#f0693c" stroke-width="0.75"/><circle cx="392.9" cy="214.34" r="1.65" fill="#fff" stroke="#f0693c" stroke-width="0.75"/><circle cx="394.57" cy="214.52" r="1.65" fill="#fff" stroke="#f0693c" stroke-width="0.75"/><circle cx="396.23" cy="214.52" r="1.65" fill="#fff" stroke="#f0693c" stroke-width="0.75"/><circle cx="397.9" cy="214.49" r="1.65" fill="#fff" stroke="#f0693c" stroke-width="0.75"/><circle cx="399.56" cy="214.51" r="1.65" fill="#fff" stroke="#f0693c" stroke-width="0.75"/><circle cx="401.23" cy="214.39" r="1.65" fill="#fff" stroke="#f0693c" stroke-width="0.75"/><circle cx="402.9" cy="214.54" r="1.65" fill="#fff" stroke="#f0693c" stroke-width="0.75"/><circle cx="404.56" cy="214.54" r="1.65" fill="#fff" stroke="#f0693c" stroke-width="0.75"/><circle cx="406.23" cy="214.35" r="1.65" fill="#fff" stroke="#f0693c" stroke-width="0.75"/><circle cx="407.89" cy="214.49" r="1.65" fill="#fff" stroke="#f0693c" stroke-width="0.75"/><circle cx="409.56" cy="214.47" r="1.65" fill="#fff" stroke="#f0693c" stroke-width="0.75"/><circle cx="411.23" cy="214.5" r="1.65" fill="#fff" stroke="#f0693c" stroke-width="0.75"/><circle cx="412.89" cy="214.53" r="1.65" fill="#fff" stroke="#f0693c" stroke-width="0.75"/><circle cx="414.56" cy="214.36" r="1.65" fill="#fff" stroke="#f0693c" stroke-width="0.75"/><circle cx="416.22" cy="214.41" r="1.65" fill="#fff" stroke="#f0693c" stroke-width="0.75"/><circle cx="417.89" cy="214.36" r="1.65" fill="#fff" stroke="#f0693c" stroke-width="0.75"/><circle cx="419.56" cy="214.43" r="1.65" fill="#fff" stroke="#f0693c" stroke-width="0.75"/><circle cx="421.22" cy="214.35" r="1.65" fill="#fff" stroke="#f0693c" stroke-width="0.75"/><circle cx="422.89" cy="214.42" r="1.65" fill="#fff" stroke="#f0693c" stroke-width="0.75"/><circle cx="424.55" cy="214.51" r="1.65" fill="#fff" stroke="#f0693c" stroke-width="0.75"/><circle cx="426.22" cy="214.42" r="1.65" fill="#fff" stroke="#f0693c" stroke-width="0.75"/><circle cx="427.89" cy="214.31" r="1.65" fill="#fff" stroke="#f0693c" stroke-width="0.75"/><circle cx="429.55" cy="214.53" r="1.65" fill="#fff" stroke="#f0693c" stroke-width="0.75"/><circle cx="431.22" cy="214.35" r="1.65" fill="#fff" stroke="#f0693c" stroke-width="0.75"/><circle cx="432.88" cy="214.32" r="1.65" fill="#fff" stroke="#f0693c" stroke-width="0.75"/><circle cx="434.55" cy="214.41" r="1.65" fill="#fff" stroke="#f0693c" stroke-width="0.75"/><circle cx="436.22" cy="214.42" r="1.65" fill="#fff" stroke="#f0693c" stroke-width="0.75"/><circle cx="437.88" cy="214.3" r="1.65" fill="#fff" stroke="#f0693c" stroke-width="0.75"/><circle cx="439.55" cy="214.52" r="1.65" fill="#fff" stroke="#f0693c" stroke-width="0.75"/><circle cx="441.21" cy="214.42" r="1.65" fill="#fff" stroke="#f0693c" stroke-width="0.75"/><circle cx="442.88" cy="214.44" r="1.65" fill="#fff" stroke="#f0693c" stroke-width="0.75"/><circle cx="444.55" cy="214.36" r="1.65" fill="#fff" stroke="#f0693c" stroke-width="0.75"/><circle cx="446.21" cy="214.41" r="1.65" fill="#fff" stroke="#f0693c" stroke-width="0.75"/><circle cx="447.88" cy="214.31" r="1.65" fill="#fff" stroke="#f0693c" stroke-width="0.75"/><circle cx="449.54" cy="214.51" r="1.65" fill="#fff" stroke="#f0693c" stroke-width="0.75"/><circle cx="451.21" cy="214.51" r="1.65" fill="#fff" stroke="#f0693c" stroke-width="0.75"/><circle cx="452.88" cy="214.38" r="1.65" fill="#fff" stroke="#f0693c" stroke-width="0.75"/><circle cx="454.54" cy="214.51" r="1.65" fill="#fff" stroke="#f0693c" stroke-width="0.75"/><circle cx="456.21" cy="214.46" r="1.65" fill="#fff" stroke="#f0693c" stroke-width="0.75"/><circle cx="457.87" cy="214.37" r="1.65" fill="#fff" stroke="#f0693c" stroke-width="0.75"/><circle cx="459.54" cy="214.39" r="1.65" fill="#fff" stroke="#f0693c" stroke-width="0.75"/><circle cx="461.21" cy="214.45" r="1.65" fill="#fff" stroke="#f0693c" stroke-width="0.75"/><circle cx="462.87" cy="214.28" r="1.65" fill="#fff" stroke="#f0693c" stroke-width="0.75"/><circle cx="464.54" cy="214.4" r="1.65" fill="#fff" stroke="#f0693c" stroke-width="0.75"/><circle cx="466.2" cy="214.41" r="1.65" fill="#fff" stroke="#f0693c" stroke-width="0.75"/><circle cx="467.87" cy="214.38" r="1.65" fill="#fff" stroke="#f0693c" stroke-width="0.75"/><circle cx="469.54" cy="214.5" r="1.65" fill="#fff" stroke="#f0693c" stroke-width="0.75"/><circle cx="471.2" cy="214.35" r="1.65" fill="#fff" stroke="#f0693c" stroke-width="0.75"/><circle cx="472.87" cy="214.31" r="1.65" fill="#fff" stroke="#f0693c" stroke-width="0.75"/><circle cx="474.53" cy="214.36" r="1.65" fill="#fff" stroke="#f0693c" stroke-width="0.75"/><circle cx="476.2" cy="214.33" r="1.65" fill="#fff" stroke="#f0693c" stroke-width="0.75"/><circle cx="477.87" cy="214.34" r="1.65" fill="#fff" stroke="#f0693c" stroke-width="0.75"/><circle cx="479.53" cy="214.47" r="1.65" fill="#fff" stroke="#f0693c" stroke-width="0.75"/><circle cx="481.2" cy="214.41" r="1.65" fill="#fff" stroke="#f0693c" stroke-width="0.75"/><circle cx="482.86" cy="214.46" r="1.65" fill="#fff" stroke="#f0693c" stroke-width="0.75"/><circle cx="484.53" cy="214.44" r="1.65" fill="#fff" stroke="#f0693c" stroke-width="0.75"/><circle cx="486.2" cy="214.41" r="1.65" fill="#fff" stroke="#f0693c" stroke-width="0.75"/><circle cx="487.86" cy="214.42" r="1.65" fill="#fff" stroke="#f0693c" stroke-width="0.75"/><circle cx="489.53" cy="214.49" r="1.65" fill="#fff" stroke="#f0693c" stroke-width="0.75"/><circle cx="491.19" cy="214.41" r="1.65" fill="#fff" stroke="#f0693c" stroke-width="0.75"/><circle cx="492.86" cy="214.35" r="1.65" fill="#fff" stroke="#f0693c" stroke-width="0.75"/><circle cx="494.53" cy="214.42" r="1.65" fill="#fff" stroke="#f0693c" stroke-width="0.75"/><circle cx="496.19" cy="214.48" r="1.65" fill="#fff" stroke="#f0693c" stroke-width="0.75"/><circle cx="497.86" cy="214.29" r="1.65" fill="#fff" stroke="#f0693c" stroke-width="0.75"/><circle cx="499.52" cy="214.5" r="1.65" fill="#fff" stroke="#f0693c" stroke-width="0.75"/><circle cx="501.19" cy="214.31" r="1.65" fill="#fff" stroke="#f0693c" stroke-width="0.75"/><circle cx="502.86" cy="214.49" r="1.65" fill="#fff" stroke="#f0693c" stroke-width="0.75"/><circle cx="504.52" cy="214.49" r="1.65" fill="#fff" stroke="#f0693c" stroke-width="0.75"/><circle cx="506.19" cy="214.33" r="1.65" fill="#fff" stroke="#f0693c" stroke-width="0.75"/><circle cx="507.85" cy="214.31" r="1.65" fill="#fff" stroke="#f0693c" stroke-width="0.75"/><circle cx="509.52" cy="214.37" r="1.65" fill="#fff" stroke="#f0693c" stroke-width="0.75"/><circle cx="511.19" cy="214.37" r="1.65" fill="#fff" stroke="#f0693c" stroke-width="0.75"/><circle cx="512.85" cy="214.37" r="1.65" fill="#fff" stroke="#f0693c" stroke-width="0.75"/><circle cx="514.52" cy="214.43" r="1.65" fill="#fff" stroke="#f0693c" stroke-width="0.75"/><circle cx="516.18" cy="214.48" r="1.65" fill="#fff" stroke="#f0693c" stroke-width="0.75"/><circle cx="517.85" cy="214.42" r="1.65" fill="#fff" stroke="#f0693c" stroke-width="0.75"/><circle cx="519.52" cy="214.34" r="1.65" fill="#fff" stroke="#f0693c" stroke-width="0.75"/><circle cx="521.18" cy="214.32" r="1.65" fill="#fff" stroke="#f0693c" stroke-width="0.75"/><circle cx="522.85" cy="214.29" r="1.65" fill="#fff" stroke="#f0693c" stroke-width="0.75"/><circle cx="524.51" cy="214.33" r="1.65" fill="#fff" stroke="#f0693c" stroke-width="0.75"/><circle cx="526.18" cy="214.27" r="1.65" fill="#fff" stroke="#f0693c" stroke-width="0.75"/><circle cx="527.85" cy="214.36" r="1.65" fill="#fff" stroke="#f0693c" stroke-width="0.75"/><circle cx="529.51" cy="214.42" r="1.65" fill="#fff" stroke="#f0693c" stroke-width="0.75"/><circle cx="531.18" cy="214.36" r="1.65" fill="#fff" stroke="#f0693c" stroke-width="0.75"/><circle cx="532.84" cy="214.45" r="1.65" fill="#fff" stroke="#f0693c" stroke-width="0.75"/><circle cx="534.51" cy="214.34" r="1.65" fill="#fff" stroke="#f0693c" stroke-width="0.75"/><circle cx="536.18" cy="214.44" r="1.65" fill="#fff" stroke="#f0693c" stroke-width="0.75"/><circle cx="537.84" cy="214.47" r="1.65" fill="#fff" stroke="#f0693c" stroke-width="0.75"/><circle cx="539.51" cy="214.29" r="1.65" fill="#fff" stroke="#f0693c" stroke-width="0.75"/><circle cx="541.17" cy="214.41" r="1.65" fill="#fff" stroke="#f0693c" stroke-width="0.75"/><circle cx="542.84" cy="214.31" r="1.65" fill="#fff" stroke="#f0693c" stroke-width="0.75"/><circle cx="544.51" cy="214.36" r="1.65" fill="#fff" stroke="#f0693c" stroke-width="0.75"/><circle cx="546.17" cy="214.3" r="1.65" fill="#fff" stroke="#f0693c" stroke-width="0.75"/><circle cx="547.84" cy="214.29" r="1.65" fill="#fff" stroke="#f0693c" stroke-width="0.75"/><circle cx="549.5" cy="214.26" r="1.65" fill="#fff" stroke="#f0693c" stroke-width="0.75"/><circle cx="551.17" cy="214.29" r="1.65" fill="#fff" stroke="#f0693c" stroke-width="0.75"/><circle cx="552.84" cy="214.34" r="1.65" fill="#fff" stroke="#f0693c" stroke-width="0.75"/><circle cx="554.5" cy="214.34" r="1.65" fill="#fff" stroke="#f0693c" stroke-width="0.75"/><circle cx="556.17" cy="214.49" r="1.65" fill="#fff" stroke="#f0693c" stroke-width="0.75"/><circle cx="557.83" cy="214.26" r="1.65" fill="#fff" stroke="#f0693c" stroke-width="0.75"/><circle cx="559.5" cy="214.29" r="1.65" fill="#fff" stroke="#f0693c" stroke-width="0.75"/><circle cx="561.17" cy="214.42" r="1.65" fill="#fff" stroke="#f0693c" stroke-width="0.75"/><circle cx="562.83" cy="214.45" r="1.65" fill="#fff" stroke="#f0693c" stroke-width="0.75"/><circle cx="564.5" cy="214.32" r="1.65" fill="#fff" stroke="#f0693c" stroke-width="0.75"/><circle cx="566.16" cy="214.41" r="1.65" fill="#fff" stroke="#f0693c" stroke-width="0.75"/><circle cx="567.83" cy="214.4" r="1.65" fill="#fff" stroke="#f0693c" stroke-width="0.75"/><circle cx="569.5" cy="214.49" r="1.65" fill="#fff" stroke="#f0693c" stroke-width="0.75"/><circle cx="571.16" cy="214.27" r="1.65" fill="#fff" stroke="#f0693c" stroke-width="0.75"/><circle cx="572.83" cy="214.35" r="1.65" fill="#fff" stroke="#f0693c" stroke-width="0.75"/><circle cx="574.49" cy="214.39" r="1.65" fill="#fff" stroke="#f0693c" stroke-width="0.75"/><circle cx="576.16" cy="214.45" r="1.65" fill="#fff" stroke="#f0693c" stroke-width="0.75"/><circle cx="577.83" cy="214.33" r="1.65" fill="#fff" stroke="#f0693c" stroke-width="0.75"/><circle cx="579.49" cy="214.48" r="1.65" fill="#fff" stroke="#f0693c" stroke-width="0.75"/><circle cx="581.16" cy="214.3" r="1.65" fill="#fff" stroke="#f0693c" stroke-width="0.75"/><circle cx="582.82" cy="214.43" r="1.65" fill="#fff" stroke="#f0693c" stroke-width="0.75"/><circle cx="584.49" cy="214.38" r="1.65" fill="#fff" stroke="#f0693c" stroke-width="0.75"/><circle cx="586.16" cy="214.4" r="1.65" fill="#fff" stroke="#f0693c" stroke-width="0.75"/><circle cx="587.82" cy="214.39" r="1.65" fill="#fff" stroke="#f0693c" stroke-width="0.75"/><circle cx="589.49" cy="214.3" r="1.65" fill="#fff" stroke="#f0693c" stroke-width="0.75"/><circle cx="591.15" cy="214.29" r="1.65" fill="#fff" stroke="#f0693c" stroke-width="0.75"/><circle cx="592.82" cy="214.34" r="1.65" fill="#fff" stroke="#f0693c" stroke-width="0.75"/><circle cx="594.49" cy="214.46" r="1.65" fill="#fff" stroke="#f0693c" stroke-width="0.75"/><circle cx="596.15" cy="214.46" r="1.65" fill="#fff" stroke="#f0693c" stroke-width="0.75"/><circle cx="597.82" cy="214.44" r="1.65" fill="#fff" stroke="#f0693c" stroke-width="0.75"/><circle cx="599.48" cy="214.33" r="1.65" fill="#fff" stroke="#f0693c" stroke-width="0.75"/><circle cx="601.15" cy="214.31" r="1.65" fill="#fff" stroke="#f0693c" stroke-width="0.75"/><circle cx="602.82" cy="214.41" r="1.65" fill="#fff" stroke="#f0693c" stroke-width="0.75"/><circle cx="604.48" cy="214.31" r="1.65" fill="#fff" stroke="#f0693c" stroke-width="0.75"/><circle cx="606.15" cy="214.35" r="1.65" fill="#fff" stroke="#f0693c" stroke-width="0.75"/><circle cx="607.81" cy="214.37" r="1.65" fill="#fff" stroke="#f0693c" stroke-width="0.75"/><circle cx="609.48" cy="214.41" r="1.65" fill="#fff" stroke="#f0693c" stroke-width="0.75"/><circle cx="611.15" cy="214.29" r="1.65" fill="#fff" stroke="#f0693c" stroke-width="0.75"/><circle cx="612.81" cy="214.44" r="1.65" fill="#fff" stroke="#f0693c" stroke-width="0.75"/><circle cx="614.48" cy="214.37" r="1.65" fill="#fff" stroke="#f0693c" stroke-width="0.75"/><circle cx="616.14" cy="214.4" r="1.65" fill="#fff" stroke="#f0693c" stroke-width="0.75"/><circle cx="617.81" cy="214.3" r="1.65" fill="#fff" stroke="#f0693c" stroke-width="0.75"/><circle cx="619.48" cy="214.35" r="1.65" fill="#fff" stroke="#f0693c" stroke-width="0.75"/><circle cx="621.14" cy="214.31" r="1.65" fill="#fff" stroke="#f0693c" stroke-width="0.75"/><circle cx="622.81" cy="214.46" r="1.65" fill="#fff" stroke="#f0693c" stroke-width="0.75"/><circle cx="624.47" cy="214.37" r="1.65" fill="#fff" stroke="#f0693c" stroke-width="0.75"/><circle cx="626.14" cy="214.32" r="1.65" fill="#fff" stroke="#f0693c" stroke-width="0.75"/><circle cx="627.81" cy="214.46" r="1.65" fill="#fff" stroke="#f0693c" stroke-width="0.75"/><circle cx="629.47" cy="214.39" r="1.65" fill="#fff" stroke="#f0693c" stroke-width="0.75"/><circle cx="631.14" cy="214.41" r="1.65" fill="#fff" stroke="#f0693c" stroke-width="0.75"/><circle cx="632.8" cy="214.43" r="1.65" fill="#fff" stroke="#f0693c" stroke-width="0.75"/><circle cx="634.47" cy="214.4" r="1.65" fill="#fff" stroke="#f0693c" stroke-width="0.75"/><circle cx="636.14" cy="214.38" r="1.65" fill="#fff" stroke="#f0693c" stroke-width="0.75"/><circle cx="637.8" cy="214.46" r="1.65" fill="#fff" stroke="#f0693c" stroke-width="0.75"/><circle cx="639.47" cy="214.28" r="1.65" fill="#fff" stroke="#f0693c" stroke-width="0.75"/><circle cx="641.13" cy="214.42" r="1.65" fill="#fff" stroke="#f0693c" stroke-width="0.75"/><circle cx="642.8" cy="214.37" r="1.65" fill="#fff" stroke="#f0693c" stroke-width="0.75"/><circle cx="644.47" cy="214.29" r="1.65" fill="#fff" stroke="#f0693c" stroke-width="0.75"/><circle cx="646.13" cy="214.34" r="1.65" fill="#fff" stroke="#f0693c" stroke-width="0.75"/><circle cx="647.8" cy="214.25" r="1.65" fill="#fff" stroke="#f0693c" stroke-width="0.75"/><circle cx="649.46" cy="214.26" r="1.65" fill="#fff" stroke="#f0693c" stroke-width="0.75"/><circle cx="651.13" cy="214.44" r="1.65" fill="#fff" stroke="#f0693c" stroke-width="0.75"/><circle cx="611.15" cy="210.29" r="1.65" fill="#fff" stroke="#f0693c" stroke-width="0.75"/><circle cx="627.81" cy="209.19" r="1.65" fill="#fff" stroke="#f0693c" stroke-width="0.75"/><circle cx="629.47" cy="208.33" r="1.65" fill="#fff" stroke="#f0693c" stroke-width="0.75"/><circle cx="631.14" cy="209.19" r="1.65" fill="#fff" stroke="#f0693c" stroke-width="0.75"/><circle cx="632.8" cy="210.91" r="1.65" fill="#fff" stroke="#f0693c" stroke-width="0.75"/><circle cx="637.8" cy="204.17" r="1.65" fill="#fff" stroke="#f0693c" stroke-width="0.75"/><circle cx="639.47" cy="208.7" r="1.65" fill="#fff" stroke="#f0693c" stroke-width="0.75"/><circle cx="642.8" cy="209.19" r="1.65" fill="#fff" stroke="#f0693c" stroke-width="0.75"/><circle cx="646.13" cy="211.27" r="1.65" fill="#fff" stroke="#f0693c" stroke-width="0.75"/><circle cx="559.5" cy="212.62" r="1.65" fill="#fff" stroke="#f0693c" stroke-width="0.75"/><circle cx="592.82" cy="213.11" r="1.65" fill="#fff" stroke="#f0693c" stroke-width="0.75"/></g>
<path d="M621.4,215.2 V233.3 H648.6" fill="none" stroke="#3b4863" stroke-width="0.85" stroke-dasharray="2.2,1.5"/>
<path d="M651.3,233.3 l-3.2,-1.6 v3.2z" fill="#3b4863"/>
<text x="463.5" y="265.6" letter-spacing="0.2" stroke="#1e1e1e" stroke-width="0.1" font-size="8.4">0.3 C</text>
<text x="444.4" y="288.4" letter-spacing="0.2" stroke="#1e1e1e" stroke-width="0.1" font-size="8.4">D50 = 18.64 µm</text>
<circle cx="556" cy="299.4" r="2" fill="#f0693c"/>
<circle cx="556" cy="313" r="2" fill="#1a8cf2"/>
<text x="563.2" y="302.4" stroke="#1e1e1e" stroke-width="0.1" font-size="8.3">3 M LiPF<tspan font-size="5.6" dy="2">6</tspan><tspan dy="-2"> DX/DEE</tspan></text>
<text x="563.2" y="316" stroke="#1e1e1e" stroke-width="0.1" font-size="8.3">1 M LiPF<tspan font-size="5.6" dy="2">6</tspan><tspan dy="-2"> EC/DMC</tspan></text>
<text x="-0.4" y="387.2" font-weight="bold" fill="#000" font-size="13.3" stroke="#000" stroke-width="0.35">e</text>
<line x1="45.6" y1="394.5" x2="210.3" y2="394.5" stroke="#5a5a5a" stroke-width="0.9"/>
<line x1="210.5" y1="394.4" x2="210.5" y2="532.7" stroke="#5a5a5a" stroke-width="0.9"/>
<line x1="45.5" y1="394.4" x2="45.5" y2="532.7" stroke="#5a5a5a" stroke-width="0.9"/>
<line x1="45.6" y1="532.5" x2="210.3" y2="532.5" stroke="#5a5a5a" stroke-width="0.9"/>
<line x1="42.6" y1="529.5" x2="45.6" y2="529.5" stroke="#5a5a5a" stroke-width="0.8"/>
<text x="38.4" y="532.2" letter-spacing="0.25" text-anchor="end" stroke="#1e1e1e" stroke-width="0.1">0</text>
<line x1="43.9" y1="512.5" x2="45.6" y2="512.5" stroke="#5a5a5a" stroke-width="0.7"/>
<line x1="42.6" y1="495.5" x2="45.6" y2="495.5" stroke="#5a5a5a" stroke-width="0.8"/>
<text x="38.4" y="498.45" letter-spacing="0.25" text-anchor="end" stroke="#1e1e1e" stroke-width="0.1">1,000</text>
<line x1="43.9" y1="478.5" x2="45.6" y2="478.5" stroke="#5a5a5a" stroke-width="0.7"/>
<line x1="42.6" y1="461.5" x2="45.6" y2="461.5" stroke="#5a5a5a" stroke-width="0.8"/>
<text x="38.4" y="464.7" letter-spacing="0.25" text-anchor="end" stroke="#1e1e1e" stroke-width="0.1">2,000</text>
<line x1="43.9" y1="445.5" x2="45.6" y2="445.5" stroke="#5a5a5a" stroke-width="0.7"/>
<line x1="42.6" y1="428.5" x2="45.6" y2="428.5" stroke="#5a5a5a" stroke-width="0.8"/>
<text x="38.4" y="430.95" letter-spacing="0.25" text-anchor="end" stroke="#1e1e1e" stroke-width="0.1">3,000</text>
<line x1="43.9" y1="411.5" x2="45.6" y2="411.5" stroke="#5a5a5a" stroke-width="0.7"/>
<line x1="42.6" y1="394.5" x2="45.6" y2="394.5" stroke="#5a5a5a" stroke-width="0.8"/>
<text x="38.4" y="397.2" letter-spacing="0.25" text-anchor="end" stroke="#1e1e1e" stroke-width="0.1">4,000</text>
<line x1="45.5" y1="532.7" x2="45.5" y2="535.2" stroke="#5a5a5a" stroke-width="0.8"/>
<text x="45.6" y="544.8" letter-spacing="0.25" text-anchor="middle" stroke="#1e1e1e" stroke-width="0.1">0</text>
<line x1="55.5" y1="532.7" x2="55.5" y2="534.1" stroke="#5a5a5a" stroke-width="0.6"/>
<line x1="66.5" y1="532.7" x2="66.5" y2="535.2" stroke="#5a5a5a" stroke-width="0.8"/>
<text x="66.12" y="544.8" letter-spacing="0.25" text-anchor="middle" stroke="#1e1e1e" stroke-width="0.1">5</text>
<line x1="76.5" y1="532.7" x2="76.5" y2="534.1" stroke="#5a5a5a" stroke-width="0.6"/>
<line x1="86.5" y1="532.7" x2="86.5" y2="535.2" stroke="#5a5a5a" stroke-width="0.8"/>
<text x="86.65" y="544.8" letter-spacing="0.25" text-anchor="middle" stroke="#1e1e1e" stroke-width="0.1">10</text>
<line x1="96.5" y1="532.7" x2="96.5" y2="534.1" stroke="#5a5a5a" stroke-width="0.6"/>
<line x1="107.5" y1="532.7" x2="107.5" y2="535.2" stroke="#5a5a5a" stroke-width="0.8"/>
<text x="107.18" y="544.8" letter-spacing="0.25" text-anchor="middle" stroke="#1e1e1e" stroke-width="0.1">15</text>
<line x1="117.5" y1="532.7" x2="117.5" y2="534.1" stroke="#5a5a5a" stroke-width="0.6"/>
<line x1="127.5" y1="532.7" x2="127.5" y2="535.2" stroke="#5a5a5a" stroke-width="0.8"/>
<text x="127.7" y="544.8" letter-spacing="0.25" text-anchor="middle" stroke="#1e1e1e" stroke-width="0.1">20</text>
<line x1="137.5" y1="532.7" x2="137.5" y2="534.1" stroke="#5a5a5a" stroke-width="0.6"/>
<line x1="148.5" y1="532.7" x2="148.5" y2="535.2" stroke="#5a5a5a" stroke-width="0.8"/>
<text x="148.23" y="544.8" letter-spacing="0.25" text-anchor="middle" stroke="#1e1e1e" stroke-width="0.1">25</text>
<line x1="158.5" y1="532.7" x2="158.5" y2="534.1" stroke="#5a5a5a" stroke-width="0.6"/>
<line x1="168.5" y1="532.7" x2="168.5" y2="535.2" stroke="#5a5a5a" stroke-width="0.8"/>
<text x="168.75" y="544.8" letter-spacing="0.25" text-anchor="middle" stroke="#1e1e1e" stroke-width="0.1">30</text>
<line x1="179.5" y1="532.7" x2="179.5" y2="534.1" stroke="#5a5a5a" stroke-width="0.6"/>
<line x1="189.5" y1="532.7" x2="189.5" y2="535.2" stroke="#5a5a5a" stroke-width="0.8"/>
<text x="189.28" y="544.8" letter-spacing="0.25" text-anchor="middle" stroke="#1e1e1e" stroke-width="0.1">35</text>
<line x1="199.5" y1="532.7" x2="199.5" y2="534.1" stroke="#5a5a5a" stroke-width="0.6"/>
<line x1="209.5" y1="532.7" x2="209.5" y2="535.2" stroke="#5a5a5a" stroke-width="0.8"/>
<text x="209.8" y="544.8" letter-spacing="0.25" text-anchor="middle" stroke="#1e1e1e" stroke-width="0.1">40</text>
<text x="128" y="557.4" text-anchor="middle" stroke="#1e1e1e" stroke-width="0.1" font-size="9">Cycle number</text>
<text x="11.6" y="463.7" text-anchor="middle" stroke="#1e1e1e" stroke-width="0.1" font-size="9" transform="rotate(-90 11.6 463.7)">Specific capacity (mAh g<tspan font-size="5.6" dy="-3.2">−1</tspan><tspan dy="3.2">)</tspan></text>
<g><circle cx="49.7" cy="410.26" r="2.2" fill="#1a8cf2"/><circle cx="53.81" cy="457.51" r="2.2" fill="#1a8cf2"/><circle cx="57.92" cy="469.32" r="2.2" fill="#1a8cf2"/><circle cx="62.02" cy="474.89" r="2.2" fill="#1a8cf2"/><circle cx="66.12" cy="479.11" r="2.2" fill="#1a8cf2"/><circle cx="70.23" cy="483.5" r="2.2" fill="#1a8cf2"/><circle cx="74.34" cy="489.24" r="2.2" fill="#1a8cf2"/><circle cx="78.44" cy="498.86" r="2.2" fill="#1a8cf2"/><circle cx="82.55" cy="503.92" r="2.2" fill="#1a8cf2"/><circle cx="86.65" cy="507.8" r="2.2" fill="#1a8cf2"/><circle cx="90.75" cy="511.01" r="2.2" fill="#1a8cf2"/><circle cx="94.86" cy="517.76" r="2.2" fill="#1a8cf2"/><circle cx="98.97" cy="521.13" r="2.2" fill="#1a8cf2"/><circle cx="103.07" cy="522.21" r="2.2" fill="#1a8cf2"/><circle cx="107.18" cy="522.99" r="2.2" fill="#1a8cf2"/><circle cx="111.28" cy="523.39" r="2.2" fill="#1a8cf2"/><circle cx="115.39" cy="527.81" r="2.2" fill="#1a8cf2"/><circle cx="119.49" cy="527.88" r="2.2" fill="#1a8cf2"/><circle cx="123.59" cy="527.98" r="2.2" fill="#1a8cf2"/><circle cx="127.7" cy="528.05" r="2.2" fill="#1a8cf2"/><circle cx="131.81" cy="528.05" r="2.2" fill="#1a8cf2"/><circle cx="135.91" cy="529.06" r="2.2" fill="#1a8cf2"/><circle cx="140.02" cy="529.13" r="2.2" fill="#1a8cf2"/><circle cx="144.12" cy="529.13" r="2.2" fill="#1a8cf2"/><circle cx="148.23" cy="529.13" r="2.2" fill="#1a8cf2"/><circle cx="152.33" cy="529.13" r="2.2" fill="#1a8cf2"/><circle cx="156.44" cy="516.41" r="2.2" fill="#1a8cf2"/><circle cx="160.54" cy="512.52" r="2.2" fill="#1a8cf2"/><circle cx="164.65" cy="514.38" r="2.2" fill="#1a8cf2"/><circle cx="168.75" cy="515.9" r="2.2" fill="#1a8cf2"/><circle cx="172.86" cy="516.91" r="2.2" fill="#1a8cf2"/><circle cx="176.96" cy="518.26" r="2.2" fill="#1a8cf2"/><circle cx="181.06" cy="519.27" r="2.2" fill="#1a8cf2"/><circle cx="185.17" cy="520.29" r="2.2" fill="#1a8cf2"/><circle cx="189.28" cy="520.79" r="2.2" fill="#1a8cf2"/><circle cx="193.38" cy="520.96" r="2.2" fill="#1a8cf2"/><circle cx="49.7" cy="408.24" r="2.2" fill="#f0693c"/><circle cx="53.81" cy="434.39" r="2.2" fill="#f0693c"/><circle cx="57.92" cy="436.25" r="2.2" fill="#f0693c"/><circle cx="62.02" cy="436.25" r="2.2" fill="#f0693c"/><circle cx="66.12" cy="436.42" r="2.2" fill="#f0693c"/><circle cx="70.23" cy="436.76" r="2.2" fill="#f0693c"/><circle cx="74.34" cy="437.43" r="2.2" fill="#f0693c"/><circle cx="78.44" cy="439.62" r="2.2" fill="#f0693c"/><circle cx="82.55" cy="439.79" r="2.2" fill="#f0693c"/><circle cx="86.65" cy="439.79" r="2.2" fill="#f0693c"/><circle cx="90.75" cy="439.79" r="2.2" fill="#f0693c"/><circle cx="94.86" cy="440.81" r="2.2" fill="#f0693c"/><circle cx="98.97" cy="444.35" r="2.2" fill="#f0693c"/><circle cx="103.07" cy="444.69" r="2.2" fill="#f0693c"/><circle cx="107.18" cy="444.69" r="2.2" fill="#f0693c"/><circle cx="111.28" cy="444.69" r="2.2" fill="#f0693c"/><circle cx="115.39" cy="449.41" r="2.2" fill="#f0693c"/><circle cx="119.49" cy="452.79" r="2.2" fill="#f0693c"/><circle cx="123.59" cy="452.96" r="2.2" fill="#f0693c"/><circle cx="127.7" cy="453.12" r="2.2" fill="#f0693c"/><circle cx="131.81" cy="453.46" r="2.2" fill="#f0693c"/><circle cx="135.91" cy="473.04" r="2.2" fill="#f0693c"/><circle cx="140.02" cy="474.39" r="2.2" fill="#f0693c"/><circle cx="144.12" cy="473.54" r="2.2" fill="#f0693c"/><circle cx="148.23" cy="473.04" r="2.2" fill="#f0693c"/><circle cx="152.33" cy="472.36" r="2.2" fill="#f0693c"/><circle cx="156.44" cy="446.38" r="2.2" fill="#f0693c"/><circle cx="160.54" cy="438.95" r="2.2" fill="#f0693c"/><circle cx="164.65" cy="438.95" r="2.2" fill="#f0693c"/><circle cx="168.75" cy="438.95" r="2.2" fill="#f0693c"/><circle cx="172.86" cy="439.12" r="2.2" fill="#f0693c"/><circle cx="176.96" cy="439.29" r="2.2" fill="#f0693c"/><circle cx="181.06" cy="439.46" r="2.2" fill="#f0693c"/><circle cx="185.17" cy="439.46" r="2.2" fill="#f0693c"/><circle cx="189.28" cy="439.62" r="2.2" fill="#f0693c"/><circle cx="193.38" cy="439.62" r="2.2" fill="#f0693c"/></g>
<text x="51.6" y="428.8" stroke="#1e1e1e" stroke-width="0.1" font-size="7.2">0.1 C</text>
<text x="76.1" y="433.5" stroke="#1e1e1e" stroke-width="0.1" font-size="7.2">0.2 C</text>
<text x="101.1" y="439.3" stroke="#1e1e1e" stroke-width="0.1" font-size="7.2">0.5 C</text>
<text x="119.5" y="448" stroke="#1e1e1e" stroke-width="0.1" font-size="7.2">1.0 C</text>
<text x="138" y="468.9" stroke="#1e1e1e" stroke-width="0.1" font-size="7.2">2.0 C</text>
<text x="171.6" y="432.1" stroke="#1e1e1e" stroke-width="0.1" font-size="7.2">0.1 C</text>
<circle cx="119.6" cy="401" r="2" fill="#f0693c"/>
<circle cx="119.6" cy="414.4" r="2" fill="#1a8cf2"/>
<text x="126.6" y="404" stroke="#1e1e1e" stroke-width="0.1" font-size="8.3">3 M LiPF<tspan font-size="5.6" dy="2">6</tspan><tspan dy="-2"> DX/DEE</tspan></text>
<text x="126.6" y="417.4" stroke="#1e1e1e" stroke-width="0.1" font-size="8.3">1 M LiPF<tspan font-size="5.6" dy="2">6</tspan><tspan dy="-2"> EC/DMC</tspan></text>
<text x="233.8" y="387" font-weight="bold" fill="#000" font-size="13.3" stroke="#000" stroke-width="0.35">f</text>
<line x1="267.2" y1="391.5" x2="437.9" y2="391.5" stroke="#8a8a8a" stroke-width="0.9"/>
<line x1="437.5" y1="391.3" x2="437.5" y2="533" stroke="#8a8a8a" stroke-width="0.9"/>
<line x1="267.2" y1="391.3" x2="267.2" y2="533.4" stroke="#c8c8c8" stroke-width="1.5"/>
<line x1="267.2" y1="533.5" x2="437.9" y2="533.5" stroke="#5a5a5a" stroke-width="0.9"/>
<line x1="264" y1="533.5" x2="267.2" y2="533.5" stroke="#5a5a5a" stroke-width="0.8"/>
<text x="259.6" y="535.8" letter-spacing="0.25" text-anchor="end" stroke="#1e1e1e" stroke-width="0.1">0</text>
<line x1="265.4" y1="509.5" x2="267.2" y2="509.5" stroke="#5a5a5a" stroke-width="0.7"/>
<line x1="264" y1="485.5" x2="267.2" y2="485.5" stroke="#5a5a5a" stroke-width="0.8"/>
<text x="259.6" y="488.48" letter-spacing="0.25" text-anchor="end" stroke="#1e1e1e" stroke-width="0.1">0.4</text>
<line x1="265.4" y1="462.5" x2="267.2" y2="462.5" stroke="#5a5a5a" stroke-width="0.7"/>
<line x1="264" y1="438.5" x2="267.2" y2="438.5" stroke="#5a5a5a" stroke-width="0.8"/>
<text x="259.6" y="441.16" letter-spacing="0.25" text-anchor="end" stroke="#1e1e1e" stroke-width="0.1">0.8</text>
<line x1="265.4" y1="414.5" x2="267.2" y2="414.5" stroke="#5a5a5a" stroke-width="0.7"/>
<line x1="264" y1="391.5" x2="267.2" y2="391.5" stroke="#5a5a5a" stroke-width="0.8"/>
<text x="259.6" y="393.84" letter-spacing="0.25" text-anchor="end" stroke="#1e1e1e" stroke-width="0.1">1.2</text>
<line x1="267.5" y1="533" x2="267.5" y2="535.6" stroke="#5a5a5a" stroke-width="0.8"/>
<text x="267.3" y="544.6" letter-spacing="0.25" text-anchor="middle" stroke="#1e1e1e" stroke-width="0.1">0</text>
<line x1="281.5" y1="533" x2="281.5" y2="534.5" stroke="#5a5a5a" stroke-width="0.7"/>
<line x1="295.5" y1="533" x2="295.5" y2="535.6" stroke="#5a5a5a" stroke-width="0.8"/>
<text x="295.7" y="544.6" letter-spacing="0.25" text-anchor="middle" stroke="#1e1e1e" stroke-width="0.1">500</text>
<line x1="309.5" y1="533" x2="309.5" y2="534.5" stroke="#5a5a5a" stroke-width="0.7"/>
<line x1="324.5" y1="533" x2="324.5" y2="535.6" stroke="#5a5a5a" stroke-width="0.8"/>
<text x="324.1" y="544.6" letter-spacing="0.25" text-anchor="middle" stroke="#1e1e1e" stroke-width="0.1">1,000</text>
<line x1="338.5" y1="533" x2="338.5" y2="534.5" stroke="#5a5a5a" stroke-width="0.7"/>
<line x1="352.5" y1="533" x2="352.5" y2="535.6" stroke="#5a5a5a" stroke-width="0.8"/>
<text x="352.5" y="544.6" letter-spacing="0.25" text-anchor="middle" stroke="#1e1e1e" stroke-width="0.1">1,500</text>
<line x1="366.5" y1="533" x2="366.5" y2="534.5" stroke="#5a5a5a" stroke-width="0.7"/>
<line x1="380.5" y1="533" x2="380.5" y2="535.6" stroke="#5a5a5a" stroke-width="0.8"/>
<text x="380.9" y="544.6" letter-spacing="0.25" text-anchor="middle" stroke="#1e1e1e" stroke-width="0.1">2,000</text>
<line x1="395.5" y1="533" x2="395.5" y2="534.5" stroke="#5a5a5a" stroke-width="0.7"/>
<line x1="409.5" y1="533" x2="409.5" y2="535.6" stroke="#5a5a5a" stroke-width="0.8"/>
<text x="409.3" y="544.6" letter-spacing="0.25" text-anchor="middle" stroke="#1e1e1e" stroke-width="0.1">2,500</text>
<line x1="423.5" y1="533" x2="423.5" y2="534.5" stroke="#5a5a5a" stroke-width="0.7"/>
<line x1="437.5" y1="533" x2="437.5" y2="535.6" stroke="#5a5a5a" stroke-width="0.8"/>
<text x="437.7" y="544.6" letter-spacing="0.25" text-anchor="middle" stroke="#1e1e1e" stroke-width="0.1">3,000</text>
<text x="350" y="559.9" text-anchor="middle" stroke="#1e1e1e" stroke-width="0.1" font-size="9">Specific capacity (mAh g<tspan font-size="5.6" dy="-3.2">−1</tspan><tspan dy="3.2">)</tspan></text>
<text x="241.8" y="463.5" text-anchor="middle" stroke="#1e1e1e" stroke-width="0.1" font-size="9" transform="rotate(-90 241.8 463.5)">Voltage (V)</text>
<text x="333.6" y="403.2" stroke="#1e1e1e" stroke-width="0.1" font-size="8.3">3 M LiPF<tspan font-size="5.6" dy="2">6</tspan><tspan dy="-2"> DX/DEE</tspan></text>
<line x1="279.5" y1="400.1" x2="287.1" y2="400.1" stroke="#e0661e" stroke-width="1.3"/>
<text x="291.7" y="403" stroke="#1e1e1e" stroke-width="0.1" font-size="7.4">0.1 C</text>
<line x1="279.5" y1="412.25" x2="287.1" y2="412.25" stroke="#12996b" stroke-width="1.3"/>
<text x="291.7" y="415.15" stroke="#1e1e1e" stroke-width="0.1" font-size="7.4">0.2 C</text>
<line x1="279.5" y1="424.4" x2="287.1" y2="424.4" stroke="#c45ad8" stroke-width="1.3"/>
<text x="291.7" y="427.3" stroke="#1e1e1e" stroke-width="0.1" font-size="7.4">0.5 C</text>
<line x1="279.5" y1="436.55" x2="287.1" y2="436.55" stroke="#3f74f5" stroke-width="1.3"/>
<text x="291.7" y="439.45" stroke="#1e1e1e" stroke-width="0.1" font-size="7.4">1.0 C</text>
<line x1="279.5" y1="448.7" x2="287.1" y2="448.7" stroke="#7a7a7a" stroke-width="1.3"/>
<text x="291.7" y="451.6" stroke="#1e1e1e" stroke-width="0.1" font-size="7.4">2.0 C</text>
<g>
<path d="M267.5,438.6 C267.55,443.83 267.62,462.1 267.8,470 C267.98,477.9 268.25,480.53 268.6,486 C268.95,491.47 269.25,499.33 269.9,502.8 C270.55,506.27 271.18,505.58 272.5,506.8 C273.82,508.02 275.17,509 277.8,510.1 C280.43,511.2 284.37,512.2 288.3,513.4 C292.23,514.6 297.02,515.77 301.4,517.3 C305.78,518.83 310.22,521.07 314.6,522.6 C318.98,524.13 323.33,525.42 327.7,526.5 C332.07,527.58 336.53,528.38 340.8,529.1 C345.07,529.82 349.72,530.22 353.3,530.8 C356.88,531.38 360.8,532.3 362.3,532.6" fill="none" stroke="#7a7a7a" stroke-width="1.45" stroke-linecap="round" stroke-linejoin="round"/>
<path d="M267.6,392.2 C267.63,400.17 267.68,427.03 267.8,440 C267.92,452.97 268.07,463.17 268.3,470 C268.53,476.83 268.72,478.15 269.2,481 C269.68,483.85 270.22,484.98 271.2,487.1 C272.18,489.22 273.35,492.07 275.1,493.7 C276.85,495.33 278.42,495.82 281.7,496.9 C284.98,497.98 290.42,499.22 294.8,500.2 C299.18,501.18 303.62,501.92 308,502.8 C312.38,503.68 317.38,504.53 321.1,505.5 C324.82,506.47 327.02,507.53 330.3,508.6 C333.58,509.67 337.2,510.82 340.8,511.9 C344.4,512.98 348.88,514.22 351.9,515.1 C354.92,515.98 355.43,516.43 358.9,517.2 C362.37,517.97 368.08,519.05 372.7,519.7 C377.32,520.35 382.43,520.63 386.6,521.1 C390.77,521.57 394.47,522.05 397.7,522.5 C400.93,522.95 403.23,523.28 406,523.8 C408.77,524.32 411.98,525.17 414.3,525.6 C416.62,526.03 418.5,525.95 419.9,526.4 C421.3,526.85 421.55,527.27 422.7,528.3 C423.85,529.33 426.12,531.88 426.8,532.6" fill="none" stroke="#e0661e" stroke-width="1.45" stroke-linecap="round" stroke-linejoin="round"/>
<path d="M267.6,417.4 C267.65,422.83 267.75,440.4 267.9,450 C268.05,459.6 268.18,469 268.5,475 C268.82,481 269.13,483 269.8,486 C270.47,489 270.52,490.97 272.5,493 C274.48,495.03 277.98,496.78 281.7,498.2 C285.42,499.62 290.42,500.5 294.8,501.5 C299.18,502.5 303.62,503.22 308,504.2 C312.38,505.18 316.72,506.1 321.1,507.4 C325.48,508.7 330.32,510.65 334.3,512 C338.28,513.35 340.9,514.35 345,515.5 C349.1,516.65 354.28,518.03 358.9,518.9 C363.52,519.77 368.08,520.18 372.7,520.7 C377.32,521.22 381.97,521.32 386.6,522 C391.23,522.68 396.8,523.93 400.5,524.8 C404.2,525.67 406.6,526.58 408.8,527.2 C411,527.82 412.08,527.6 413.7,528.5 C415.32,529.4 417.7,531.92 418.5,532.6" fill="none" stroke="#12996b" stroke-width="1.45" stroke-linecap="round" stroke-linejoin="round"/>
<path d="M267.5,421.3 C267.55,426.92 267.63,445.55 267.8,455 C267.97,464.45 268.15,472.33 268.5,478 C268.85,483.67 269.23,486.07 269.9,489 C270.57,491.93 270.53,493.83 272.5,495.6 C274.47,497.37 277.98,498.4 281.7,499.6 C285.42,500.8 290.42,501.72 294.8,502.8 C299.18,503.88 303.62,504.78 308,506.1 C312.38,507.42 316.72,509.18 321.1,510.7 C325.48,512.22 330.32,513.88 334.3,515.2 C338.28,516.52 340.9,517.57 345,518.6 C349.1,519.63 354.28,520.6 358.9,521.4 C363.52,522.2 368.08,522.72 372.7,523.4 C377.32,524.08 381.97,524.57 386.6,525.5 C391.23,526.43 397.03,528.12 400.5,529 C403.97,529.88 405.78,530.2 407.4,530.8 C409.02,531.4 409.73,532.3 410.2,532.6" fill="none" stroke="#c45ad8" stroke-width="1.45" stroke-linecap="round" stroke-linejoin="round"/>
<path d="M267.5,426.6 C267.58,433 267.77,455.6 268,465 C268.23,474.4 268.58,478.33 268.9,483 C269.22,487.67 269.52,490.57 269.9,493 C270.28,495.43 270.33,496.07 271.2,497.6 C272.07,499.13 273.35,501.1 275.1,502.2 C276.85,503.3 278.42,503.33 281.7,504.2 C284.98,505.07 290.42,506.2 294.8,507.4 C299.18,508.6 303.62,509.97 308,511.4 C312.38,512.83 316.72,514.6 321.1,516 C325.48,517.4 330.32,518.8 334.3,519.8 C338.28,520.8 340.9,521.17 345,522 C349.1,522.83 354.28,523.98 358.9,524.8 C363.52,525.62 368.08,526.03 372.7,526.9 C377.32,527.77 382.67,529.05 386.6,530 C390.53,530.95 394.68,532.17 396.3,532.6" fill="none" stroke="#3f74f5" stroke-width="1.45" stroke-linecap="round" stroke-linejoin="round"/>
<path d="M267.4,532.8 C267.7,531.1 268.45,526.5 269.2,522.6 C269.95,518.7 271.02,513.35 271.9,509.4 C272.78,505.45 273.3,501.75 274.5,498.9 C275.7,496.05 277.23,494.05 279.1,492.3 C280.97,490.55 283.08,489.6 285.7,488.4 C288.32,487.2 291.08,485.9 294.8,485.1 C298.52,484.3 303.82,483.97 308,483.6 C312.18,483.23 313.77,483.12 319.9,482.9 C326.03,482.68 337.15,482.45 344.8,482.3 C352.45,482.15 359.33,482.3 365.8,482 C372.27,481.7 378.85,481.18 383.6,480.5 C388.35,479.82 390.75,479.38 394.3,477.9 C397.85,476.42 401.93,473.83 404.9,471.6 C407.87,469.37 410.02,467.47 412.1,464.5 C414.18,461.53 415.92,458.25 417.4,453.8 C418.88,449.35 419.97,444.32 421,437.8 C422.03,431.28 422.78,422.4 423.6,414.7 C424.42,407 425.52,395.45 425.9,391.6" fill="none" stroke="#e0661e" stroke-width="1.45" stroke-linecap="round" stroke-linejoin="round"/>
<path d="M267.4,531.5 C267.82,528.92 268.83,521.22 269.9,516 C270.97,510.78 272.7,504.15 273.8,500.2 C274.9,496.25 275.4,494.48 276.5,492.3 C277.6,490.12 278.43,488.52 280.4,487.1 C282.37,485.68 284.8,484.57 288.3,483.8 C291.8,483.03 294.83,482.8 301.4,482.5 C307.97,482.2 319.27,482.18 327.7,482 C336.13,481.82 344.17,481.8 352,481.4 C359.83,481 368.55,480.33 374.7,479.6 C380.85,478.87 384.75,478.62 388.9,477 C393.05,475.38 396.63,472.57 399.6,469.9 C402.57,467.23 404.62,464.57 406.7,461 C408.78,457.43 410.62,453.25 412.1,448.5 C413.58,443.75 414.63,438.08 415.6,432.5 C416.57,426.92 417.52,417.92 417.9,415" fill="none" stroke="#12996b" stroke-width="1.45" stroke-linecap="round" stroke-linejoin="round"/>
<path d="M267.4,530 C267.82,527 268.62,517.18 269.9,512 C271.18,506.82 273.13,502.4 275.1,498.9 C277.07,495.4 279.5,493.18 281.7,491 C283.9,488.82 285.02,487.3 288.3,485.8 C291.58,484.3 296.13,483 301.4,482 C306.67,481 312.67,480.37 319.9,479.8 C327.13,479.23 337.53,479.02 344.8,478.6 C352.07,478.18 358.52,477.87 363.5,477.3 C368.48,476.73 370.77,476.43 374.7,475.2 C378.63,473.97 383.55,472.27 387.1,469.9 C390.65,467.53 393.32,464.57 396,461 C398.68,457.43 401.27,453.25 403.2,448.5 C405.13,443.75 406.52,438.08 407.6,432.5 C408.68,426.92 409.35,417.92 409.7,415" fill="none" stroke="#c45ad8" stroke-width="1.45" stroke-linecap="round" stroke-linejoin="round"/>
<path d="M267.4,528 C267.82,524.9 269.05,513.48 269.9,509.4 C270.75,505.32 270.53,505.13 272.5,503.5 C274.47,501.87 277.98,501.23 281.7,499.6 C285.42,497.97 290.42,495.57 294.8,493.7 C299.18,491.83 303.72,490.38 308,488.4 C312.28,486.42 316.12,483.63 320.5,481.8 C324.88,479.97 329.72,478.48 334.3,477.4 C338.88,476.32 343.35,476 348,475.3 C352.65,474.6 357.75,474.4 362.2,473.2 C366.65,472 371.13,470.37 374.7,468.1 C378.27,465.83 381.08,463.37 383.6,459.6 C386.12,455.83 388.17,450.32 389.8,445.5 C391.43,440.68 392.42,435.78 393.4,430.7 C394.38,425.62 395.32,417.62 395.7,415" fill="none" stroke="#3f74f5" stroke-width="1.45" stroke-linecap="round" stroke-linejoin="round"/>
<path d="M267.4,524 C267.6,522.23 267.97,516.48 268.6,513.4 C269.23,510.32 270.12,508.03 271.2,505.5 C272.28,502.97 273.35,500.17 275.1,498.2 C276.85,496.23 278.38,495.52 281.7,493.7 C285.02,491.88 290.7,489.4 295,487.3 C299.3,485.2 303.35,483.38 307.5,481.1 C311.65,478.82 315.75,475.88 319.9,473.6 C324.05,471.32 329.07,469.27 332.4,467.4 C335.73,465.53 337.62,464.28 339.9,462.4 C342.18,460.52 344.23,458.6 346.1,456.1 C347.97,453.6 349.43,450.72 351.1,447.4 C352.77,444.08 354.65,440.15 356.1,436.2 C357.55,432.25 358.78,427.23 359.8,423.7 C360.82,420.17 361.8,416.45 362.2,415" fill="none" stroke="#7a7a7a" stroke-width="1.45" stroke-linecap="round" stroke-linejoin="round"/>
</g>
<text x="455.6" y="387" font-weight="bold" fill="#000" font-size="13.3" stroke="#000" stroke-width="0.35">g</text>
<line x1="490.3" y1="390.5" x2="662.3" y2="390.5" stroke="#8a8a8a" stroke-width="0.9"/>
<line x1="662.5" y1="390.4" x2="662.5" y2="533.1" stroke="#8a8a8a" stroke-width="0.9"/>
<line x1="490.3" y1="390.4" x2="490.3" y2="533.5" stroke="#c8c8c8" stroke-width="1.5"/>
<line x1="490.3" y1="533.5" x2="662.3" y2="533.5" stroke="#5a5a5a" stroke-width="0.9"/>
<line x1="487.1" y1="533.5" x2="490.3" y2="533.5" stroke="#5a5a5a" stroke-width="0.8"/>
<text x="482.7" y="535.9" letter-spacing="0.25" text-anchor="end" stroke="#1e1e1e" stroke-width="0.1">0</text>
<line x1="488.5" y1="509.5" x2="490.3" y2="509.5" stroke="#5a5a5a" stroke-width="0.7"/>
<line x1="487.1" y1="485.5" x2="490.3" y2="485.5" stroke="#5a5a5a" stroke-width="0.8"/>
<text x="482.7" y="488.34" letter-spacing="0.25" text-anchor="end" stroke="#1e1e1e" stroke-width="0.1">0.4</text>
<line x1="488.5" y1="461.5" x2="490.3" y2="461.5" stroke="#5a5a5a" stroke-width="0.7"/>
<line x1="487.1" y1="437.5" x2="490.3" y2="437.5" stroke="#5a5a5a" stroke-width="0.8"/>
<text x="482.7" y="440.78" letter-spacing="0.25" text-anchor="end" stroke="#1e1e1e" stroke-width="0.1">0.8</text>
<line x1="488.5" y1="414.5" x2="490.3" y2="414.5" stroke="#5a5a5a" stroke-width="0.7"/>
<line x1="487.1" y1="390.5" x2="490.3" y2="390.5" stroke="#5a5a5a" stroke-width="0.8"/>
<text x="482.7" y="393.22" letter-spacing="0.25" text-anchor="end" stroke="#1e1e1e" stroke-width="0.1">1.2</text>
<line x1="489.5" y1="533.1" x2="489.5" y2="535.7" stroke="#5a5a5a" stroke-width="0.8"/>
<text x="489.8" y="544.7" letter-spacing="0.25" text-anchor="middle" stroke="#1e1e1e" stroke-width="0.1">0</text>
<line x1="504.5" y1="533.1" x2="504.5" y2="534.6" stroke="#5a5a5a" stroke-width="0.7"/>
<line x1="518.5" y1="533.1" x2="518.5" y2="535.7" stroke="#5a5a5a" stroke-width="0.8"/>
<text x="518.55" y="544.7" letter-spacing="0.25" text-anchor="middle" stroke="#1e1e1e" stroke-width="0.1">500</text>
<line x1="532.5" y1="533.1" x2="532.5" y2="534.6" stroke="#5a5a5a" stroke-width="0.7"/>
<line x1="547.5" y1="533.1" x2="547.5" y2="535.7" stroke="#5a5a5a" stroke-width="0.8"/>
<text x="547.3" y="544.7" letter-spacing="0.25" text-anchor="middle" stroke="#1e1e1e" stroke-width="0.1">1,000</text>
<line x1="561.5" y1="533.1" x2="561.5" y2="534.6" stroke="#5a5a5a" stroke-width="0.7"/>
<line x1="576.5" y1="533.1" x2="576.5" y2="535.7" stroke="#5a5a5a" stroke-width="0.8"/>
<text x="576.05" y="544.7" letter-spacing="0.25" text-anchor="middle" stroke="#1e1e1e" stroke-width="0.1">1,500</text>
<line x1="590.5" y1="533.1" x2="590.5" y2="534.6" stroke="#5a5a5a" stroke-width="0.7"/>
<line x1="604.5" y1="533.1" x2="604.5" y2="535.7" stroke="#5a5a5a" stroke-width="0.8"/>
<text x="604.8" y="544.7" letter-spacing="0.25" text-anchor="middle" stroke="#1e1e1e" stroke-width="0.1">2,000</text>
<line x1="619.5" y1="533.1" x2="619.5" y2="534.6" stroke="#5a5a5a" stroke-width="0.7"/>
<line x1="633.5" y1="533.1" x2="633.5" y2="535.7" stroke="#5a5a5a" stroke-width="0.8"/>
<text x="633.55" y="544.7" letter-spacing="0.25" text-anchor="middle" stroke="#1e1e1e" stroke-width="0.1">2,500</text>
<line x1="647.5" y1="533.1" x2="647.5" y2="534.6" stroke="#5a5a5a" stroke-width="0.7"/>
<line x1="662.5" y1="533.1" x2="662.5" y2="535.7" stroke="#5a5a5a" stroke-width="0.8"/>
<text x="662.3" y="544.7" letter-spacing="0.25" text-anchor="middle" stroke="#1e1e1e" stroke-width="0.1">3,000</text>
<text x="575.6" y="559.9" text-anchor="middle" stroke="#1e1e1e" stroke-width="0.1" font-size="9">Specific capacity (mAh g<tspan font-size="5.6" dy="-3.2">−1</tspan><tspan dy="3.2">)</tspan></text>
<text x="464.6" y="463.5" text-anchor="middle" stroke="#1e1e1e" stroke-width="0.1" font-size="9" transform="rotate(-90 464.6 463.5)">Voltage (V)</text>
<text x="515.6" y="403.2" stroke="#1e1e1e" stroke-width="0.1" font-size="8.3">1 M LiPF<tspan font-size="5.6" dy="2">6</tspan><tspan dy="-2"> EC/DMC</tspan></text>
<line x1="625" y1="400.1" x2="632.6" y2="400.1" stroke="#f2744a" stroke-width="1.3"/>
<text x="637.2" y="403" stroke="#1e1e1e" stroke-width="0.1" font-size="7.4">0.1 C</text>
<line x1="625" y1="412.25" x2="632.6" y2="412.25" stroke="#12996b" stroke-width="1.3"/>
<text x="637.2" y="415.15" stroke="#1e1e1e" stroke-width="0.1" font-size="7.4">0.2 C</text>
<line x1="625" y1="424.4" x2="632.6" y2="424.4" stroke="#c45ad8" stroke-width="1.3"/>
<text x="637.2" y="427.3" stroke="#1e1e1e" stroke-width="0.1" font-size="7.4">0.5 C</text>
<line x1="625" y1="436.55" x2="632.6" y2="436.55" stroke="#3f74f5" stroke-width="1.3"/>
<text x="637.2" y="439.45" stroke="#1e1e1e" stroke-width="0.1" font-size="7.4">1.0 C</text>
<line x1="625" y1="448.7" x2="632.6" y2="448.7" stroke="#7a7a7a" stroke-width="1.3"/>
<text x="637.2" y="451.6" stroke="#1e1e1e" stroke-width="0.1" font-size="7.4">2.0 C</text>
<g>
<path d="M490.4,394.4 C490.42,402 490.47,427.4 490.5,440 C490.53,452.6 490.48,463.33 490.6,470 C490.72,476.67 490.85,476.92 491.2,480 C491.55,483.08 491.87,485.9 492.7,488.5 C493.53,491.1 494.42,493.7 496.2,495.6 C497.98,497.5 499.83,498.48 503.4,499.9 C506.97,501.32 512.87,502.57 517.6,504.1 C522.33,505.63 527.9,507.37 531.8,509.1 C535.7,510.83 537.97,512.93 541,514.5 C544.03,516.07 546.83,517.62 550,518.5 C553.17,519.38 555.37,519.18 560,519.8 C564.63,520.42 572.47,521.35 577.8,522.2 C583.13,523.05 587.47,524 592,524.9 C596.53,525.8 602.25,526.83 605,527.6 C607.75,528.37 607.33,528.62 608.5,529.5 C609.67,530.38 611.42,532.33 612,532.9" fill="none" stroke="#f2744a" stroke-width="1.15" stroke-linecap="round" stroke-linejoin="round"/>
<path d="M490.5,533 C490.67,530.83 491.13,523.5 491.5,520 C491.87,516.5 492.15,514.4 492.7,512 C493.25,509.6 493.73,508.1 494.8,505.6 C495.87,503.1 497.2,499.62 499.1,497 C501,494.38 503.12,492.03 506.2,489.9 C509.28,487.77 513.33,485.67 517.6,484.2 C521.87,482.73 527.23,481.7 531.8,481.1 C536.37,480.5 540.3,480.92 545,480.6 C549.7,480.28 555.72,479.88 560,479.2 C564.28,478.52 567.13,478 570.7,476.5 C574.27,475 578.15,472.72 581.4,470.2 C584.65,467.68 587.67,464.6 590.2,461.4 C592.73,458.2 594.72,454.57 596.6,451 C598.48,447.43 600.1,444 601.5,440 C602.9,436 603.88,431.33 605,427 C606.12,422.67 607.27,418.17 608.2,414 C609.13,409.83 609.87,405.9 610.6,402 C611.33,398.1 612.27,392.5 612.6,390.6" fill="none" stroke="#f2744a" stroke-width="1.15" stroke-linecap="round" stroke-linejoin="round"/>
<path d="M490.4,420.7 C490.42,428.92 490.42,457.62 490.5,470 C490.58,482.38 490.53,489.07 490.9,495 C491.27,500.93 491.1,502.65 492.7,505.6 C494.3,508.55 497.53,510.45 500.5,512.7 C503.47,514.95 506.93,517.33 510.5,519.1 C514.07,520.87 518.35,522.12 521.9,523.3 C525.45,524.48 529.2,525.32 531.8,526.2 C534.4,527.08 535.8,527.47 537.5,528.6 C539.2,529.73 541.25,532.27 542,533" fill="none" stroke="#12996b" stroke-width="1.15" stroke-linecap="round" stroke-linejoin="round"/>
<path d="M490.3,531 C490.35,530 490.43,527.33 490.6,525 C490.77,522.67 490.83,520.48 491.3,517 C491.77,513.52 492.33,507.78 493.4,504.1 C494.47,500.42 496.03,497.87 497.7,494.9 C499.37,491.93 501.27,488.8 503.4,486.3 C505.53,483.8 508.37,481.55 510.5,479.9 C512.63,478.25 514.55,478.05 516.2,476.4 C517.85,474.75 519.1,472.73 520.4,470 C521.7,467.27 522.82,464 524,460 C525.18,456 526.2,451.95 527.5,446 C528.8,440.05 530.58,429.63 531.8,424.3 C533.02,418.97 534.3,415.72 534.8,414" fill="none" stroke="#12996b" stroke-width="1.15" stroke-linecap="round" stroke-linejoin="round"/>
<path d="M490.4,436.4 C490.42,443.67 490.45,467.73 490.5,480 C490.55,492.27 490.53,503.5 490.7,510 C490.87,516.5 491.05,516.67 491.5,519 C491.95,521.33 492.37,522.45 493.4,524 C494.43,525.55 496.35,527.13 497.7,528.3 C499.05,529.47 500.43,530.22 501.5,531 C502.57,531.78 503.67,532.67 504.1,533" fill="none" stroke="#c45ad8" stroke-width="1.15" stroke-linecap="round" stroke-linejoin="round"/>
<path d="M490.5,533 C490.63,530.33 490.82,522.77 491.3,517 C491.78,511.23 492.58,504.33 493.4,498.4 C494.22,492.47 495.37,486.98 496.2,481.4 C497.03,475.82 497.68,472.17 498.4,464.9 C499.12,457.63 499.8,446.28 500.5,437.8 C501.2,429.32 502.25,417.97 502.6,414" fill="none" stroke="#c45ad8" stroke-width="1.15" stroke-linecap="round" stroke-linejoin="round"/>
<path d="M490.5,452 C490.52,465.5 490.58,519.5 490.6,533" fill="none" stroke="#7a7a7a" stroke-width="1" stroke-linecap="round" stroke-linejoin="round"/>
<path d="M490.4,452 C490.43,460 490.55,486.5 490.6,500 C490.65,513.5 490.68,527.5 490.7,533" fill="none" stroke="#3f74f5" stroke-width="0.9" stroke-linecap="round" stroke-linejoin="round"/>
<path d="M491.7,414 C491.73,423.33 491.8,450.17 491.9,470 C492,489.83 492.23,522.5 492.3,533" fill="none" stroke="#3f74f5" stroke-width="1.2" stroke-linecap="round" stroke-linejoin="round"/>
</g>
</svg>
</body></html>
